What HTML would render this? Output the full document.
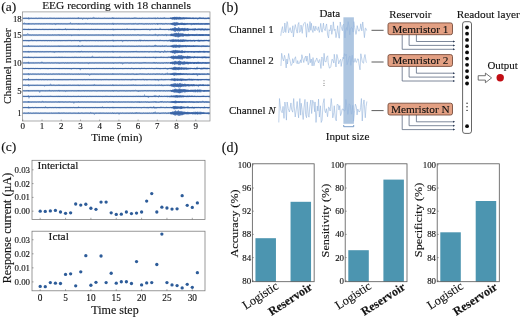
<!DOCTYPE html>
<html><head><meta charset="utf-8"><title>Figure</title>
<style>html,body{margin:0;padding:0;background:#fff;}svg{display:block;filter:blur(0.35px);}svg text{font-family:"Liberation Serif","Times New Roman",serif;}</style>
</head><body>
<svg width="520" height="318" viewBox="0 0 520 318" >
<rect width="520" height="318" fill="#fff"/>
<text x="1.20" y="11.00" font-size="13.5" text-anchor="start" fill="#111" stroke="#111" stroke-width="0.13" >(a)</text>
<text x="116.50" y="9.10" font-size="11.4" text-anchor="middle" fill="#111" stroke="#111" stroke-width="0.13" >EEG recording with 18 channels</text>
<text transform="translate(11.40,66.20) rotate(-90)" font-size="11.4" text-anchor="middle" fill="#111" stroke="#111" stroke-width="0.13" >Channel number</text>
<rect x="22.6" y="11.9" width="187.4" height="109.1" fill="#fbfcfe" stroke="none"/>
<line x1="22.6" y1="18.30" x2="210.0" y2="18.30" stroke="#a9c2e4" stroke-width="2.2" stroke-opacity="0.28"/>
<polyline points="22.90,18.09 23.30,18.35 23.70,18.38 24.10,18.36 24.50,18.31 24.90,18.21 25.30,18.17 25.70,18.21 26.10,18.26 26.50,18.07 26.90,18.43 27.30,18.38 27.70,18.38 28.10,18.13 28.50,17.47 28.90,19.54 29.30,18.45 29.70,18.20 30.10,18.20 30.50,18.27 30.90,18.62 31.30,18.34 31.70,18.12 32.10,18.26 32.50,18.46 32.90,18.01 33.30,18.56 33.70,18.26 34.10,18.35 34.50,18.47 34.90,18.14 35.30,18.14 35.70,18.27 36.10,18.20 36.50,18.09 36.90,18.25 37.30,18.76 37.70,18.58 38.10,18.49 38.50,18.15 38.90,18.23 39.30,18.23 39.70,18.09 40.10,18.04 40.50,18.08 40.90,18.19 41.30,18.01 41.70,18.24 42.10,18.44 42.50,18.30 42.90,18.56 43.30,18.09 43.70,18.55 44.10,18.39 44.50,18.32 44.90,18.40 45.30,18.47 45.70,18.09 46.10,18.46 46.50,18.52 46.90,18.28 47.30,18.39 47.70,18.22 48.10,18.32 48.50,18.52 48.90,18.41 49.30,18.20 49.70,18.14 50.10,18.39 50.50,18.05 50.90,17.90 51.30,18.03 51.70,18.35 52.10,18.19 52.50,18.38 52.90,18.49 53.30,18.43 53.70,18.18 54.10,18.34 54.50,18.25 54.90,18.02 55.30,18.41 55.70,18.69 56.10,18.34 56.50,18.41 56.90,18.22 57.30,18.46 57.70,18.27 58.10,18.07 58.50,18.48 58.90,17.89 59.30,18.89 59.70,18.46 60.10,18.28 60.50,18.31 60.90,18.19 61.30,18.27 61.70,18.29 62.10,18.36 62.50,18.57 62.90,18.34 63.30,18.45 63.70,18.17 64.10,18.54 64.50,18.45 64.90,18.24 65.30,18.42 65.70,18.24 66.10,18.07 66.50,18.50 66.90,18.29 67.30,18.37 67.70,18.22 68.10,18.16 68.50,18.22 68.90,18.36 69.30,18.31 69.70,18.39 70.10,18.53 70.50,18.16 70.90,18.15 71.30,18.31 71.70,18.30 72.10,18.15 72.50,18.26 72.90,18.24 73.30,18.27 73.70,18.30 74.10,18.44 74.50,17.91 74.90,18.05 75.30,18.57 75.70,18.32 76.10,18.31 76.50,18.37 76.90,18.41 77.30,18.25 77.70,18.20 78.10,18.52 78.50,17.29 78.90,18.72 79.30,18.41 79.70,18.11 80.10,18.55 80.50,18.19 80.90,18.40 81.30,18.14 81.70,18.29 82.10,18.42 82.50,19.52 82.90,19.47 83.30,18.31 83.70,18.14 84.10,18.38 84.50,18.37 84.90,18.28 85.30,18.66 85.70,18.27 86.10,18.21 86.50,18.35 86.90,18.33 87.30,19.14 87.70,19.51 88.10,18.15 88.50,18.30 88.90,18.22 89.30,18.41 89.70,18.44 90.10,18.42 90.50,18.20 90.90,18.09 91.30,18.30 91.70,18.44 92.10,18.40 92.50,18.16 92.90,18.17 93.30,17.20 93.70,16.98 94.10,18.01 94.50,18.10 94.90,18.00 95.30,18.25 95.70,18.30 96.10,18.27 96.50,18.23 96.90,18.01 97.30,18.54 97.70,18.52 98.10,18.26 98.50,18.00 98.90,18.29 99.30,18.33 99.70,18.44 100.10,18.38 100.50,18.30 100.90,18.70 101.30,18.20 101.70,18.58 102.10,18.13 102.50,18.46 102.90,18.31 103.30,18.43 103.70,18.24 104.10,18.04 104.50,17.93 104.90,18.26 105.30,18.33 105.70,18.29 106.10,18.23 106.50,18.39 106.90,18.45 107.30,17.98 107.70,18.29 108.10,18.06 108.50,18.63 108.90,18.42 109.30,18.35 109.70,18.17 110.10,18.26 110.50,18.37 110.90,18.22 111.30,17.97 111.70,18.32 112.10,18.39 112.50,18.08 112.90,17.14 113.30,18.97 113.70,18.20 114.10,18.09 114.50,18.20 114.90,18.05 115.30,18.36 115.70,18.42 116.10,18.32 116.50,18.23 116.90,18.07 117.30,18.09 117.70,18.57 118.10,18.17 118.50,18.09 118.90,18.37 119.30,18.24 119.70,18.17 120.10,18.58 120.50,18.33 120.90,18.62 121.30,17.92 121.70,18.38 122.10,18.36 122.50,18.30 122.90,18.40 123.30,18.38 123.70,18.30 124.10,18.12 124.50,18.18 124.90,18.26 125.30,18.18 125.70,18.27 126.10,18.42 126.50,18.19 126.90,18.49 127.30,18.48 127.70,18.28 128.10,18.33 128.50,17.97 128.90,18.48 129.30,18.00 129.70,18.26 130.10,18.57 130.50,18.48 130.90,18.70 131.30,18.32 131.70,18.37 132.10,18.03 132.50,19.00 132.90,18.27 133.30,18.37 133.70,18.28 134.10,17.45 134.50,17.72 134.90,18.23 135.30,17.59 135.70,18.13 136.10,18.29 136.50,17.98 136.90,17.89 137.30,18.51 137.70,18.34 138.10,18.20 138.50,18.59 138.90,18.38 139.30,18.02 139.70,18.98 140.10,18.51 140.50,18.46 140.90,18.36 141.30,19.03 141.70,18.01 142.10,18.08 142.50,18.07 142.90,17.83 143.30,18.34 143.70,18.27 144.10,18.21 144.50,18.05 144.90,18.58 145.30,18.43 145.70,18.53 146.10,18.53 146.50,18.39 146.90,18.20 147.30,18.11 147.70,18.53 148.10,18.24 148.50,17.99 148.90,18.25 149.30,18.28 149.70,18.17 150.10,17.80 150.50,18.32 150.90,18.05 151.30,18.22 151.70,17.97 152.10,18.79 152.50,18.30 152.90,17.93 153.30,18.10 153.70,17.90 154.10,18.43 154.50,18.13 154.90,17.83 155.30,17.64 155.70,19.17 156.10,18.68 156.50,18.48 156.90,18.45 157.30,18.12 157.70,17.52 158.10,17.72 158.50,18.57 158.90,18.46 159.30,18.61 159.70,18.23 160.10,18.78 160.50,17.71 160.90,18.34 161.30,18.77 161.70,17.92 162.10,18.89 162.50,18.17 162.90,18.25 163.30,17.65 163.70,18.82 164.10,18.32 164.50,17.37 164.90,18.34 165.30,18.71 165.70,17.99 166.10,18.06 166.50,18.40 166.90,18.89 167.30,18.40 167.70,18.67 168.10,18.99 168.50,18.36 168.90,18.50 169.30,18.39 169.70,18.08 170.10,18.60 170.50,18.08 170.90,17.92 171.30,18.49 171.70,18.87 172.10,18.72 172.50,18.55 172.90,18.46 173.30,17.85 173.70,18.19 174.10,18.02 174.50,17.69 174.90,18.35 175.30,18.20 175.70,17.97 176.10,17.78 176.50,18.47 176.90,18.78 177.30,18.15 177.70,17.60 178.10,18.31 178.50,18.37 178.90,18.51 179.30,18.08 179.70,18.23 180.10,17.99 180.50,17.65 180.90,18.49 181.30,18.45 181.70,18.58 182.10,18.19 182.50,18.20 182.90,18.35 183.30,18.01 183.70,18.38 184.10,17.74 184.50,18.36 184.90,18.35 185.30,18.16 185.70,17.98 186.10,17.53 186.50,17.76 186.90,17.81 187.30,17.31 187.70,17.96 188.10,18.74 188.50,17.83 188.90,17.63 189.30,18.46 189.70,17.87 190.10,18.62 190.50,18.22 190.90,18.07 191.30,18.57 191.70,18.62 192.10,18.01 192.50,18.20 192.90,18.31 193.30,17.75 193.70,18.98 194.10,18.59 194.50,18.64 194.90,18.39 195.30,18.50 195.70,18.20 196.10,18.50 196.50,18.10 196.90,18.23 197.30,18.52 197.70,19.54 198.10,18.12 198.50,18.80 198.90,18.16 199.30,17.87 199.70,17.31 200.10,17.26 200.50,18.07 200.90,18.37 201.30,18.31 201.70,18.41 202.10,18.66 202.50,18.08 202.90,18.13 203.30,17.95 203.70,18.15 204.10,18.38 204.50,19.17 204.90,18.48 205.30,18.03 205.70,17.85 206.10,19.22 206.50,18.82 206.90,18.18 207.30,17.83 207.70,18.03 208.10,18.55 208.50,18.86 208.90,17.11 209.30,18.96 209.70,18.59" fill="none" stroke="#3f70b4" stroke-width="0.5" stroke-opacity="0.9"/>
<polygon points="170.10,17.48 170.50,17.41 170.90,17.42 171.30,17.61 171.70,17.42 172.10,17.38 172.50,17.12 172.90,16.90 173.30,16.93 173.70,17.03 174.10,17.01 174.50,16.85 174.90,16.73 175.30,16.97 175.70,16.97 176.10,16.43 176.50,17.19 176.90,16.68 177.30,16.67 177.70,17.15 178.10,17.29 178.50,17.23 178.90,16.80 179.30,17.00 179.70,16.87 180.10,16.95 180.50,17.32 180.90,17.19 181.30,17.26 181.70,17.39 182.10,17.54 182.50,17.21 182.90,17.52 183.30,17.20 183.70,17.26 184.10,17.35 184.50,17.50 184.90,17.53 185.30,17.56 185.70,17.51 186.10,17.54 186.50,17.64 186.90,17.68 187.30,17.69 187.70,17.89 188.10,17.72 188.50,17.80 188.90,17.72 189.30,17.55 189.70,17.75 190.10,17.61 190.50,17.75 190.90,17.84 191.30,17.64 191.70,17.72 192.10,17.73 192.50,17.77 192.90,17.47 193.30,17.75 193.70,17.77 194.10,17.72 194.50,17.68 194.90,17.88 195.30,17.84 195.70,17.76 196.10,17.86 196.50,17.84 196.90,17.93 197.30,17.85 197.70,17.92 198.10,17.84 198.50,17.72 198.90,17.83 199.30,17.74 199.70,17.82 200.10,17.77 200.50,17.81 200.90,17.85 201.30,17.64 201.70,17.71 202.10,17.86 202.50,17.80 202.90,17.84 203.30,17.85 203.70,17.77 204.10,17.93 204.50,17.87 204.90,18.01 205.30,17.97 205.70,17.95 206.10,18.00 206.50,18.00 206.90,17.87 207.30,17.89 207.70,17.82 208.10,17.89 208.50,17.87 208.90,17.89 209.30,18.02 209.70,18.04 209.70,18.66 209.30,18.63 208.90,18.71 208.50,18.68 208.10,18.68 207.70,18.81 207.30,18.69 206.90,18.76 206.50,18.66 206.10,18.75 205.70,18.68 205.30,18.70 204.90,18.75 204.50,18.73 204.10,18.77 203.70,18.76 203.30,18.66 202.90,18.79 202.50,18.80 202.10,18.76 201.70,18.84 201.30,18.95 200.90,18.76 200.50,18.76 200.10,18.84 199.70,18.81 199.30,18.84 198.90,18.80 198.50,18.88 198.10,18.82 197.70,18.71 197.30,18.75 196.90,18.64 196.50,18.72 196.10,18.73 195.70,18.88 195.30,18.81 194.90,18.84 194.50,18.94 194.10,18.79 193.70,18.89 193.30,19.03 192.90,18.88 192.50,19.09 192.10,18.95 191.70,18.87 191.30,18.81 190.90,18.70 190.50,19.05 190.10,18.92 189.70,18.97 189.30,18.93 188.90,18.92 188.50,18.90 188.10,18.93 187.70,18.95 187.30,18.95 186.90,18.81 186.50,18.96 186.10,19.17 185.70,18.94 185.30,18.95 184.90,19.17 184.50,19.46 184.10,19.34 183.70,19.29 183.30,19.22 182.90,19.49 182.50,19.33 182.10,19.44 181.70,19.49 181.30,19.22 180.90,19.65 180.50,19.33 180.10,19.67 179.70,19.39 179.30,19.54 178.90,19.55 178.50,19.61 178.10,19.76 177.70,19.28 177.30,19.59 176.90,19.86 176.50,19.63 176.10,19.86 175.70,19.53 175.30,19.55 174.90,20.17 174.50,19.67 174.10,19.54 173.70,19.51 173.30,19.61 172.90,19.38 172.50,19.67 172.10,19.48 171.70,19.17 171.30,19.01 170.90,19.10 170.50,18.87 170.10,18.87" fill="#3763aa" fill-opacity="0.88"/>
<line x1="22.6" y1="18.30" x2="210.0" y2="18.30" stroke="#2f5a9c" stroke-width="0.85"/>
<line x1="22.6" y1="23.88" x2="210.0" y2="23.88" stroke="#a9c2e4" stroke-width="2.2" stroke-opacity="0.28"/>
<polyline points="22.90,23.63 23.30,23.52 23.70,24.04 24.10,22.68 24.50,22.75 24.90,23.70 25.30,23.83 25.70,23.53 26.10,24.06 26.50,23.96 26.90,23.70 27.30,23.91 27.70,24.15 28.10,24.01 28.50,23.00 28.90,24.63 29.30,23.68 29.70,23.64 30.10,23.60 30.50,24.12 30.90,23.99 31.30,23.79 31.70,24.17 32.10,23.80 32.50,23.76 32.90,24.06 33.30,23.89 33.70,23.94 34.10,24.16 34.50,24.19 34.90,23.97 35.30,23.92 35.70,23.63 36.10,23.91 36.50,23.78 36.90,23.80 37.30,23.83 37.70,24.01 38.10,23.57 38.50,23.89 38.90,24.16 39.30,23.82 39.70,23.76 40.10,24.01 40.50,24.08 40.90,23.79 41.30,23.75 41.70,24.05 42.10,23.94 42.50,23.86 42.90,24.25 43.30,23.87 43.70,23.81 44.10,23.70 44.50,23.90 44.90,23.94 45.30,23.99 45.70,23.97 46.10,23.94 46.50,23.54 46.90,23.63 47.30,23.80 47.70,23.86 48.10,23.75 48.50,23.99 48.90,23.58 49.30,23.68 49.70,23.98 50.10,23.89 50.50,23.88 50.90,24.03 51.30,24.11 51.70,23.92 52.10,24.00 52.50,24.20 52.90,24.21 53.30,23.84 53.70,24.08 54.10,23.67 54.50,23.79 54.90,23.79 55.30,24.65 55.70,25.03 56.10,23.52 56.50,24.02 56.90,23.80 57.30,23.73 57.70,23.68 58.10,23.81 58.50,23.67 58.90,23.36 59.30,24.19 59.70,23.75 60.10,23.86 60.50,23.87 60.90,24.05 61.30,23.74 61.70,23.84 62.10,23.60 62.50,24.14 62.90,23.98 63.30,23.69 63.70,24.03 64.10,23.87 64.50,23.82 64.90,24.03 65.30,24.01 65.70,23.85 66.10,24.11 66.50,23.99 66.90,24.04 67.30,24.00 67.70,24.04 68.10,23.90 68.50,23.75 68.90,23.78 69.30,23.82 69.70,24.02 70.10,22.84 70.50,22.36 70.90,23.91 71.30,23.87 71.70,24.25 72.10,23.66 72.50,24.04 72.90,23.74 73.30,23.85 73.70,23.80 74.10,23.99 74.50,23.87 74.90,23.99 75.30,23.75 75.70,23.70 76.10,23.68 76.50,23.54 76.90,24.14 77.30,23.88 77.70,24.29 78.10,23.68 78.50,23.22 78.90,24.36 79.30,23.70 79.70,24.03 80.10,23.82 80.50,23.93 80.90,24.04 81.30,23.97 81.70,23.94 82.10,23.85 82.50,23.75 82.90,23.88 83.30,24.03 83.70,23.86 84.10,23.64 84.50,23.90 84.90,24.09 85.30,23.75 85.70,22.97 86.10,22.93 86.50,23.94 86.90,23.88 87.30,23.69 87.70,23.75 88.10,23.69 88.50,23.63 88.90,23.90 89.30,23.82 89.70,24.01 90.10,23.71 90.50,23.58 90.90,23.89 91.30,24.13 91.70,24.04 92.10,24.02 92.50,23.69 92.90,23.77 93.30,24.33 93.70,23.79 94.10,23.87 94.50,23.89 94.90,23.94 95.30,24.06 95.70,24.04 96.10,23.96 96.50,24.06 96.90,23.82 97.30,23.85 97.70,23.91 98.10,23.61 98.50,24.21 98.90,23.81 99.30,23.99 99.70,23.80 100.10,23.72 100.50,23.78 100.90,23.98 101.30,23.95 101.70,23.82 102.10,23.67 102.50,23.95 102.90,23.93 103.30,23.63 103.70,23.80 104.10,23.59 104.50,23.87 104.90,24.09 105.30,23.89 105.70,23.71 106.10,23.93 106.50,24.10 106.90,23.93 107.30,23.97 107.70,23.93 108.10,23.76 108.50,23.63 108.90,23.87 109.30,23.76 109.70,24.01 110.10,24.21 110.50,23.79 110.90,23.86 111.30,24.03 111.70,24.06 112.10,24.03 112.50,23.87 112.90,22.81 113.30,24.89 113.70,23.83 114.10,23.85 114.50,23.78 114.90,23.91 115.30,24.00 115.70,23.75 116.10,23.88 116.50,23.95 116.90,24.19 117.30,23.68 117.70,23.54 118.10,23.77 118.50,23.85 118.90,24.01 119.30,24.14 119.70,23.75 120.10,23.92 120.50,23.73 120.90,23.72 121.30,23.92 121.70,23.80 122.10,23.93 122.50,23.61 122.90,23.74 123.30,23.98 123.70,23.90 124.10,24.05 124.50,24.05 124.90,23.68 125.30,24.01 125.70,24.18 126.10,23.90 126.50,24.01 126.90,23.89 127.30,24.05 127.70,24.01 128.10,24.02 128.50,23.83 128.90,23.59 129.30,24.03 129.70,23.81 130.10,23.44 130.50,23.86 130.90,23.69 131.30,23.88 131.70,24.03 132.10,23.82 132.50,24.13 132.90,23.71 133.30,24.34 133.70,23.52 134.10,23.68 134.50,23.80 134.90,24.00 135.30,23.63 135.70,23.30 136.10,23.59 136.50,23.91 136.90,24.33 137.30,24.18 137.70,23.86 138.10,24.32 138.50,23.55 138.90,23.87 139.30,23.60 139.70,23.44 140.10,23.46 140.50,23.93 140.90,23.99 141.30,23.54 141.70,23.78 142.10,23.50 142.50,24.03 142.90,24.16 143.30,24.08 143.70,24.32 144.10,24.18 144.50,24.36 144.90,24.14 145.30,23.96 145.70,23.50 146.10,24.28 146.50,23.95 146.90,23.82 147.30,23.72 147.70,23.74 148.10,24.01 148.50,24.23 148.90,24.08 149.30,23.67 149.70,23.80 150.10,24.03 150.50,24.20 150.90,24.19 151.30,23.88 151.70,23.86 152.10,24.25 152.50,24.05 152.90,24.06 153.30,23.61 153.70,24.04 154.10,23.55 154.50,23.49 154.90,23.83 155.30,24.00 155.70,24.22 156.10,23.90 156.50,23.53 156.90,23.91 157.30,23.22 157.70,24.95 158.10,23.44 158.50,24.08 158.90,23.67 159.30,23.08 159.70,23.51 160.10,23.37 160.50,23.89 160.90,24.20 161.30,23.12 161.70,23.75 162.10,23.33 162.50,24.40 162.90,23.79 163.30,23.76 163.70,23.80 164.10,24.48 164.50,23.89 164.90,24.01 165.30,23.33 165.70,23.08 166.10,23.94 166.50,23.35 166.90,24.14 167.30,24.01 167.70,24.03 168.10,23.97 168.50,23.45 168.90,23.89 169.30,23.97 169.70,23.86 170.10,24.04 170.50,23.74 170.90,23.48 171.30,23.87 171.70,23.35 172.10,23.28 172.50,23.48 172.90,23.62 173.30,24.17 173.70,24.44 174.10,24.09 174.50,24.11 174.90,23.90 175.30,23.42 175.70,23.57 176.10,23.27 176.50,23.72 176.90,24.50 177.30,24.38 177.70,24.08 178.10,23.38 178.50,23.88 178.90,24.04 179.30,23.68 179.70,24.31 180.10,23.22 180.50,24.05 180.90,24.28 181.30,24.07 181.70,24.02 182.10,23.58 182.50,23.78 182.90,23.95 183.30,23.34 183.70,24.90 184.10,23.74 184.50,24.29 184.90,25.15 185.30,24.71 185.70,23.59 186.10,23.89 186.50,23.85 186.90,24.11 187.30,23.17 187.70,23.43 188.10,24.13 188.50,23.85 188.90,24.30 189.30,23.51 189.70,23.76 190.10,24.17 190.50,23.87 190.90,24.55 191.30,25.28 191.70,24.14 192.10,24.24 192.50,24.28 192.90,24.42 193.30,23.25 193.70,24.25 194.10,23.29 194.50,24.71 194.90,23.77 195.30,23.93 195.70,23.01 196.10,23.79 196.50,24.09 196.90,23.59 197.30,24.02 197.70,23.82 198.10,23.37 198.50,23.17 198.90,24.58 199.30,23.60 199.70,24.39 200.10,23.97 200.50,24.28 200.90,23.41 201.30,23.50 201.70,24.13 202.10,24.03 202.50,24.28 202.90,24.25 203.30,23.91 203.70,23.59 204.10,23.48 204.50,24.48 204.90,24.16 205.30,24.33 205.70,23.50 206.10,23.53 206.50,23.97 206.90,24.11 207.30,24.02 207.70,23.76 208.10,23.18 208.50,23.82 208.90,23.85 209.30,24.09 209.70,23.99" fill="none" stroke="#3f70b4" stroke-width="0.5" stroke-opacity="0.9"/>
<polygon points="170.50,23.22 170.90,23.11 171.30,23.30 171.70,22.96 172.10,22.77 172.50,22.73 172.90,22.76 173.30,22.47 173.70,22.26 174.10,22.66 174.50,22.00 174.90,21.99 175.30,22.39 175.70,22.31 176.10,22.43 176.50,22.36 176.90,21.82 177.30,22.54 177.70,22.27 178.10,22.81 178.50,22.80 178.90,22.80 179.30,22.99 179.70,23.17 180.10,22.95 180.50,23.01 180.90,22.61 181.30,22.79 181.70,22.79 182.10,22.48 182.50,22.85 182.90,23.09 183.30,22.95 183.70,23.03 184.10,23.10 184.50,22.71 184.90,23.13 185.30,23.13 185.70,23.23 186.10,23.23 186.50,23.15 186.90,23.28 187.30,23.25 187.70,23.25 188.10,23.36 188.50,23.45 188.90,23.37 189.30,23.19 189.70,23.41 190.10,23.31 190.50,23.25 190.90,23.34 191.30,23.35 191.70,23.18 192.10,23.36 192.50,23.38 192.90,23.18 193.30,23.19 193.70,23.10 194.10,23.28 194.50,23.16 194.90,23.41 195.30,23.33 195.70,23.30 196.10,23.39 196.50,23.12 196.90,23.09 197.30,23.33 197.70,23.22 198.10,23.16 198.50,23.35 198.90,23.46 199.30,23.39 199.70,23.47 200.10,23.40 200.50,23.31 200.90,23.30 201.30,23.17 201.70,23.20 202.10,23.21 202.50,23.32 202.90,23.30 203.30,23.45 203.70,23.39 204.10,23.35 204.50,23.45 204.90,23.15 205.30,23.24 205.70,23.36 206.10,23.09 206.50,23.15 206.90,23.02 207.30,23.14 207.70,23.29 208.10,23.19 208.50,23.32 208.90,23.30 209.30,23.30 209.70,23.23 209.70,24.75 209.30,24.51 208.90,24.48 208.50,24.44 208.10,24.43 207.70,24.39 207.30,24.71 206.90,24.68 206.50,24.54 206.10,24.59 205.70,24.65 205.30,24.46 204.90,24.44 204.50,24.45 204.10,24.39 203.70,24.45 203.30,24.51 202.90,24.49 202.50,24.57 202.10,24.53 201.70,24.44 201.30,24.68 200.90,24.64 200.50,24.42 200.10,24.40 199.70,24.40 199.30,24.29 198.90,24.35 198.50,24.50 198.10,24.40 197.70,24.37 197.30,24.65 196.90,24.68 196.50,24.39 196.10,24.52 195.70,24.55 195.30,24.52 194.90,24.53 194.50,24.56 194.10,24.61 193.70,24.59 193.30,24.45 192.90,24.43 192.50,24.41 192.10,24.50 191.70,24.45 191.30,24.39 190.90,24.47 190.50,24.33 190.10,24.37 189.70,24.33 189.30,24.56 188.90,24.56 188.50,24.31 188.10,24.36 187.70,24.42 187.30,24.73 186.90,24.57 186.50,24.76 186.10,24.83 185.70,24.90 185.30,24.77 184.90,24.70 184.50,25.02 184.10,25.07 183.70,25.18 183.30,24.80 182.90,24.84 182.50,25.02 182.10,24.99 181.70,24.93 181.30,25.00 180.90,25.03 180.50,24.70 180.10,24.85 179.70,24.84 179.30,25.19 178.90,25.09 178.50,25.10 178.10,24.95 177.70,25.03 177.30,25.57 176.90,25.67 176.50,25.16 176.10,25.61 175.70,25.91 175.30,25.87 174.90,25.88 174.50,25.90 174.10,25.48 173.70,25.60 173.30,25.04 172.90,25.27 172.50,25.17 172.10,24.74 171.70,24.69 171.30,24.72 170.90,24.50 170.50,24.44" fill="#3763aa" fill-opacity="0.88"/>
<line x1="22.6" y1="23.88" x2="210.0" y2="23.88" stroke="#2f5a9c" stroke-width="0.85"/>
<line x1="22.6" y1="29.46" x2="210.0" y2="29.46" stroke="#a9c2e4" stroke-width="2.2" stroke-opacity="0.28"/>
<polyline points="22.90,29.53 23.30,29.42 23.70,28.98 24.10,29.36 24.50,29.17 24.90,29.34 25.30,29.24 25.70,29.50 26.10,29.57 26.50,29.51 26.90,29.43 27.30,29.75 27.70,29.46 28.10,29.39 28.50,28.76 28.90,30.15 29.30,29.52 29.70,29.62 30.10,29.34 30.50,29.43 30.90,29.43 31.30,29.59 31.70,29.68 32.10,29.43 32.50,29.49 32.90,29.19 33.30,29.16 33.70,29.74 34.10,29.43 34.50,29.29 34.90,29.40 35.30,29.34 35.70,29.25 36.10,29.39 36.50,29.33 36.90,29.38 37.30,29.46 37.70,29.50 38.10,29.60 38.50,29.53 38.90,29.63 39.30,29.17 39.70,29.29 40.10,29.34 40.50,29.60 40.90,29.32 41.30,29.72 41.70,29.48 42.10,29.30 42.50,29.34 42.90,29.19 43.30,29.55 43.70,29.35 44.10,29.69 44.50,29.62 44.90,29.32 45.30,29.56 45.70,29.32 46.10,29.33 46.50,29.43 46.90,29.69 47.30,29.73 47.70,29.44 48.10,29.30 48.50,29.76 48.90,29.41 49.30,29.51 49.70,29.23 50.10,29.30 50.50,29.68 50.90,29.15 51.30,29.44 51.70,29.40 52.10,28.92 52.50,29.69 52.90,29.37 53.30,29.55 53.70,29.74 54.10,29.55 54.50,29.26 54.90,29.64 55.30,29.68 55.70,29.65 56.10,29.37 56.50,29.52 56.90,29.27 57.30,29.47 57.70,29.35 58.10,29.25 58.50,29.73 58.90,28.81 59.30,30.07 59.70,29.44 60.10,29.39 60.50,29.42 60.90,29.55 61.30,29.55 61.70,29.65 62.10,29.63 62.50,29.68 62.90,29.52 63.30,29.41 63.70,29.58 64.10,29.44 64.50,29.53 64.90,29.35 65.30,28.46 65.70,28.33 66.10,29.90 66.50,29.89 66.90,29.57 67.30,29.40 67.70,29.24 68.10,29.43 68.50,29.29 68.90,29.48 69.30,29.29 69.70,29.55 70.10,29.29 70.50,29.34 70.90,29.13 71.30,29.70 71.70,29.11 72.10,29.14 72.50,29.21 72.90,29.58 73.30,29.26 73.70,29.32 74.10,29.52 74.50,29.29 74.90,29.39 75.30,29.49 75.70,29.53 76.10,29.52 76.50,29.51 76.90,29.46 77.30,29.84 77.70,29.12 78.10,29.64 78.50,28.80 78.90,30.01 79.30,29.95 79.70,29.72 80.10,29.38 80.50,29.49 80.90,29.35 81.30,29.46 81.70,29.37 82.10,29.47 82.50,29.29 82.90,29.33 83.30,29.44 83.70,29.41 84.10,29.61 84.50,29.30 84.90,29.50 85.30,29.31 85.70,29.45 86.10,29.33 86.50,29.42 86.90,29.88 87.30,29.25 87.70,29.56 88.10,29.34 88.50,29.48 88.90,29.33 89.30,29.54 89.70,29.67 90.10,29.56 90.50,29.47 90.90,29.67 91.30,29.36 91.70,29.25 92.10,29.38 92.50,29.43 92.90,29.44 93.30,29.34 93.70,29.54 94.10,29.32 94.50,29.86 94.90,29.53 95.30,29.21 95.70,29.43 96.10,29.08 96.50,29.59 96.90,29.29 97.30,29.19 97.70,29.42 98.10,29.20 98.50,29.52 98.90,29.36 99.30,29.61 99.70,29.55 100.10,29.32 100.50,29.53 100.90,29.57 101.30,29.71 101.70,29.23 102.10,29.68 102.50,29.65 102.90,29.49 103.30,29.91 103.70,29.45 104.10,29.45 104.50,29.26 104.90,29.54 105.30,29.60 105.70,29.39 106.10,29.24 106.50,29.77 106.90,29.35 107.30,29.72 107.70,29.52 108.10,29.56 108.50,29.47 108.90,29.15 109.30,29.44 109.70,29.56 110.10,29.57 110.50,29.35 110.90,29.81 111.30,29.52 111.70,29.44 112.10,29.30 112.50,29.18 112.90,28.73 113.30,30.34 113.70,29.43 114.10,29.53 114.50,29.73 114.90,29.60 115.30,29.23 115.70,29.72 116.10,29.65 116.50,29.42 116.90,29.37 117.30,29.21 117.70,29.43 118.10,29.49 118.50,29.36 118.90,29.44 119.30,29.42 119.70,29.45 120.10,29.38 120.50,29.45 120.90,29.76 121.30,29.68 121.70,29.47 122.10,29.27 122.50,29.26 122.90,29.35 123.30,29.53 123.70,29.42 124.10,29.31 124.50,29.19 124.90,29.32 125.30,29.55 125.70,29.40 126.10,29.17 126.50,29.33 126.90,28.57 127.30,28.56 127.70,29.44 128.10,29.28 128.50,29.57 128.90,29.33 129.30,29.38 129.70,29.24 130.10,29.60 130.50,29.69 130.90,29.48 131.30,29.61 131.70,28.99 132.10,29.61 132.50,28.95 132.90,29.35 133.30,29.33 133.70,29.25 134.10,29.79 134.50,30.26 134.90,28.82 135.30,29.56 135.70,29.77 136.10,29.41 136.50,29.66 136.90,29.07 137.30,29.24 137.70,29.80 138.10,29.81 138.50,29.44 138.90,29.77 139.30,29.74 139.70,29.66 140.10,29.99 140.50,29.65 140.90,29.06 141.30,29.88 141.70,29.08 142.10,29.59 142.50,29.17 142.90,29.28 143.30,29.77 143.70,29.14 144.10,29.38 144.50,29.33 144.90,29.07 145.30,29.47 145.70,28.90 146.10,29.33 146.50,28.97 146.90,29.46 147.30,29.31 147.70,29.72 148.10,29.53 148.50,29.33 148.90,29.52 149.30,29.85 149.70,30.37 150.10,30.53 150.50,29.48 150.90,29.46 151.30,29.32 151.70,29.13 152.10,29.41 152.50,29.21 152.90,29.07 153.30,29.25 153.70,29.81 154.10,29.65 154.50,29.63 154.90,29.72 155.30,28.62 155.70,30.05 156.10,29.16 156.50,29.34 156.90,29.18 157.30,29.86 157.70,29.13 158.10,29.26 158.50,29.87 158.90,29.56 159.30,29.42 159.70,29.42 160.10,27.83 160.50,29.08 160.90,29.88 161.30,29.27 161.70,29.09 162.10,29.64 162.50,29.21 162.90,29.79 163.30,29.70 163.70,29.32 164.10,29.44 164.50,30.13 164.90,29.10 165.30,29.50 165.70,29.78 166.10,29.44 166.50,29.43 166.90,29.61 167.30,29.35 167.70,29.94 168.10,29.34 168.50,29.02 168.90,30.60 169.30,29.19 169.70,29.73 170.10,29.64 170.50,29.36 170.90,28.78 171.30,30.05 171.70,30.03 172.10,29.75 172.50,29.48 172.90,30.24 173.30,28.90 173.70,29.72 174.10,29.89 174.50,29.44 174.90,27.75 175.30,27.74 175.70,28.95 176.10,29.01 176.50,29.37 176.90,28.71 177.30,29.80 177.70,29.08 178.10,29.77 178.50,29.60 178.90,28.68 179.30,30.37 179.70,30.14 180.10,29.65 180.50,29.97 180.90,28.49 181.30,29.56 181.70,29.34 182.10,30.23 182.50,28.46 182.90,29.74 183.30,29.59 183.70,29.34 184.10,29.32 184.50,30.17 184.90,29.24 185.30,29.62 185.70,29.13 186.10,30.12 186.50,28.89 186.90,28.92 187.30,29.64 187.70,29.44 188.10,29.46 188.50,29.36 188.90,30.08 189.30,29.16 189.70,28.82 190.10,28.98 190.50,29.33 190.90,30.06 191.30,29.00 191.70,29.54 192.10,29.47 192.50,29.75 192.90,29.68 193.30,29.49 193.70,28.97 194.10,29.12 194.50,29.13 194.90,29.78 195.30,28.68 195.70,28.72 196.10,28.84 196.50,29.79 196.90,29.40 197.30,29.71 197.70,29.82 198.10,29.20 198.50,29.23 198.90,28.38 199.30,29.94 199.70,29.12 200.10,29.90 200.50,28.83 200.90,30.01 201.30,29.75 201.70,29.17 202.10,29.53 202.50,28.68 202.90,29.78 203.30,28.93 203.70,29.42 204.10,30.44 204.50,29.20 204.90,29.55 205.30,29.20 205.70,29.88 206.10,29.85 206.50,29.99 206.90,29.21 207.30,30.39 207.70,28.88 208.10,29.44 208.50,29.74 208.90,29.32 209.30,29.58 209.70,29.43" fill="none" stroke="#3f70b4" stroke-width="0.5" stroke-opacity="0.9"/>
<polygon points="170.10,28.73 170.50,28.56 170.90,28.40 171.30,28.63 171.70,28.50 172.10,28.53 172.50,28.10 172.90,27.93 173.30,28.25 173.70,28.00 174.10,27.33 174.50,27.37 174.90,27.87 175.30,27.37 175.70,27.55 176.10,28.01 176.50,28.07 176.90,28.00 177.30,28.36 177.70,27.91 178.10,27.56 178.50,26.99 178.90,27.52 179.30,27.67 179.70,27.84 180.10,28.16 180.50,28.26 180.90,28.13 181.30,28.08 181.70,28.21 182.10,27.85 182.50,27.90 182.90,28.16 183.30,28.25 183.70,28.09 184.10,27.94 184.50,27.81 184.90,28.10 185.30,27.85 185.70,28.40 186.10,28.50 186.50,28.39 186.90,28.21 187.30,27.90 187.70,28.07 188.10,28.24 188.50,28.54 188.90,28.43 189.30,28.90 189.70,28.72 190.10,28.77 190.50,28.83 190.90,28.80 191.30,28.77 191.70,28.68 192.10,28.60 192.50,28.66 192.90,28.48 193.30,28.59 193.70,28.65 194.10,28.67 194.50,28.48 194.90,28.30 195.30,28.48 195.70,28.49 196.10,28.93 196.50,28.94 196.90,28.71 197.30,28.67 197.70,28.61 198.10,28.64 198.50,28.87 198.90,28.86 199.30,28.59 199.70,28.74 200.10,28.71 200.50,28.56 200.90,28.76 201.30,28.51 201.70,28.45 202.10,28.59 202.50,28.60 202.90,28.83 203.30,28.67 203.70,28.67 204.10,28.53 204.50,28.79 204.90,28.67 205.30,28.45 205.70,28.62 206.10,28.78 206.50,28.64 206.90,28.86 207.30,28.69 207.70,28.85 208.10,28.74 208.50,28.70 208.90,28.87 209.30,28.60 209.70,28.84 209.70,30.06 209.30,30.36 208.90,30.14 208.50,30.30 208.10,30.08 207.70,30.15 207.30,30.06 206.90,30.15 206.50,30.14 206.10,30.19 205.70,30.15 205.30,30.32 204.90,30.35 204.50,30.49 204.10,30.34 203.70,30.18 203.30,30.43 202.90,30.31 202.50,30.36 202.10,30.29 201.70,30.24 201.30,30.53 200.90,30.41 200.50,30.41 200.10,30.23 199.70,30.18 199.30,30.12 198.90,30.19 198.50,30.11 198.10,30.35 197.70,30.31 197.30,30.00 196.90,30.18 196.50,30.13 196.10,30.01 195.70,30.08 195.30,30.54 194.90,30.47 194.50,30.66 194.10,30.40 193.70,30.43 193.30,30.36 192.90,30.36 192.50,30.14 192.10,30.30 191.70,30.06 191.30,30.17 190.90,30.28 190.50,30.29 190.10,30.13 189.70,30.23 189.30,29.98 188.90,30.55 188.50,30.64 188.10,30.88 187.70,30.95 187.30,30.70 186.90,30.79 186.50,30.45 186.10,30.78 185.70,31.02 185.30,30.61 184.90,30.63 184.50,30.93 184.10,31.48 183.70,31.18 183.30,31.00 182.90,30.82 182.50,30.98 182.10,30.50 181.70,31.07 181.30,30.63 180.90,30.98 180.50,31.26 180.10,31.02 179.70,31.23 179.30,31.65 178.90,30.89 178.50,31.28 178.10,31.52 177.70,31.49 177.30,31.23 176.90,31.21 176.50,31.09 176.10,31.04 175.70,31.63 175.30,31.91 174.90,31.53 174.50,31.68 174.10,31.40 173.70,31.30 173.30,30.75 172.90,30.80 172.50,30.61 172.10,30.49 171.70,30.69 171.30,30.18 170.90,30.39 170.50,30.14 170.10,30.30" fill="#3763aa" fill-opacity="0.88"/>
<line x1="22.6" y1="29.46" x2="210.0" y2="29.46" stroke="#2f5a9c" stroke-width="0.85"/>
<line x1="22.6" y1="35.04" x2="210.0" y2="35.04" stroke="#a9c2e4" stroke-width="2.2" stroke-opacity="0.28"/>
<polyline points="22.90,34.88 23.30,35.27 23.70,35.08 24.10,35.16 24.50,35.09 24.90,35.00 25.30,35.43 25.70,34.73 26.10,34.91 26.50,35.06 26.90,35.02 27.30,34.21 27.70,33.30 28.10,34.10 28.50,34.25 28.90,35.25 29.30,35.04 29.70,34.83 30.10,34.85 30.50,35.02 30.90,34.82 31.30,35.24 31.70,35.07 32.10,35.23 32.50,34.72 32.90,34.91 33.30,35.17 33.70,35.08 34.10,34.99 34.50,35.11 34.90,34.80 35.30,35.12 35.70,35.09 36.10,35.01 36.50,35.05 36.90,34.90 37.30,35.21 37.70,35.23 38.10,34.98 38.50,34.98 38.90,35.28 39.30,35.03 39.70,34.81 40.10,34.88 40.50,34.95 40.90,35.30 41.30,35.15 41.70,34.90 42.10,35.20 42.50,34.85 42.90,35.26 43.30,35.15 43.70,34.93 44.10,35.01 44.50,35.09 44.90,34.89 45.30,35.21 45.70,34.90 46.10,35.04 46.50,35.29 46.90,35.08 47.30,34.92 47.70,34.88 48.10,34.97 48.50,34.99 48.90,34.94 49.30,34.96 49.70,35.28 50.10,35.49 50.50,34.91 50.90,34.83 51.30,34.95 51.70,35.33 52.10,34.75 52.50,34.84 52.90,34.97 53.30,35.01 53.70,35.27 54.10,35.12 54.50,34.84 54.90,35.01 55.30,34.98 55.70,34.97 56.10,34.88 56.50,35.13 56.90,34.99 57.30,34.85 57.70,34.98 58.10,34.99 58.50,34.96 58.90,34.41 59.30,35.44 59.70,35.07 60.10,34.84 60.50,35.34 60.90,35.10 61.30,34.59 61.70,35.23 62.10,35.16 62.50,35.14 62.90,35.01 63.30,35.01 63.70,34.94 64.10,35.02 64.50,34.88 64.90,34.65 65.30,35.16 65.70,34.99 66.10,34.89 66.50,35.19 66.90,34.89 67.30,34.70 67.70,34.95 68.10,35.11 68.50,34.92 68.90,35.12 69.30,35.21 69.70,34.96 70.10,35.28 70.50,34.71 70.90,35.23 71.30,34.87 71.70,35.96 72.10,35.66 72.50,35.04 72.90,35.11 73.30,35.09 73.70,35.07 74.10,35.07 74.50,35.01 74.90,35.03 75.30,34.96 75.70,34.89 76.10,35.29 76.50,34.83 76.90,34.98 77.30,34.97 77.70,35.09 78.10,34.96 78.50,34.64 78.90,35.75 79.30,35.10 79.70,34.98 80.10,34.91 80.50,35.04 80.90,34.96 81.30,35.10 81.70,34.87 82.10,35.00 82.50,35.06 82.90,35.18 83.30,35.08 83.70,34.97 84.10,34.91 84.50,35.08 84.90,35.47 85.30,35.12 85.70,35.01 86.10,34.98 86.50,34.77 86.90,34.97 87.30,35.20 87.70,34.91 88.10,35.33 88.50,35.10 88.90,35.26 89.30,35.24 89.70,34.96 90.10,34.87 90.50,35.06 90.90,35.16 91.30,35.24 91.70,35.05 92.10,35.34 92.50,35.03 92.90,34.92 93.30,34.92 93.70,35.28 94.10,34.86 94.50,35.18 94.90,35.23 95.30,34.87 95.70,35.21 96.10,34.90 96.50,35.02 96.90,35.19 97.30,34.84 97.70,35.24 98.10,34.65 98.50,35.00 98.90,35.10 99.30,35.04 99.70,35.03 100.10,35.10 100.50,35.20 100.90,35.13 101.30,35.18 101.70,35.03 102.10,34.84 102.50,34.90 102.90,35.33 103.30,34.97 103.70,35.03 104.10,35.19 104.50,34.71 104.90,35.23 105.30,34.94 105.70,35.11 106.10,35.35 106.50,35.37 106.90,35.23 107.30,35.26 107.70,35.18 108.10,35.02 108.50,35.21 108.90,34.95 109.30,35.34 109.70,35.23 110.10,35.25 110.50,35.29 110.90,35.12 111.30,34.88 111.70,35.32 112.10,35.09 112.50,35.06 112.90,34.18 113.30,36.10 113.70,35.17 114.10,35.23 114.50,35.13 114.90,34.70 115.30,35.12 115.70,34.92 116.10,34.96 116.50,35.04 116.90,35.16 117.30,34.83 117.70,34.92 118.10,35.26 118.50,35.12 118.90,35.04 119.30,34.70 119.70,35.28 120.10,35.51 120.50,34.97 120.90,35.16 121.30,34.71 121.70,34.77 122.10,35.11 122.50,35.18 122.90,34.77 123.30,34.68 123.70,35.04 124.10,35.08 124.50,34.87 124.90,35.05 125.30,35.15 125.70,35.50 126.10,35.00 126.50,35.07 126.90,34.89 127.30,34.87 127.70,35.18 128.10,35.19 128.50,34.96 128.90,35.27 129.30,35.21 129.70,35.02 130.10,34.67 130.50,34.80 130.90,34.80 131.30,35.38 131.70,35.04 132.10,34.76 132.50,34.78 132.90,34.86 133.30,35.02 133.70,34.70 134.10,35.25 134.50,34.81 134.90,34.89 135.30,34.90 135.70,35.03 136.10,35.04 136.50,35.22 136.90,35.12 137.30,34.56 137.70,34.86 138.10,34.45 138.50,35.01 138.90,34.65 139.30,35.40 139.70,35.12 140.10,35.22 140.50,34.95 140.90,35.61 141.30,35.24 141.70,34.91 142.10,35.02 142.50,34.78 142.90,34.86 143.30,34.69 143.70,34.81 144.10,35.17 144.50,34.90 144.90,34.72 145.30,34.98 145.70,34.99 146.10,34.95 146.50,35.23 146.90,35.31 147.30,35.21 147.70,35.25 148.10,35.44 148.50,35.12 148.90,35.53 149.30,34.75 149.70,34.78 150.10,34.92 150.50,35.13 150.90,34.97 151.30,35.31 151.70,35.11 152.10,35.16 152.50,35.25 152.90,35.72 153.30,35.06 153.70,34.80 154.10,34.85 154.50,35.15 154.90,34.99 155.30,33.80 155.70,35.47 156.10,34.96 156.50,34.93 156.90,34.64 157.30,35.14 157.70,36.19 158.10,36.02 158.50,34.63 158.90,35.18 159.30,34.52 159.70,35.13 160.10,35.12 160.50,35.08 160.90,35.28 161.30,35.27 161.70,34.98 162.10,34.30 162.50,35.06 162.90,35.17 163.30,34.87 163.70,35.62 164.10,34.75 164.50,35.15 164.90,35.47 165.30,34.39 165.70,34.24 166.10,34.04 166.50,36.15 166.90,34.73 167.30,34.88 167.70,34.81 168.10,35.16 168.50,35.10 168.90,34.95 169.30,34.92 169.70,34.94 170.10,35.42 170.50,34.15 170.90,35.27 171.30,35.85 171.70,34.12 172.10,35.76 172.50,34.89 172.90,35.52 173.30,35.04 173.70,34.73 174.10,34.86 174.50,34.68 174.90,35.07 175.30,35.31 175.70,35.21 176.10,35.22 176.50,34.77 176.90,34.02 177.30,34.75 177.70,35.20 178.10,35.62 178.50,34.22 178.90,34.73 179.30,34.81 179.70,34.88 180.10,35.58 180.50,34.74 180.90,34.92 181.30,35.02 181.70,34.34 182.10,35.41 182.50,34.49 182.90,34.82 183.30,35.65 183.70,34.20 184.10,34.94 184.50,34.95 184.90,35.95 185.30,35.18 185.70,34.51 186.10,35.11 186.50,35.64 186.90,35.16 187.30,35.59 187.70,34.91 188.10,34.78 188.50,35.06 188.90,35.65 189.30,34.36 189.70,35.38 190.10,34.98 190.50,35.06 190.90,34.85 191.30,34.72 191.70,34.33 192.10,34.96 192.50,35.51 192.90,35.21 193.30,34.93 193.70,34.81 194.10,35.52 194.50,35.71 194.90,35.25 195.30,35.44 195.70,34.58 196.10,35.19 196.50,34.81 196.90,33.82 197.30,35.58 197.70,35.58 198.10,35.38 198.50,35.06 198.90,35.39 199.30,35.29 199.70,34.99 200.10,34.97 200.50,35.24 200.90,34.47 201.30,34.67 201.70,34.78 202.10,35.03 202.50,35.33 202.90,34.18 203.30,36.00 203.70,34.35 204.10,34.94 204.50,35.38 204.90,34.87 205.30,34.99 205.70,35.13 206.10,34.49 206.50,34.97 206.90,35.30 207.30,35.51 207.70,35.29 208.10,35.34 208.50,35.06 208.90,35.38 209.30,35.45 209.70,35.09" fill="none" stroke="#3f70b4" stroke-width="0.5" stroke-opacity="0.9"/>
<polygon points="170.50,34.11 170.90,33.72 171.30,33.84 171.70,33.44 172.10,33.44 172.50,33.65 172.90,33.85 173.30,33.55 173.70,33.47 174.10,33.31 174.50,33.26 174.90,32.65 175.30,33.30 175.70,32.67 176.10,32.73 176.50,33.08 176.90,32.80 177.30,33.34 177.70,33.35 178.10,32.46 178.50,32.32 178.90,32.92 179.30,33.15 179.70,33.44 180.10,32.83 180.50,33.45 180.90,33.16 181.30,33.19 181.70,33.60 182.10,33.11 182.50,33.45 182.90,33.36 183.30,33.73 183.70,33.57 184.10,33.64 184.50,34.17 184.90,33.76 185.30,33.66 185.70,33.93 186.10,33.90 186.50,34.07 186.90,33.98 187.30,33.96 187.70,34.14 188.10,33.50 188.50,34.04 188.90,33.76 189.30,34.14 189.70,34.16 190.10,34.05 190.50,34.37 190.90,34.30 191.30,34.18 191.70,34.27 192.10,34.37 192.50,34.03 192.90,33.88 193.30,34.27 193.70,34.35 194.10,34.00 194.50,34.16 194.90,34.33 195.30,34.37 195.70,34.31 196.10,34.29 196.50,34.43 196.90,34.28 197.30,34.51 197.70,34.32 198.10,34.26 198.50,34.24 198.90,34.37 199.30,33.99 199.70,33.94 200.10,34.22 200.50,34.22 200.90,34.08 201.30,34.34 201.70,34.34 202.10,34.03 202.50,34.21 202.90,34.20 203.30,34.46 203.70,34.19 204.10,34.24 204.50,34.47 204.90,34.28 205.30,34.12 205.70,34.40 206.10,34.30 206.50,34.24 206.90,34.16 207.30,34.32 207.70,34.29 208.10,34.22 208.50,33.98 208.90,34.29 209.30,34.08 209.70,34.15 209.70,36.09 209.30,36.17 208.90,35.94 208.50,36.01 208.10,36.01 207.70,35.83 207.30,35.69 206.90,35.66 206.50,35.71 206.10,35.63 205.70,35.68 205.30,35.72 204.90,35.58 204.50,35.77 204.10,35.62 203.70,35.62 203.30,35.91 202.90,35.67 202.50,35.93 202.10,35.95 201.70,35.82 201.30,35.91 200.90,35.89 200.50,36.08 200.10,36.05 199.70,35.91 199.30,35.87 198.90,35.90 198.50,35.66 198.10,35.85 197.70,35.59 197.30,35.58 196.90,35.81 196.50,35.88 196.10,35.65 195.70,35.94 195.30,35.70 194.90,35.77 194.50,35.92 194.10,35.91 193.70,35.97 193.30,35.75 192.90,36.10 192.50,35.77 192.10,35.76 191.70,35.71 191.30,35.86 190.90,35.52 190.50,35.91 190.10,35.85 189.70,35.89 189.30,36.13 188.90,36.31 188.50,36.07 188.10,36.45 187.70,36.26 187.30,36.14 186.90,36.37 186.50,36.46 186.10,35.99 185.70,36.13 185.30,36.16 184.90,36.03 184.50,35.98 184.10,36.30 183.70,36.74 183.30,36.60 182.90,36.77 182.50,36.84 182.10,36.22 181.70,36.87 181.30,36.35 180.90,36.70 180.50,36.41 180.10,36.87 179.70,37.06 179.30,36.83 178.90,37.70 178.50,36.85 178.10,37.70 177.70,37.59 177.30,36.79 176.90,36.63 176.50,36.67 176.10,37.17 175.70,36.82 175.30,37.34 174.90,36.62 174.50,36.87 174.10,36.49 173.70,36.02 173.30,36.68 172.90,36.30 172.50,36.12 172.10,36.25 171.70,36.12 171.30,35.98 170.90,36.24 170.50,36.05" fill="#3763aa" fill-opacity="0.88"/>
<line x1="22.6" y1="35.04" x2="210.0" y2="35.04" stroke="#2f5a9c" stroke-width="0.85"/>
<line x1="22.6" y1="40.62" x2="210.0" y2="40.62" stroke="#a9c2e4" stroke-width="2.2" stroke-opacity="0.28"/>
<polyline points="22.90,40.59 23.30,40.56 23.70,40.72 24.10,40.60 24.50,40.56 24.90,40.35 25.30,40.26 25.70,40.58 26.10,40.56 26.50,40.72 26.90,40.82 27.30,40.67 27.70,40.69 28.10,40.68 28.50,40.24 28.90,41.42 29.30,40.67 29.70,40.62 30.10,40.75 30.50,40.43 30.90,40.53 31.30,40.44 31.70,39.59 32.10,40.02 32.50,40.82 32.90,40.85 33.30,40.68 33.70,40.50 34.10,40.52 34.50,40.34 34.90,40.22 35.30,40.66 35.70,40.50 36.10,40.53 36.50,40.85 36.90,40.73 37.30,40.69 37.70,40.41 38.10,40.68 38.50,40.47 38.90,40.46 39.30,40.39 39.70,40.55 40.10,40.96 40.50,40.31 40.90,40.54 41.30,40.52 41.70,40.78 42.10,40.53 42.50,40.65 42.90,40.58 43.30,40.40 43.70,40.59 44.10,40.46 44.50,40.66 44.90,40.79 45.30,40.49 45.70,40.64 46.10,40.45 46.50,40.56 46.90,40.58 47.30,40.78 47.70,40.83 48.10,40.62 48.50,40.52 48.90,40.64 49.30,40.80 49.70,40.88 50.10,40.38 50.50,40.44 50.90,40.82 51.30,40.71 51.70,40.96 52.10,40.62 52.50,40.51 52.90,40.61 53.30,40.81 53.70,40.47 54.10,40.76 54.50,40.83 54.90,40.73 55.30,40.48 55.70,40.83 56.10,40.57 56.50,40.66 56.90,40.64 57.30,40.90 57.70,40.52 58.10,40.70 58.50,40.69 58.90,40.10 59.30,41.05 59.70,40.41 60.10,40.65 60.50,40.88 60.90,40.60 61.30,40.83 61.70,40.52 62.10,40.70 62.50,40.68 62.90,40.53 63.30,40.52 63.70,40.52 64.10,40.52 64.50,40.42 64.90,40.84 65.30,40.63 65.70,40.71 66.10,40.39 66.50,40.66 66.90,40.49 67.30,40.38 67.70,40.74 68.10,40.65 68.50,40.32 68.90,40.51 69.30,40.46 69.70,40.39 70.10,40.31 70.50,40.38 70.90,40.55 71.30,40.78 71.70,40.97 72.10,40.77 72.50,40.55 72.90,40.47 73.30,40.48 73.70,40.62 74.10,40.36 74.50,40.16 74.90,40.80 75.30,40.67 75.70,40.49 76.10,40.93 76.50,40.54 76.90,40.54 77.30,40.83 77.70,40.30 78.10,40.88 78.50,40.30 78.90,40.52 79.30,40.56 79.70,41.75 80.10,42.12 80.50,40.61 80.90,40.75 81.30,40.76 81.70,40.72 82.10,40.42 82.50,40.55 82.90,40.62 83.30,40.66 83.70,40.62 84.10,40.69 84.50,40.33 84.90,40.56 85.30,40.28 85.70,40.83 86.10,40.53 86.50,40.91 86.90,40.67 87.30,40.61 87.70,40.80 88.10,40.87 88.50,40.63 88.90,40.26 89.30,40.58 89.70,40.78 90.10,40.58 90.50,40.51 90.90,40.35 91.30,40.61 91.70,40.54 92.10,40.52 92.50,40.58 92.90,40.42 93.30,40.54 93.70,40.74 94.10,40.31 94.50,40.65 94.90,40.62 95.30,40.75 95.70,40.81 96.10,40.47 96.50,40.49 96.90,40.48 97.30,40.59 97.70,40.79 98.10,40.51 98.50,40.83 98.90,40.90 99.30,40.58 99.70,40.58 100.10,40.72 100.50,40.90 100.90,40.52 101.30,40.79 101.70,40.74 102.10,40.65 102.50,40.90 102.90,40.56 103.30,40.89 103.70,40.58 104.10,40.87 104.50,40.64 104.90,40.60 105.30,40.65 105.70,40.41 106.10,40.75 106.50,40.86 106.90,40.69 107.30,40.63 107.70,40.62 108.10,40.33 108.50,40.71 108.90,40.81 109.30,40.76 109.70,40.60 110.10,40.61 110.50,40.65 110.90,40.89 111.30,40.28 111.70,40.44 112.10,40.26 112.50,40.73 112.90,39.68 113.30,41.61 113.70,40.60 114.10,40.62 114.50,40.85 114.90,40.76 115.30,40.52 115.70,40.88 116.10,40.67 116.50,40.66 116.90,40.55 117.30,40.36 117.70,40.45 118.10,40.47 118.50,40.65 118.90,40.83 119.30,40.62 119.70,40.65 120.10,40.27 120.50,40.53 120.90,40.66 121.30,40.47 121.70,40.38 122.10,40.66 122.50,42.01 122.90,41.69 123.30,40.73 123.70,40.55 124.10,40.71 124.50,40.49 124.90,40.77 125.30,40.67 125.70,40.42 126.10,40.79 126.50,40.30 126.90,40.53 127.30,41.02 127.70,40.91 128.10,40.62 128.50,40.72 128.90,40.47 129.30,40.91 129.70,40.47 130.10,40.72 130.50,40.84 130.90,40.61 131.30,40.50 131.70,40.60 132.10,40.72 132.50,40.78 132.90,40.21 133.30,40.69 133.70,40.54 134.10,40.69 134.50,40.88 134.90,40.56 135.30,40.70 135.70,40.51 136.10,40.85 136.50,40.87 136.90,40.63 137.30,41.05 137.70,40.63 138.10,40.61 138.50,41.07 138.90,40.84 139.30,40.25 139.70,39.62 140.10,41.27 140.50,41.23 140.90,39.75 141.30,40.46 141.70,40.19 142.10,40.68 142.50,40.61 142.90,40.68 143.30,40.76 143.70,40.91 144.10,40.02 144.50,39.94 144.90,40.51 145.30,40.74 145.70,40.78 146.10,40.36 146.50,41.05 146.90,40.11 147.30,40.27 147.70,40.95 148.10,40.89 148.50,40.71 148.90,41.02 149.30,40.90 149.70,40.43 150.10,40.74 150.50,40.65 150.90,40.30 151.30,40.50 151.70,40.73 152.10,40.29 152.50,40.29 152.90,40.87 153.30,40.64 153.70,40.41 154.10,40.15 154.50,40.16 154.90,41.02 155.30,40.34 155.70,40.74 156.10,40.48 156.50,40.27 156.90,40.27 157.30,40.03 157.70,40.65 158.10,40.53 158.50,40.64 158.90,40.26 159.30,40.86 159.70,41.05 160.10,39.70 160.50,40.37 160.90,40.18 161.30,40.46 161.70,40.03 162.10,40.88 162.50,40.58 162.90,40.58 163.30,40.88 163.70,40.98 164.10,40.49 164.50,40.89 164.90,40.76 165.30,40.47 165.70,40.60 166.10,40.22 166.50,40.35 166.90,41.17 167.30,41.36 167.70,40.68 168.10,40.54 168.50,40.28 168.90,41.35 169.30,40.07 169.70,39.58 170.10,40.56 170.50,41.46 170.90,40.73 171.30,40.95 171.70,41.14 172.10,40.36 172.50,40.08 172.90,40.76 173.30,40.92 173.70,40.75 174.10,41.61 174.50,40.13 174.90,40.49 175.30,40.33 175.70,40.94 176.10,40.75 176.50,40.67 176.90,40.78 177.30,40.59 177.70,40.38 178.10,40.49 178.50,40.88 178.90,40.75 179.30,40.85 179.70,40.84 180.10,40.28 180.50,40.47 180.90,40.40 181.30,40.75 181.70,40.83 182.10,41.02 182.50,41.31 182.90,40.88 183.30,40.44 183.70,40.29 184.10,40.63 184.50,40.45 184.90,39.88 185.30,41.07 185.70,40.61 186.10,40.47 186.50,39.99 186.90,40.75 187.30,41.20 187.70,41.21 188.10,40.98 188.50,40.27 188.90,40.68 189.30,40.68 189.70,40.57 190.10,40.97 190.50,40.30 190.90,41.66 191.30,41.32 191.70,40.08 192.10,41.08 192.50,40.61 192.90,41.24 193.30,40.16 193.70,40.25 194.10,40.91 194.50,41.82 194.90,40.49 195.30,40.65 195.70,40.72 196.10,40.34 196.50,40.93 196.90,40.76 197.30,41.22 197.70,40.91 198.10,39.78 198.50,41.18 198.90,40.87 199.30,41.58 199.70,41.01 200.10,40.77 200.50,40.50 200.90,40.30 201.30,40.40 201.70,40.86 202.10,40.35 202.50,40.92 202.90,40.91 203.30,41.02 203.70,40.22 204.10,40.09 204.50,41.06 204.90,39.83 205.30,40.66 205.70,40.99 206.10,39.86 206.50,40.04 206.90,40.84 207.30,40.21 207.70,41.03 208.10,40.62 208.50,40.87 208.90,40.63 209.30,40.93 209.70,39.44" fill="none" stroke="#3f70b4" stroke-width="0.5" stroke-opacity="0.9"/>
<polygon points="170.10,39.77 170.50,39.65 170.90,39.69 171.30,39.48 171.70,39.47 172.10,39.52 172.50,39.38 172.90,38.94 173.30,38.85 173.70,39.39 174.10,39.59 174.50,39.31 174.90,39.63 175.30,39.31 175.70,39.24 176.10,39.46 176.50,39.45 176.90,39.37 177.30,39.45 177.70,39.47 178.10,39.26 178.50,38.98 178.90,39.67 179.30,39.63 179.70,39.65 180.10,39.11 180.50,39.68 180.90,39.37 181.30,39.58 181.70,39.39 182.10,39.38 182.50,39.38 182.90,39.31 183.30,39.60 183.70,39.29 184.10,39.29 184.50,39.68 184.90,39.66 185.30,39.87 185.70,39.45 186.10,39.58 186.50,39.85 186.90,39.88 187.30,39.75 187.70,39.88 188.10,39.99 188.50,39.75 188.90,39.91 189.30,39.86 189.70,40.02 190.10,40.11 190.50,39.84 190.90,39.79 191.30,40.04 191.70,39.98 192.10,39.96 192.50,39.91 192.90,39.94 193.30,39.92 193.70,39.87 194.10,39.88 194.50,40.13 194.90,39.86 195.30,40.00 195.70,40.08 196.10,40.11 196.50,40.10 196.90,40.20 197.30,39.96 197.70,40.12 198.10,39.98 198.50,39.68 198.90,39.82 199.30,39.95 199.70,39.95 200.10,39.85 200.50,40.03 200.90,39.96 201.30,39.80 201.70,40.04 202.10,40.03 202.50,39.92 202.90,40.09 203.30,40.06 203.70,40.02 204.10,40.07 204.50,39.96 204.90,40.20 205.30,40.24 205.70,40.08 206.10,40.26 206.50,40.17 206.90,40.07 207.30,40.20 207.70,40.06 208.10,40.04 208.50,39.85 208.90,39.91 209.30,39.86 209.70,40.15 209.70,41.13 209.30,41.38 208.90,41.41 208.50,41.32 208.10,41.13 207.70,41.12 207.30,41.24 206.90,41.03 206.50,41.01 206.10,41.02 205.70,41.07 205.30,41.12 204.90,41.08 204.50,41.15 204.10,41.32 203.70,41.25 203.30,41.25 202.90,41.25 202.50,41.21 202.10,41.19 201.70,41.35 201.30,41.19 200.90,41.22 200.50,41.54 200.10,41.31 199.70,41.25 199.30,41.24 198.90,41.58 198.50,41.30 198.10,41.36 197.70,41.30 197.30,41.09 196.90,41.10 196.50,41.12 196.10,41.01 195.70,41.08 195.30,41.17 194.90,41.33 194.50,41.20 194.10,41.17 193.70,41.11 193.30,41.21 192.90,41.29 192.50,41.39 192.10,41.29 191.70,41.20 191.30,41.37 190.90,41.16 190.50,41.18 190.10,41.14 189.70,41.34 189.30,41.26 188.90,41.18 188.50,41.59 188.10,41.39 187.70,41.28 187.30,41.44 186.90,41.42 186.50,41.43 186.10,41.47 185.70,41.48 185.30,41.36 184.90,41.69 184.50,41.72 184.10,41.75 183.70,41.79 183.30,41.80 182.90,42.08 182.50,41.99 182.10,42.04 181.70,41.69 181.30,42.04 180.90,42.22 180.50,41.94 180.10,41.77 179.70,42.06 179.30,41.84 178.90,41.69 178.50,42.23 178.10,41.67 177.70,41.69 177.30,41.84 176.90,41.72 176.50,41.99 176.10,41.72 175.70,42.21 175.30,41.51 174.90,41.51 174.50,41.70 174.10,41.95 173.70,42.03 173.30,41.81 172.90,42.16 172.50,41.91 172.10,41.77 171.70,41.68 171.30,41.59 170.90,41.77 170.50,41.54 170.10,41.27" fill="#3763aa" fill-opacity="0.88"/>
<line x1="22.6" y1="40.62" x2="210.0" y2="40.62" stroke="#2f5a9c" stroke-width="0.85"/>
<line x1="22.6" y1="46.20" x2="210.0" y2="46.20" stroke="#a9c2e4" stroke-width="2.2" stroke-opacity="0.28"/>
<polyline points="22.90,46.18 23.30,46.33 23.70,46.08 24.10,46.14 24.50,46.40 24.90,45.97 25.30,46.16 25.70,46.24 26.10,45.99 26.50,46.21 26.90,46.16 27.30,46.41 27.70,45.94 28.10,46.03 28.50,45.05 28.90,46.90 29.30,46.18 29.70,46.33 30.10,46.44 30.50,46.13 30.90,46.13 31.30,46.07 31.70,46.13 32.10,46.06 32.50,46.21 32.90,46.21 33.30,46.11 33.70,46.12 34.10,46.54 34.50,46.29 34.90,46.24 35.30,46.46 35.70,46.01 36.10,46.18 36.50,46.40 36.90,46.28 37.30,46.29 37.70,46.21 38.10,46.22 38.50,46.46 38.90,46.52 39.30,46.15 39.70,46.16 40.10,46.01 40.50,46.17 40.90,46.07 41.30,46.20 41.70,46.35 42.10,46.13 42.50,46.24 42.90,46.10 43.30,46.31 43.70,46.28 44.10,46.09 44.50,46.00 44.90,46.24 45.30,45.93 45.70,46.21 46.10,46.28 46.50,45.80 46.90,46.19 47.30,46.25 47.70,46.27 48.10,46.05 48.50,46.25 48.90,46.26 49.30,46.27 49.70,46.15 50.10,46.34 50.50,46.36 50.90,46.52 51.30,46.23 51.70,46.24 52.10,46.18 52.50,46.44 52.90,46.11 53.30,46.20 53.70,46.37 54.10,46.27 54.50,46.24 54.90,46.22 55.30,46.24 55.70,46.25 56.10,46.39 56.50,46.31 56.90,46.00 57.30,46.04 57.70,46.36 58.10,46.43 58.50,46.22 58.90,45.60 59.30,46.88 59.70,46.32 60.10,46.26 60.50,46.01 60.90,46.05 61.30,45.97 61.70,46.17 62.10,46.29 62.50,46.09 62.90,45.93 63.30,46.13 63.70,46.13 64.10,46.04 64.50,46.28 64.90,46.41 65.30,46.29 65.70,46.29 66.10,46.04 66.50,46.31 66.90,46.18 67.30,46.19 67.70,45.98 68.10,46.25 68.50,46.07 68.90,46.39 69.30,46.12 69.70,45.95 70.10,46.11 70.50,46.11 70.90,46.10 71.30,46.19 71.70,46.20 72.10,46.18 72.50,46.28 72.90,46.18 73.30,45.95 73.70,46.31 74.10,46.23 74.50,46.15 74.90,45.94 75.30,46.09 75.70,45.99 76.10,46.18 76.50,45.98 76.90,46.41 77.30,46.22 77.70,46.29 78.10,46.11 78.50,45.23 78.90,47.06 79.30,46.41 79.70,46.14 80.10,46.27 80.50,46.46 80.90,46.34 81.30,46.05 81.70,46.14 82.10,45.12 82.50,45.20 82.90,46.30 83.30,46.23 83.70,46.36 84.10,46.31 84.50,46.53 84.90,46.20 85.30,46.19 85.70,46.13 86.10,46.45 86.50,46.12 86.90,46.27 87.30,46.16 87.70,46.38 88.10,46.35 88.50,46.20 88.90,46.33 89.30,46.15 89.70,46.20 90.10,46.45 90.50,46.31 90.90,46.00 91.30,46.16 91.70,46.09 92.10,46.27 92.50,46.06 92.90,46.11 93.30,46.37 93.70,45.94 94.10,46.40 94.50,46.15 94.90,46.29 95.30,46.28 95.70,46.00 96.10,46.32 96.50,46.07 96.90,46.23 97.30,45.74 97.70,46.39 98.10,46.22 98.50,46.17 98.90,46.33 99.30,46.29 99.70,46.43 100.10,46.21 100.50,46.21 100.90,46.32 101.30,46.32 101.70,46.23 102.10,46.37 102.50,46.04 102.90,46.37 103.30,46.41 103.70,46.00 104.10,46.33 104.50,46.24 104.90,46.34 105.30,46.02 105.70,46.10 106.10,45.96 106.50,46.23 106.90,46.24 107.30,46.28 107.70,46.56 108.10,46.03 108.50,46.07 108.90,46.20 109.30,46.52 109.70,45.99 110.10,46.31 110.50,46.20 110.90,46.30 111.30,45.82 111.70,46.35 112.10,46.15 112.50,46.19 112.90,45.59 113.30,47.04 113.70,45.97 114.10,46.11 114.50,46.40 114.90,46.22 115.30,46.01 115.70,46.76 116.10,45.95 116.50,46.27 116.90,46.16 117.30,46.32 117.70,46.03 118.10,46.22 118.50,46.11 118.90,46.18 119.30,46.39 119.70,46.31 120.10,46.17 120.50,45.96 120.90,46.15 121.30,46.12 121.70,45.73 122.10,46.27 122.50,46.27 122.90,46.15 123.30,45.97 123.70,46.14 124.10,45.98 124.50,46.16 124.90,46.29 125.30,45.95 125.70,46.24 126.10,46.13 126.50,46.05 126.90,46.48 127.30,46.15 127.70,46.43 128.10,46.14 128.50,46.02 128.90,46.35 129.30,46.07 129.70,46.16 130.10,46.38 130.50,46.29 130.90,46.56 131.30,45.89 131.70,46.11 132.10,46.59 132.50,45.99 132.90,46.08 133.30,46.14 133.70,46.35 134.10,46.14 134.50,46.82 134.90,46.06 135.30,46.47 135.70,46.06 136.10,46.48 136.50,46.01 136.90,45.68 137.30,46.39 137.70,46.55 138.10,46.13 138.50,45.70 138.90,46.41 139.30,46.02 139.70,46.09 140.10,46.46 140.50,46.20 140.90,46.39 141.30,46.07 141.70,46.17 142.10,46.47 142.50,46.07 142.90,46.30 143.30,46.25 143.70,46.40 144.10,46.22 144.50,46.23 144.90,46.69 145.30,46.29 145.70,46.23 146.10,45.69 146.50,45.98 146.90,46.83 147.30,46.56 147.70,46.12 148.10,46.29 148.50,45.98 148.90,45.93 149.30,45.88 149.70,45.99 150.10,45.92 150.50,46.36 150.90,46.24 151.30,46.52 151.70,46.26 152.10,46.24 152.50,46.26 152.90,46.43 153.30,45.89 153.70,46.56 154.10,46.19 154.50,45.31 154.90,46.11 155.30,44.79 155.70,46.11 156.10,45.10 156.50,45.65 156.90,46.02 157.30,45.79 157.70,46.51 158.10,45.98 158.50,45.94 158.90,46.00 159.30,46.22 159.70,45.66 160.10,46.64 160.50,46.62 160.90,45.67 161.30,46.01 161.70,46.35 162.10,45.62 162.50,45.32 162.90,46.55 163.30,46.00 163.70,46.07 164.10,46.01 164.50,46.65 164.90,45.40 165.30,45.95 165.70,45.85 166.10,45.53 166.50,45.34 166.90,45.75 167.30,46.27 167.70,46.98 168.10,46.40 168.50,46.20 168.90,46.22 169.30,46.17 169.70,46.44 170.10,46.33 170.50,46.43 170.90,45.98 171.30,46.13 171.70,45.97 172.10,46.08 172.50,46.79 172.90,45.94 173.30,47.07 173.70,47.03 174.10,46.44 174.50,46.42 174.90,46.53 175.30,46.56 175.70,45.57 176.10,45.83 176.50,45.63 176.90,46.23 177.30,46.43 177.70,46.30 178.10,46.73 178.50,46.58 178.90,46.11 179.30,45.94 179.70,46.06 180.10,47.16 180.50,46.38 180.90,46.12 181.30,46.52 181.70,45.73 182.10,46.41 182.50,46.19 182.90,46.38 183.30,46.43 183.70,45.10 184.10,45.98 184.50,46.43 184.90,46.24 185.30,45.43 185.70,46.26 186.10,46.43 186.50,46.57 186.90,46.35 187.30,45.40 187.70,45.66 188.10,45.61 188.50,46.77 188.90,46.28 189.30,45.89 189.70,46.05 190.10,46.07 190.50,46.46 190.90,46.42 191.30,46.02 191.70,46.72 192.10,46.14 192.50,45.88 192.90,46.83 193.30,45.50 193.70,45.67 194.10,46.92 194.50,46.24 194.90,46.07 195.30,45.73 195.70,46.02 196.10,46.05 196.50,46.14 196.90,45.27 197.30,46.13 197.70,45.59 198.10,46.21 198.50,46.15 198.90,45.94 199.30,45.54 199.70,46.35 200.10,45.94 200.50,46.35 200.90,46.56 201.30,46.94 201.70,45.87 202.10,45.39 202.50,46.18 202.90,46.09 203.30,45.78 203.70,46.04 204.10,46.31 204.50,45.75 204.90,46.35 205.30,46.50 205.70,46.03 206.10,46.64 206.50,46.01 206.90,45.78 207.30,46.30 207.70,45.93 208.10,45.57 208.50,46.37 208.90,46.40 209.30,46.13 209.70,46.43" fill="none" stroke="#3f70b4" stroke-width="0.5" stroke-opacity="0.9"/>
<polygon points="170.50,45.45 170.90,45.54 171.30,45.46 171.70,45.49 172.10,45.25 172.50,45.09 172.90,44.87 173.30,45.15 173.70,44.51 174.10,44.44 174.50,44.85 174.90,44.75 175.30,44.78 175.70,44.81 176.10,44.46 176.50,44.46 176.90,44.88 177.30,45.03 177.70,45.07 178.10,45.18 178.50,44.68 178.90,44.72 179.30,44.74 179.70,44.78 180.10,44.82 180.50,44.77 180.90,45.22 181.30,45.19 181.70,45.18 182.10,45.29 182.50,45.06 182.90,45.31 183.30,45.24 183.70,45.41 184.10,45.51 184.50,45.37 184.90,45.18 185.30,45.21 185.70,45.07 186.10,45.24 186.50,45.42 186.90,45.18 187.30,45.60 187.70,45.44 188.10,45.57 188.50,45.61 188.90,45.29 189.30,45.25 189.70,45.60 190.10,45.47 190.50,45.40 190.90,45.44 191.30,45.40 191.70,45.48 192.10,45.53 192.50,45.44 192.90,45.69 193.30,45.56 193.70,45.33 194.10,45.61 194.50,45.58 194.90,45.59 195.30,45.46 195.70,45.74 196.10,45.68 196.50,45.78 196.90,45.86 197.30,45.88 197.70,45.74 198.10,45.67 198.50,45.80 198.90,45.83 199.30,45.66 199.70,45.89 200.10,45.87 200.50,45.76 200.90,45.90 201.30,45.83 201.70,45.82 202.10,45.74 202.50,45.83 202.90,45.72 203.30,45.61 203.70,45.79 204.10,45.72 204.50,45.75 204.90,45.64 205.30,45.78 205.70,45.60 206.10,45.65 206.50,45.80 206.90,45.74 207.30,45.76 207.70,45.80 208.10,45.92 208.50,45.93 208.90,45.92 209.30,45.86 209.70,45.81 209.70,46.66 209.30,46.52 208.90,46.52 208.50,46.47 208.10,46.56 207.70,46.60 207.30,46.59 206.90,46.76 206.50,46.77 206.10,46.59 205.70,46.65 205.30,46.73 204.90,46.67 204.50,46.77 204.10,46.80 203.70,46.74 203.30,46.60 202.90,46.53 202.50,46.73 202.10,46.52 201.70,46.55 201.30,46.62 200.90,46.67 200.50,46.52 200.10,46.55 199.70,46.58 199.30,46.79 198.90,46.72 198.50,46.71 198.10,46.71 197.70,46.73 197.30,46.54 196.90,46.55 196.50,46.59 196.10,46.64 195.70,46.66 195.30,46.70 194.90,47.01 194.50,46.79 194.10,47.04 193.70,47.09 193.30,46.85 192.90,46.80 192.50,46.78 192.10,46.93 191.70,46.92 191.30,47.05 190.90,46.96 190.50,46.83 190.10,47.03 189.70,46.93 189.30,46.93 188.90,47.05 188.50,47.05 188.10,46.91 187.70,46.76 187.30,46.83 186.90,47.22 186.50,46.98 186.10,47.17 185.70,47.00 185.30,47.35 184.90,47.03 184.50,46.79 184.10,47.14 183.70,47.01 183.30,47.13 182.90,47.22 182.50,47.00 182.10,47.42 181.70,47.16 181.30,47.26 180.90,47.21 180.50,47.30 180.10,47.14 179.70,47.91 179.30,47.55 178.90,47.59 178.50,47.44 178.10,47.65 177.70,47.40 177.30,47.35 176.90,47.52 176.50,47.61 176.10,47.93 175.70,47.62 175.30,47.90 174.90,47.56 174.50,47.53 174.10,47.85 173.70,47.73 173.30,47.68 172.90,47.43 172.50,47.56 172.10,47.28 171.70,47.25 171.30,47.07 170.90,47.10 170.50,46.79" fill="#3763aa" fill-opacity="0.88"/>
<line x1="22.6" y1="46.20" x2="210.0" y2="46.20" stroke="#2f5a9c" stroke-width="0.85"/>
<line x1="22.6" y1="51.78" x2="210.0" y2="51.78" stroke="#a9c2e4" stroke-width="2.2" stroke-opacity="0.28"/>
<polyline points="22.90,51.67 23.30,51.91 23.70,51.65 24.10,51.96 24.50,52.00 24.90,51.62 25.30,51.79 25.70,51.78 26.10,51.78 26.50,52.14 26.90,51.68 27.30,51.93 27.70,51.88 28.10,51.53 28.50,50.95 28.90,52.67 29.30,51.81 29.70,52.20 30.10,51.60 30.50,51.64 30.90,51.45 31.30,51.70 31.70,52.04 32.10,51.82 32.50,51.93 32.90,51.49 33.30,51.93 33.70,51.68 34.10,51.74 34.50,51.82 34.90,51.83 35.30,52.13 35.70,51.52 36.10,51.71 36.50,51.94 36.90,52.19 37.30,51.93 37.70,51.74 38.10,52.00 38.50,51.55 38.90,51.79 39.30,51.75 39.70,52.08 40.10,51.96 40.50,51.87 40.90,51.58 41.30,51.98 41.70,51.74 42.10,51.80 42.50,51.70 42.90,51.44 43.30,51.73 43.70,52.12 44.10,51.93 44.50,51.85 44.90,51.93 45.30,51.79 45.70,51.74 46.10,51.46 46.50,51.81 46.90,51.85 47.30,51.84 47.70,51.50 48.10,51.64 48.50,51.89 48.90,51.59 49.30,51.57 49.70,51.62 50.10,51.64 50.50,51.45 50.90,51.67 51.30,51.62 51.70,52.02 52.10,51.68 52.50,52.01 52.90,51.71 53.30,51.77 53.70,51.75 54.10,52.92 54.50,52.66 54.90,51.53 55.30,51.65 55.70,52.02 56.10,52.06 56.50,51.70 56.90,51.81 57.30,51.87 57.70,51.66 58.10,51.51 58.50,51.87 58.90,51.09 59.30,52.04 59.70,51.88 60.10,51.71 60.50,51.88 60.90,51.88 61.30,51.72 61.70,51.84 62.10,51.73 62.50,51.95 62.90,51.65 63.30,51.68 63.70,51.83 64.10,51.48 64.50,52.01 64.90,51.59 65.30,51.78 65.70,51.75 66.10,51.57 66.50,51.72 66.90,51.70 67.30,51.90 67.70,51.79 68.10,51.39 68.50,51.87 68.90,51.57 69.30,51.72 69.70,51.69 70.10,51.65 70.50,51.77 70.90,51.97 71.30,52.07 71.70,51.78 72.10,51.59 72.50,51.88 72.90,51.55 73.30,51.76 73.70,51.97 74.10,51.76 74.50,51.69 74.90,52.02 75.30,51.54 75.70,51.56 76.10,51.75 76.50,51.90 76.90,51.84 77.30,51.97 77.70,51.60 78.10,52.00 78.50,51.22 78.90,52.31 79.30,51.94 79.70,51.51 80.10,52.27 80.50,51.45 80.90,51.89 81.30,51.17 81.70,50.81 82.10,51.85 82.50,51.92 82.90,51.96 83.30,51.98 83.70,51.61 84.10,51.80 84.50,51.55 84.90,51.35 85.30,51.92 85.70,51.82 86.10,51.65 86.50,51.72 86.90,52.10 87.30,51.85 87.70,51.57 88.10,51.83 88.50,51.92 88.90,51.78 89.30,51.51 89.70,51.75 90.10,51.60 90.50,51.71 90.90,51.94 91.30,51.65 91.70,51.57 92.10,51.79 92.50,51.89 92.90,51.92 93.30,51.66 93.70,51.71 94.10,51.79 94.50,51.54 94.90,51.64 95.30,51.77 95.70,51.81 96.10,51.78 96.50,51.73 96.90,51.46 97.30,51.58 97.70,51.86 98.10,52.02 98.50,51.99 98.90,51.63 99.30,51.78 99.70,51.85 100.10,51.73 100.50,51.83 100.90,51.52 101.30,51.91 101.70,51.80 102.10,51.73 102.50,51.85 102.90,51.43 103.30,51.79 103.70,51.68 104.10,51.49 104.50,51.86 104.90,51.62 105.30,51.95 105.70,51.56 106.10,51.72 106.50,51.84 106.90,51.78 107.30,51.85 107.70,51.92 108.10,51.80 108.50,51.77 108.90,51.68 109.30,51.76 109.70,51.75 110.10,52.01 110.50,51.79 110.90,51.81 111.30,51.56 111.70,51.73 112.10,52.17 112.50,52.03 112.90,50.88 113.30,52.54 113.70,52.06 114.10,51.92 114.50,51.62 114.90,51.95 115.30,51.73 115.70,51.58 116.10,51.79 116.50,51.72 116.90,52.12 117.30,51.73 117.70,51.72 118.10,51.57 118.50,51.99 118.90,51.92 119.30,51.80 119.70,51.79 120.10,51.85 120.50,52.15 120.90,51.66 121.30,51.85 121.70,52.08 122.10,51.63 122.50,51.79 122.90,51.61 123.30,51.76 123.70,51.72 124.10,51.97 124.50,51.86 124.90,51.69 125.30,51.83 125.70,51.66 126.10,51.85 126.50,51.98 126.90,51.83 127.30,51.86 127.70,51.94 128.10,51.83 128.50,51.87 128.90,51.63 129.30,51.50 129.70,51.88 130.10,51.88 130.50,52.13 130.90,51.48 131.30,52.09 131.70,51.37 132.10,51.85 132.50,51.58 132.90,52.21 133.30,51.32 133.70,52.06 134.10,51.08 134.50,51.69 134.90,51.63 135.30,51.13 135.70,51.88 136.10,50.83 136.50,51.19 136.90,52.11 137.30,52.14 137.70,51.49 138.10,51.56 138.50,51.87 138.90,51.80 139.30,51.93 139.70,51.89 140.10,51.50 140.50,51.80 140.90,51.78 141.30,51.36 141.70,51.95 142.10,52.32 142.50,51.40 142.90,51.78 143.30,51.60 143.70,52.23 144.10,51.75 144.50,51.39 144.90,52.19 145.30,51.63 145.70,51.56 146.10,51.99 146.50,51.79 146.90,51.87 147.30,51.29 147.70,51.71 148.10,51.55 148.50,51.83 148.90,52.40 149.30,51.69 149.70,51.87 150.10,51.50 150.50,51.97 150.90,51.49 151.30,51.74 151.70,51.77 152.10,51.71 152.50,51.86 152.90,51.95 153.30,51.80 153.70,51.82 154.10,51.84 154.50,51.98 154.90,51.95 155.30,50.77 155.70,52.07 156.10,51.77 156.50,51.31 156.90,52.21 157.30,51.43 157.70,51.64 158.10,52.22 158.50,51.23 158.90,51.25 159.30,51.67 159.70,52.76 160.10,52.29 160.50,52.89 160.90,51.51 161.30,51.36 161.70,51.70 162.10,51.04 162.50,51.67 162.90,51.91 163.30,52.08 163.70,52.88 164.10,52.10 164.50,50.54 164.90,50.26 165.30,51.46 165.70,52.24 166.10,51.48 166.50,52.21 166.90,52.06 167.30,51.86 167.70,50.91 168.10,51.14 168.50,51.68 168.90,51.85 169.30,51.25 169.70,51.54 170.10,51.85 170.50,51.39 170.90,51.79 171.30,51.73 171.70,51.33 172.10,52.07 172.50,52.38 172.90,52.45 173.30,51.29 173.70,51.93 174.10,51.52 174.50,51.60 174.90,51.37 175.30,52.24 175.70,51.19 176.10,52.20 176.50,52.49 176.90,51.67 177.30,51.24 177.70,52.48 178.10,51.89 178.50,51.15 178.90,51.44 179.30,52.17 179.70,51.42 180.10,52.09 180.50,51.49 180.90,51.75 181.30,51.65 181.70,52.20 182.10,51.51 182.50,51.03 182.90,52.44 183.30,52.16 183.70,51.76 184.10,51.10 184.50,52.62 184.90,52.02 185.30,51.83 185.70,51.07 186.10,51.73 186.50,51.74 186.90,51.87 187.30,52.15 187.70,51.25 188.10,51.27 188.50,52.02 188.90,51.95 189.30,52.07 189.70,51.27 190.10,51.94 190.50,51.74 190.90,51.93 191.30,51.24 191.70,52.15 192.10,51.89 192.50,51.85 192.90,51.95 193.30,52.01 193.70,51.75 194.10,52.91 194.50,52.30 194.90,52.15 195.30,51.15 195.70,51.55 196.10,51.73 196.50,51.73 196.90,51.87 197.30,51.85 197.70,51.45 198.10,52.43 198.50,51.61 198.90,51.76 199.30,51.03 199.70,51.67 200.10,51.99 200.50,51.41 200.90,51.41 201.30,52.16 201.70,51.70 202.10,51.11 202.50,51.69 202.90,52.12 203.30,51.47 203.70,51.91 204.10,51.87 204.50,51.83 204.90,51.47 205.30,51.81 205.70,52.09 206.10,51.94 206.50,51.76 206.90,52.00 207.30,52.00 207.70,52.24 208.10,52.53 208.50,52.34 208.90,51.97 209.30,51.98 209.70,52.23" fill="none" stroke="#3f70b4" stroke-width="0.5" stroke-opacity="0.9"/>
<polygon points="170.10,51.15 170.50,51.14 170.90,50.83 171.30,51.07 171.70,50.47 172.10,50.42 172.50,50.38 172.90,50.18 173.30,50.15 173.70,50.12 174.10,50.36 174.50,50.25 174.90,49.98 175.30,49.87 175.70,50.07 176.10,50.12 176.50,50.03 176.90,50.39 177.30,50.02 177.70,50.34 178.10,50.46 178.50,50.22 178.90,50.62 179.30,50.28 179.70,50.61 180.10,50.76 180.50,50.67 180.90,50.39 181.30,50.30 181.70,50.54 182.10,50.35 182.50,50.35 182.90,50.53 183.30,50.96 183.70,50.99 184.10,50.97 184.50,50.69 184.90,50.75 185.30,51.06 185.70,50.87 186.10,51.06 186.50,51.30 186.90,51.26 187.30,51.30 187.70,51.28 188.10,51.07 188.50,51.14 188.90,51.22 189.30,51.34 189.70,51.21 190.10,51.30 190.50,51.19 190.90,51.26 191.30,51.10 191.70,51.08 192.10,50.91 192.50,51.13 192.90,51.22 193.30,51.22 193.70,51.23 194.10,51.20 194.50,51.08 194.90,51.19 195.30,51.28 195.70,51.25 196.10,51.02 196.50,50.98 196.90,51.29 197.30,51.12 197.70,51.12 198.10,50.96 198.50,51.04 198.90,51.21 199.30,51.02 199.70,50.81 200.10,50.91 200.50,51.07 200.90,51.12 201.30,51.27 201.70,51.18 202.10,51.30 202.50,51.14 202.90,51.13 203.30,51.06 203.70,50.86 204.10,50.84 204.50,51.07 204.90,51.19 205.30,51.11 205.70,51.17 206.10,51.29 206.50,51.32 206.90,51.28 207.30,51.23 207.70,51.06 208.10,51.22 208.50,51.29 208.90,51.02 209.30,51.27 209.70,51.10 209.70,52.29 209.30,52.40 208.90,52.62 208.50,52.29 208.10,52.32 207.70,52.27 207.30,52.52 206.90,52.22 206.50,52.31 206.10,52.25 205.70,52.31 205.30,52.24 204.90,52.48 204.50,52.72 204.10,52.61 203.70,52.49 203.30,52.52 202.90,52.44 202.50,52.28 202.10,52.37 201.70,52.25 201.30,52.35 200.90,52.34 200.50,52.60 200.10,52.40 199.70,52.47 199.30,52.51 198.90,52.47 198.50,52.43 198.10,52.39 197.70,52.32 197.30,52.46 196.90,52.30 196.50,52.46 196.10,52.37 195.70,52.41 195.30,52.24 194.90,52.46 194.50,52.26 194.10,52.47 193.70,52.50 193.30,52.50 192.90,52.36 192.50,52.36 192.10,52.31 191.70,52.51 191.30,52.42 190.90,52.25 190.50,52.45 190.10,52.26 189.70,52.32 189.30,52.31 188.90,52.48 188.50,52.46 188.10,52.52 187.70,52.57 187.30,52.47 186.90,52.36 186.50,52.25 186.10,52.39 185.70,52.55 185.30,52.38 184.90,52.48 184.50,52.89 184.10,52.84 183.70,52.45 183.30,52.87 182.90,53.00 182.50,53.01 182.10,53.35 181.70,53.22 181.30,52.93 180.90,52.98 180.50,52.65 180.10,53.19 179.70,53.03 179.30,52.82 178.90,53.07 178.50,53.03 178.10,53.05 177.70,52.97 177.30,53.60 176.90,52.84 176.50,52.89 176.10,53.43 175.70,53.63 175.30,53.30 174.90,53.41 174.50,53.88 174.10,53.66 173.70,53.26 173.30,52.96 172.90,53.45 172.50,53.10 172.10,53.00 171.70,52.68 171.30,52.50 170.90,52.60 170.50,52.45 170.10,52.32" fill="#3763aa" fill-opacity="0.88"/>
<line x1="22.6" y1="51.78" x2="210.0" y2="51.78" stroke="#2f5a9c" stroke-width="0.85"/>
<line x1="22.6" y1="57.36" x2="210.0" y2="57.36" stroke="#a9c2e4" stroke-width="2.2" stroke-opacity="0.28"/>
<polyline points="22.90,57.22 23.30,57.41 23.70,57.27 24.10,57.31 24.50,57.13 24.90,57.35 25.30,57.26 25.70,56.96 26.10,57.11 26.50,57.29 26.90,57.53 27.30,57.21 27.70,57.49 28.10,57.03 28.50,56.55 28.90,58.06 29.30,57.15 29.70,57.44 30.10,57.41 30.50,57.20 30.90,57.83 31.30,57.65 31.70,57.18 32.10,57.38 32.50,57.55 32.90,57.48 33.30,57.70 33.70,57.82 34.10,57.52 34.50,57.26 34.90,57.36 35.30,57.31 35.70,57.51 36.10,57.66 36.50,57.31 36.90,57.09 37.30,57.55 37.70,57.33 38.10,57.19 38.50,57.44 38.90,57.56 39.30,57.42 39.70,57.28 40.10,57.87 40.50,57.33 40.90,57.27 41.30,57.34 41.70,57.31 42.10,57.25 42.50,57.42 42.90,57.32 43.30,57.44 43.70,57.32 44.10,57.53 44.50,57.13 44.90,57.38 45.30,57.36 45.70,57.39 46.10,57.36 46.50,57.35 46.90,57.38 47.30,57.33 47.70,57.21 48.10,57.17 48.50,57.46 48.90,57.22 49.30,57.16 49.70,57.39 50.10,57.23 50.50,57.45 50.90,57.40 51.30,57.12 51.70,57.78 52.10,57.36 52.50,57.43 52.90,57.37 53.30,57.25 53.70,57.92 54.10,57.41 54.50,57.08 54.90,57.55 55.30,57.44 55.70,57.19 56.10,57.38 56.50,57.13 56.90,57.51 57.30,57.37 57.70,57.54 58.10,57.47 58.50,57.16 58.90,56.72 59.30,57.85 59.70,57.35 60.10,57.50 60.50,57.20 60.90,57.44 61.30,57.20 61.70,57.33 62.10,57.63 62.50,56.87 62.90,57.24 63.30,57.67 63.70,57.19 64.10,57.60 64.50,57.27 64.90,57.15 65.30,57.31 65.70,57.26 66.10,57.30 66.50,57.53 66.90,57.39 67.30,57.51 67.70,57.51 68.10,57.77 68.50,57.27 68.90,57.53 69.30,57.44 69.70,57.53 70.10,57.11 70.50,57.58 70.90,57.50 71.30,57.49 71.70,57.31 72.10,57.19 72.50,57.36 72.90,57.16 73.30,57.54 73.70,57.54 74.10,57.30 74.50,56.91 74.90,57.36 75.30,56.84 75.70,57.23 76.10,57.29 76.50,57.30 76.90,57.26 77.30,57.59 77.70,57.41 78.10,57.23 78.50,57.05 78.90,57.50 79.30,57.41 79.70,57.45 80.10,57.23 80.50,57.04 80.90,57.20 81.30,57.11 81.70,57.53 82.10,57.45 82.50,57.44 82.90,57.66 83.30,57.17 83.70,57.44 84.10,57.38 84.50,57.26 84.90,57.41 85.30,57.69 85.70,57.10 86.10,57.50 86.50,57.48 86.90,57.06 87.30,57.42 87.70,57.21 88.10,57.56 88.50,57.13 88.90,57.29 89.30,57.51 89.70,57.18 90.10,57.06 90.50,57.60 90.90,57.62 91.30,57.47 91.70,57.35 92.10,56.02 92.50,55.86 92.90,57.36 93.30,57.46 93.70,57.15 94.10,57.45 94.50,57.08 94.90,57.59 95.30,57.40 95.70,57.54 96.10,57.32 96.50,57.50 96.90,56.98 97.30,57.63 97.70,56.95 98.10,57.43 98.50,57.27 98.90,57.33 99.30,57.17 99.70,57.15 100.10,57.46 100.50,57.52 100.90,57.29 101.30,57.53 101.70,57.07 102.10,57.25 102.50,57.62 102.90,57.49 103.30,57.17 103.70,57.52 104.10,57.33 104.50,57.44 104.90,57.25 105.30,57.40 105.70,56.95 106.10,57.19 106.50,57.47 106.90,57.31 107.30,57.28 107.70,57.08 108.10,57.23 108.50,57.48 108.90,57.20 109.30,57.42 109.70,57.40 110.10,57.54 110.50,57.20 110.90,57.29 111.30,57.27 111.70,57.21 112.10,57.45 112.50,57.34 112.90,56.73 113.30,58.10 113.70,57.66 114.10,57.45 114.50,57.34 114.90,57.49 115.30,57.46 115.70,57.25 116.10,57.36 116.50,57.66 116.90,57.69 117.30,57.42 117.70,57.50 118.10,57.37 118.50,57.64 118.90,57.42 119.30,57.67 119.70,56.65 120.10,56.42 120.50,57.10 120.90,57.76 121.30,57.52 121.70,57.46 122.10,57.48 122.50,57.61 122.90,57.28 123.30,57.53 123.70,57.43 124.10,57.28 124.50,57.08 124.90,57.44 125.30,57.32 125.70,57.48 126.10,57.40 126.50,57.34 126.90,57.29 127.30,57.46 127.70,57.53 128.10,57.50 128.50,57.15 128.90,57.27 129.30,57.20 129.70,57.32 130.10,57.47 130.50,57.37 130.90,57.43 131.30,57.64 131.70,57.68 132.10,57.90 132.50,57.08 132.90,57.57 133.30,57.17 133.70,57.25 134.10,57.01 134.50,57.33 134.90,57.93 135.30,57.13 135.70,57.65 136.10,57.33 136.50,57.28 136.90,57.05 137.30,57.83 137.70,58.02 138.10,57.47 138.50,57.15 138.90,57.19 139.30,57.83 139.70,57.64 140.10,57.19 140.50,57.40 140.90,57.79 141.30,57.63 141.70,57.28 142.10,57.42 142.50,57.55 142.90,57.33 143.30,57.59 143.70,56.93 144.10,57.77 144.50,57.57 144.90,57.45 145.30,56.67 145.70,57.87 146.10,57.07 146.50,57.65 146.90,57.85 147.30,57.92 147.70,57.26 148.10,57.30 148.50,57.44 148.90,57.06 149.30,56.99 149.70,58.07 150.10,57.48 150.50,57.43 150.90,57.08 151.30,57.63 151.70,57.39 152.10,57.29 152.50,57.38 152.90,57.13 153.30,57.76 153.70,56.75 154.10,57.41 154.50,57.91 154.90,57.91 155.30,57.09 155.70,58.48 156.10,56.75 156.50,57.27 156.90,57.16 157.30,57.60 157.70,57.35 158.10,57.58 158.50,57.07 158.90,57.30 159.30,58.01 159.70,57.22 160.10,57.20 160.50,57.74 160.90,56.73 161.30,57.65 161.70,56.83 162.10,57.11 162.50,57.56 162.90,57.42 163.30,57.81 163.70,56.83 164.10,57.62 164.50,57.38 164.90,57.43 165.30,57.65 165.70,57.37 166.10,57.00 166.50,57.65 166.90,57.86 167.30,58.11 167.70,57.20 168.10,57.51 168.50,56.63 168.90,56.99 169.30,56.67 169.70,57.46 170.10,57.35 170.50,57.88 170.90,57.12 171.30,57.41 171.70,57.28 172.10,57.70 172.50,56.97 172.90,57.65 173.30,57.96 173.70,57.37 174.10,56.85 174.50,56.88 174.90,56.90 175.30,57.59 175.70,57.91 176.10,58.22 176.50,57.22 176.90,57.63 177.30,57.26 177.70,56.83 178.10,56.92 178.50,57.44 178.90,56.70 179.30,57.03 179.70,56.79 180.10,56.75 180.50,57.02 180.90,56.81 181.30,57.58 181.70,57.77 182.10,58.10 182.50,58.18 182.90,58.29 183.30,57.68 183.70,56.65 184.10,57.17 184.50,57.70 184.90,57.28 185.30,57.01 185.70,57.24 186.10,57.55 186.50,57.46 186.90,57.46 187.30,56.94 187.70,56.47 188.10,57.30 188.50,56.89 188.90,56.84 189.30,57.13 189.70,57.08 190.10,57.17 190.50,56.95 190.90,57.49 191.30,57.57 191.70,57.91 192.10,57.59 192.50,56.96 192.90,57.12 193.30,57.29 193.70,58.27 194.10,58.13 194.50,56.01 194.90,57.36 195.30,57.10 195.70,57.26 196.10,57.32 196.50,57.21 196.90,57.22 197.30,57.74 197.70,57.59 198.10,57.23 198.50,57.51 198.90,57.18 199.30,57.63 199.70,56.82 200.10,57.84 200.50,57.59 200.90,57.58 201.30,57.52 201.70,57.64 202.10,58.08 202.50,57.34 202.90,58.29 203.30,56.91 203.70,57.70 204.10,56.32 204.50,57.77 204.90,57.69 205.30,57.83 205.70,57.74 206.10,57.19 206.50,57.74 206.90,57.65 207.30,57.97 207.70,57.31 208.10,57.96 208.50,57.84 208.90,57.05 209.30,57.02 209.70,57.72" fill="none" stroke="#3f70b4" stroke-width="0.5" stroke-opacity="0.9"/>
<polygon points="170.10,56.71 170.50,56.50 170.90,56.48 171.30,56.11 171.70,55.75 172.10,56.22 172.50,56.02 172.90,55.52 173.30,55.44 173.70,55.50 174.10,55.87 174.50,55.93 174.90,55.97 175.30,55.21 175.70,56.04 176.10,55.65 176.50,56.16 176.90,55.78 177.30,55.95 177.70,55.63 178.10,55.28 178.50,55.29 178.90,55.30 179.30,55.18 179.70,55.37 180.10,55.60 180.50,55.26 180.90,55.15 181.30,54.92 181.70,55.34 182.10,55.42 182.50,55.69 182.90,55.65 183.30,55.80 183.70,55.90 184.10,56.24 184.50,55.96 184.90,56.21 185.30,56.06 185.70,56.20 186.10,56.18 186.50,56.41 186.90,55.94 187.30,55.74 187.70,55.79 188.10,55.98 188.50,56.33 188.90,56.09 189.30,56.09 189.70,56.35 190.10,56.29 190.50,56.45 190.90,56.62 191.30,56.62 191.70,56.70 192.10,56.57 192.50,56.81 192.90,56.68 193.30,56.60 193.70,56.71 194.10,56.85 194.50,56.82 194.90,56.78 195.30,56.76 195.70,56.80 196.10,56.66 196.50,56.79 196.90,56.72 197.30,56.60 197.70,56.52 198.10,56.65 198.50,56.54 198.90,56.71 199.30,56.74 199.70,56.78 200.10,56.73 200.50,56.75 200.90,56.79 201.30,56.68 201.70,56.48 202.10,56.61 202.50,56.54 202.90,56.74 203.30,56.63 203.70,56.83 204.10,56.72 204.50,56.77 204.90,56.40 205.30,56.54 205.70,56.49 206.10,56.46 206.50,56.75 206.90,56.77 207.30,56.75 207.70,56.77 208.10,56.63 208.50,56.79 208.90,56.83 209.30,56.71 209.70,56.63 209.70,58.02 209.30,58.01 208.90,58.13 208.50,57.85 208.10,58.17 207.70,58.03 207.30,57.79 206.90,57.97 206.50,58.16 206.10,58.16 205.70,58.03 205.30,58.25 204.90,58.10 204.50,58.03 204.10,57.98 203.70,58.02 203.30,57.97 202.90,57.98 202.50,58.21 202.10,57.95 201.70,57.95 201.30,58.29 200.90,58.06 200.50,57.95 200.10,57.83 199.70,57.90 199.30,58.00 198.90,57.96 198.50,58.08 198.10,58.07 197.70,58.30 197.30,57.98 196.90,58.04 196.50,58.01 196.10,57.93 195.70,58.05 195.30,57.91 194.90,57.98 194.50,57.82 194.10,58.06 193.70,58.00 193.30,58.13 192.90,57.82 192.50,57.92 192.10,58.00 191.70,57.92 191.30,58.06 190.90,58.23 190.50,58.46 190.10,58.33 189.70,58.50 189.30,58.57 188.90,58.59 188.50,58.68 188.10,58.45 187.70,58.59 187.30,58.95 186.90,58.88 186.50,58.52 186.10,58.46 185.70,58.36 185.30,58.21 184.90,58.41 184.50,58.62 184.10,58.62 183.70,58.47 183.30,58.50 182.90,59.25 182.50,59.40 182.10,59.42 181.70,59.09 181.30,59.74 180.90,59.31 180.50,59.25 180.10,59.56 179.70,59.23 179.30,59.10 178.90,59.24 178.50,59.13 178.10,58.79 177.70,59.19 177.30,58.64 176.90,59.18 176.50,59.01 176.10,58.67 175.70,58.68 175.30,58.94 174.90,59.11 174.50,58.74 174.10,59.33 173.70,59.50 173.30,59.54 172.90,58.79 172.50,58.71 172.10,59.13 171.70,58.69 171.30,58.18 170.90,58.20 170.50,57.98 170.10,58.06" fill="#3763aa" fill-opacity="0.88"/>
<line x1="22.6" y1="57.36" x2="210.0" y2="57.36" stroke="#2f5a9c" stroke-width="0.85"/>
<line x1="22.6" y1="62.94" x2="210.0" y2="62.94" stroke="#a9c2e4" stroke-width="2.2" stroke-opacity="0.28"/>
<polyline points="22.90,62.62 23.30,63.02 23.70,62.95 24.10,62.58 24.50,62.85 24.90,62.84 25.30,63.07 25.70,62.80 26.10,62.91 26.50,63.04 26.90,62.47 27.30,63.14 27.70,62.71 28.10,62.98 28.50,61.78 28.90,63.89 29.30,63.10 29.70,62.75 30.10,62.83 30.50,62.96 30.90,62.85 31.30,63.06 31.70,62.88 32.10,62.83 32.50,62.97 32.90,62.96 33.30,62.76 33.70,63.06 34.10,63.45 34.50,63.02 34.90,62.84 35.30,62.97 35.70,62.78 36.10,62.97 36.50,62.86 36.90,62.90 37.30,62.93 37.70,62.85 38.10,62.87 38.50,62.65 38.90,62.75 39.30,62.99 39.70,63.06 40.10,62.80 40.50,62.74 40.90,62.95 41.30,63.01 41.70,61.80 42.10,61.75 42.50,63.06 42.90,62.64 43.30,63.22 43.70,63.12 44.10,62.89 44.50,63.15 44.90,62.78 45.30,62.95 45.70,63.24 46.10,63.16 46.50,62.94 46.90,63.20 47.30,62.83 47.70,62.87 48.10,62.93 48.50,62.90 48.90,62.66 49.30,62.86 49.70,62.80 50.10,62.78 50.50,63.30 50.90,63.03 51.30,62.73 51.70,62.82 52.10,63.02 52.50,62.98 52.90,63.18 53.30,63.15 53.70,62.97 54.10,63.02 54.50,62.95 54.90,63.02 55.30,62.99 55.70,62.56 56.10,62.87 56.50,63.13 56.90,62.96 57.30,62.96 57.70,62.92 58.10,63.02 58.50,63.06 58.90,62.75 59.30,63.67 59.70,62.99 60.10,63.21 60.50,63.08 60.90,62.89 61.30,62.94 61.70,62.87 62.10,62.59 62.50,62.91 62.90,62.85 63.30,62.75 63.70,62.71 64.10,63.11 64.50,63.44 64.90,62.79 65.30,62.79 65.70,62.60 66.10,62.72 66.50,63.03 66.90,63.45 67.30,62.73 67.70,62.85 68.10,63.08 68.50,63.04 68.90,63.11 69.30,63.03 69.70,63.08 70.10,62.98 70.50,62.68 70.90,62.91 71.30,63.17 71.70,63.07 72.10,63.23 72.50,62.68 72.90,62.70 73.30,63.12 73.70,62.85 74.10,62.86 74.50,63.12 74.90,63.30 75.30,63.00 75.70,62.82 76.10,62.61 76.50,62.66 76.90,63.05 77.30,62.80 77.70,62.91 78.10,63.00 78.50,62.59 78.90,63.29 79.30,62.90 79.70,63.32 80.10,63.05 80.50,62.81 80.90,63.28 81.30,62.87 81.70,62.89 82.10,62.85 82.50,63.03 82.90,62.90 83.30,63.29 83.70,62.90 84.10,63.07 84.50,63.09 84.90,63.10 85.30,62.98 85.70,62.98 86.10,63.05 86.50,62.87 86.90,62.68 87.30,62.89 87.70,62.96 88.10,62.92 88.50,63.98 88.90,63.96 89.30,62.69 89.70,62.73 90.10,63.10 90.50,62.88 90.90,62.79 91.30,62.82 91.70,63.10 92.10,62.91 92.50,62.94 92.90,62.96 93.30,63.17 93.70,62.84 94.10,63.30 94.50,62.98 94.90,63.03 95.30,62.76 95.70,62.78 96.10,62.79 96.50,62.94 96.90,63.07 97.30,62.99 97.70,62.90 98.10,62.88 98.50,62.94 98.90,63.16 99.30,62.89 99.70,62.88 100.10,62.74 100.50,62.93 100.90,63.27 101.30,62.80 101.70,63.06 102.10,62.88 102.50,63.11 102.90,62.79 103.30,62.66 103.70,63.08 104.10,62.92 104.50,62.83 104.90,62.84 105.30,63.01 105.70,62.96 106.10,63.00 106.50,63.04 106.90,63.07 107.30,62.81 107.70,62.94 108.10,62.87 108.50,62.90 108.90,63.08 109.30,63.29 109.70,62.85 110.10,62.99 110.50,62.99 110.90,62.95 111.30,63.05 111.70,63.04 112.10,62.93 112.50,62.97 112.90,62.53 113.30,63.74 113.70,63.14 114.10,63.11 114.50,63.03 114.90,62.72 115.30,62.62 115.70,62.86 116.10,63.10 116.50,62.99 116.90,62.89 117.30,63.11 117.70,62.78 118.10,62.96 118.50,62.87 118.90,62.82 119.30,62.53 119.70,63.07 120.10,62.62 120.50,63.22 120.90,63.14 121.30,62.90 121.70,63.01 122.10,62.69 122.50,64.35 122.90,64.12 123.30,62.97 123.70,63.22 124.10,62.98 124.50,62.92 124.90,62.95 125.30,62.58 125.70,62.92 126.10,62.92 126.50,62.82 126.90,63.03 127.30,62.71 127.70,62.62 128.10,62.97 128.50,63.19 128.90,63.02 129.30,62.80 129.70,63.47 130.10,62.77 130.50,62.92 130.90,63.15 131.30,62.62 131.70,62.83 132.10,62.82 132.50,63.25 132.90,62.82 133.30,62.81 133.70,63.40 134.10,63.06 134.50,63.32 134.90,63.09 135.30,62.58 135.70,62.78 136.10,62.58 136.50,62.89 136.90,63.17 137.30,62.72 137.70,62.97 138.10,63.10 138.50,63.08 138.90,62.71 139.30,62.75 139.70,63.57 140.10,63.13 140.50,62.82 140.90,63.36 141.30,62.88 141.70,63.08 142.10,63.32 142.50,62.69 142.90,62.89 143.30,62.55 143.70,63.14 144.10,62.22 144.50,62.59 144.90,63.14 145.30,62.28 145.70,62.76 146.10,62.47 146.50,63.03 146.90,63.17 147.30,63.21 147.70,62.74 148.10,62.85 148.50,62.87 148.90,62.88 149.30,63.14 149.70,62.78 150.10,62.81 150.50,62.97 150.90,63.01 151.30,63.10 151.70,63.05 152.10,63.25 152.50,63.01 152.90,62.72 153.30,62.53 153.70,61.99 154.10,63.46 154.50,62.48 154.90,62.11 155.30,62.80 155.70,63.51 156.10,62.87 156.50,62.31 156.90,63.00 157.30,63.19 157.70,63.42 158.10,63.29 158.50,62.68 158.90,63.43 159.30,63.24 159.70,62.82 160.10,63.61 160.50,63.43 160.90,62.87 161.30,63.04 161.70,62.79 162.10,63.50 162.50,63.13 162.90,62.61 163.30,63.71 163.70,63.12 164.10,62.90 164.50,62.64 164.90,62.49 165.30,63.19 165.70,62.88 166.10,63.22 166.50,62.06 166.90,62.93 167.30,62.65 167.70,63.45 168.10,63.23 168.50,62.45 168.90,62.97 169.30,63.02 169.70,62.92 170.10,62.98 170.50,62.94 170.90,63.05 171.30,62.51 171.70,62.85 172.10,63.09 172.50,62.90 172.90,63.21 173.30,62.70 173.70,63.27 174.10,62.99 174.50,63.02 174.90,62.89 175.30,62.40 175.70,62.32 176.10,63.08 176.50,62.55 176.90,62.97 177.30,62.68 177.70,63.38 178.10,63.00 178.50,62.76 178.90,62.79 179.30,63.40 179.70,62.90 180.10,63.05 180.50,62.54 180.90,62.81 181.30,63.36 181.70,63.03 182.10,63.43 182.50,62.54 182.90,62.30 183.30,63.00 183.70,63.38 184.10,63.10 184.50,62.87 184.90,62.75 185.30,62.89 185.70,62.91 186.10,62.75 186.50,62.38 186.90,63.46 187.30,62.17 187.70,62.92 188.10,62.66 188.50,62.88 188.90,62.44 189.30,62.74 189.70,62.66 190.10,62.37 190.50,62.23 190.90,62.99 191.30,63.23 191.70,62.74 192.10,62.73 192.50,62.35 192.90,62.57 193.30,63.59 193.70,63.51 194.10,62.87 194.50,63.44 194.90,62.95 195.30,62.79 195.70,62.70 196.10,63.03 196.50,63.10 196.90,63.20 197.30,62.56 197.70,62.94 198.10,61.67 198.50,63.46 198.90,62.94 199.30,63.12 199.70,62.82 200.10,62.63 200.50,62.69 200.90,63.42 201.30,63.67 201.70,62.84 202.10,62.48 202.50,63.21 202.90,62.18 203.30,62.69 203.70,62.19 204.10,63.02 204.50,63.34 204.90,62.69 205.30,63.48 205.70,62.40 206.10,63.62 206.50,63.22 206.90,62.96 207.30,62.97 207.70,63.16 208.10,62.70 208.50,62.40 208.90,63.24 209.30,62.36 209.70,63.27" fill="none" stroke="#3f70b4" stroke-width="0.5" stroke-opacity="0.9"/>
<polygon points="170.10,62.10 170.50,62.02 170.90,62.02 171.30,61.84 171.70,62.10 172.10,61.69 172.50,61.49 172.90,61.77 173.30,61.52 173.70,61.72 174.10,61.11 174.50,61.52 174.90,60.83 175.30,61.31 175.70,60.70 176.10,61.11 176.50,61.79 176.90,61.02 177.30,61.58 177.70,61.55 178.10,61.08 178.50,61.07 178.90,61.07 179.30,60.29 179.70,60.64 180.10,61.33 180.50,61.02 180.90,61.10 181.30,61.24 181.70,61.72 182.10,61.61 182.50,61.68 182.90,61.72 183.30,61.83 183.70,61.29 184.10,61.23 184.50,61.14 184.90,61.48 185.30,61.58 185.70,61.96 186.10,62.03 186.50,61.82 186.90,61.62 187.30,61.85 187.70,61.77 188.10,62.03 188.50,62.10 188.90,61.63 189.30,61.79 189.70,62.15 190.10,62.10 190.50,62.06 190.90,62.33 191.30,62.03 191.70,62.28 192.10,62.19 192.50,62.20 192.90,62.23 193.30,62.30 193.70,62.11 194.10,61.88 194.50,61.95 194.90,62.03 195.30,62.10 195.70,62.17 196.10,62.30 196.50,61.97 196.90,62.19 197.30,62.27 197.70,61.93 198.10,61.96 198.50,62.09 198.90,62.24 199.30,62.11 199.70,62.25 200.10,62.32 200.50,62.36 200.90,62.35 201.30,62.38 201.70,62.40 202.10,62.30 202.50,62.34 202.90,62.28 203.30,62.36 203.70,62.17 204.10,62.33 204.50,62.49 204.90,62.33 205.30,62.34 205.70,62.24 206.10,62.15 206.50,62.26 206.90,62.48 207.30,62.35 207.70,62.34 208.10,62.47 208.50,62.46 208.90,62.43 209.30,62.36 209.70,62.46 209.70,63.46 209.30,63.34 208.90,63.41 208.50,63.53 208.10,63.52 207.70,63.57 207.30,63.53 206.90,63.65 206.50,63.47 206.10,63.65 205.70,63.46 205.30,63.46 204.90,63.58 204.50,63.57 204.10,63.35 203.70,63.44 203.30,63.60 202.90,63.56 202.50,63.51 202.10,63.66 201.70,63.47 201.30,63.51 200.90,63.53 200.50,63.46 200.10,63.68 199.70,63.68 199.30,63.62 198.90,63.65 198.50,63.57 198.10,63.65 197.70,63.76 197.30,63.76 196.90,63.73 196.50,63.89 196.10,63.90 195.70,63.59 195.30,63.62 194.90,63.78 194.50,64.03 194.10,63.91 193.70,63.92 193.30,63.64 192.90,63.61 192.50,63.55 192.10,63.53 191.70,63.72 191.30,63.72 190.90,63.73 190.50,63.92 190.10,63.82 189.70,63.80 189.30,63.81 188.90,64.38 188.50,64.16 188.10,64.21 187.70,64.57 187.30,64.03 186.90,63.98 186.50,63.99 186.10,64.27 185.70,63.88 185.30,64.46 184.90,64.08 184.50,64.70 184.10,64.67 183.70,64.75 183.30,64.53 182.90,64.66 182.50,64.49 182.10,64.46 181.70,64.27 181.30,64.37 180.90,64.45 180.50,65.06 180.10,65.46 179.70,65.16 179.30,64.66 178.90,64.63 178.50,65.38 178.10,64.57 177.70,64.08 177.30,64.49 176.90,64.13 176.50,64.06 176.10,64.80 175.70,64.34 175.30,64.57 174.90,64.37 174.50,64.90 174.10,64.89 173.70,64.12 173.30,64.21 172.90,64.41 172.50,64.37 172.10,64.18 171.70,63.86 171.30,63.69 170.90,63.98 170.50,63.95 170.10,63.72" fill="#3763aa" fill-opacity="0.88"/>
<line x1="22.6" y1="62.94" x2="210.0" y2="62.94" stroke="#2f5a9c" stroke-width="0.85"/>
<line x1="22.6" y1="68.52" x2="210.0" y2="68.52" stroke="#a9c2e4" stroke-width="2.2" stroke-opacity="0.28"/>
<polyline points="22.90,68.55 23.30,68.78 23.70,68.41 24.10,68.37 24.50,68.59 24.90,68.72 25.30,68.38 25.70,68.30 26.10,68.59 26.50,68.52 26.90,68.45 27.30,68.55 27.70,68.51 28.10,68.63 28.50,67.93 28.90,69.41 29.30,68.62 29.70,68.50 30.10,68.55 30.50,68.35 30.90,68.46 31.30,68.30 31.70,68.45 32.10,68.43 32.50,68.41 32.90,68.69 33.30,68.45 33.70,68.36 34.10,68.57 34.50,68.69 34.90,68.44 35.30,68.11 35.70,68.58 36.10,68.30 36.50,68.53 36.90,68.69 37.30,68.29 37.70,68.41 38.10,68.54 38.50,68.64 38.90,68.76 39.30,68.92 39.70,68.31 40.10,68.79 40.50,68.85 40.90,68.49 41.30,68.40 41.70,68.49 42.10,68.92 42.50,68.54 42.90,68.27 43.30,68.49 43.70,68.27 44.10,68.68 44.50,68.38 44.90,68.52 45.30,68.41 45.70,68.68 46.10,68.45 46.50,68.57 46.90,68.54 47.30,68.74 47.70,68.73 48.10,68.79 48.50,68.76 48.90,68.71 49.30,68.59 49.70,68.47 50.10,68.37 50.50,68.44 50.90,68.48 51.30,68.74 51.70,68.47 52.10,68.55 52.50,68.65 52.90,68.49 53.30,68.58 53.70,68.50 54.10,68.28 54.50,68.49 54.90,68.68 55.30,68.36 55.70,68.59 56.10,68.35 56.50,68.46 56.90,68.89 57.30,68.05 57.70,68.65 58.10,68.35 58.50,68.69 58.90,68.13 59.30,69.20 59.70,68.39 60.10,68.69 60.50,68.48 60.90,68.62 61.30,68.59 61.70,68.52 62.10,68.15 62.50,68.58 62.90,68.66 63.30,68.33 63.70,68.39 64.10,68.83 64.50,68.60 64.90,68.29 65.30,68.64 65.70,68.61 66.10,68.66 66.50,68.45 66.90,68.56 67.30,68.80 67.70,68.44 68.10,68.38 68.50,68.57 68.90,68.64 69.30,68.55 69.70,68.76 70.10,68.60 70.50,68.76 70.90,68.46 71.30,69.38 71.70,69.34 72.10,68.14 72.50,68.55 72.90,68.44 73.30,68.50 73.70,68.34 74.10,68.62 74.50,68.36 74.90,68.58 75.30,68.62 75.70,68.41 76.10,68.58 76.50,68.81 76.90,68.48 77.30,68.74 77.70,68.49 78.10,68.98 78.50,68.04 78.90,69.02 79.30,68.86 79.70,68.07 80.10,70.13 80.50,69.96 80.90,68.51 81.30,68.50 81.70,68.44 82.10,68.46 82.50,68.49 82.90,68.39 83.30,68.56 83.70,68.83 84.10,68.55 84.50,68.47 84.90,68.58 85.30,68.82 85.70,68.48 86.10,68.75 86.50,68.47 86.90,68.78 87.30,68.57 87.70,68.58 88.10,68.31 88.50,68.42 88.90,68.64 89.30,68.95 89.70,68.75 90.10,68.61 90.50,68.58 90.90,68.59 91.30,68.84 91.70,68.59 92.10,68.32 92.50,68.53 92.90,68.66 93.30,68.66 93.70,68.71 94.10,68.83 94.50,68.77 94.90,68.56 95.30,68.56 95.70,68.61 96.10,68.70 96.50,68.32 96.90,68.27 97.30,68.65 97.70,68.54 98.10,68.89 98.50,68.51 98.90,68.23 99.30,68.58 99.70,68.29 100.10,68.43 100.50,68.52 100.90,68.41 101.30,68.45 101.70,68.67 102.10,68.13 102.50,68.60 102.90,68.51 103.30,68.27 103.70,68.39 104.10,68.50 104.50,68.59 104.90,68.34 105.30,68.62 105.70,68.49 106.10,68.38 106.50,68.52 106.90,68.29 107.30,68.54 107.70,68.69 108.10,68.71 108.50,68.49 108.90,68.60 109.30,68.28 109.70,68.48 110.10,68.59 110.50,68.76 110.90,68.42 111.30,68.75 111.70,68.17 112.10,68.68 112.50,68.31 112.90,67.64 113.30,69.20 113.70,68.73 114.10,68.70 114.50,68.67 114.90,68.54 115.30,68.17 115.70,68.51 116.10,68.49 116.50,68.79 116.90,68.71 117.30,68.56 117.70,68.65 118.10,68.49 118.50,68.73 118.90,68.39 119.30,68.57 119.70,68.15 120.10,68.94 120.50,68.28 120.90,68.29 121.30,69.03 121.70,68.50 122.10,68.70 122.50,68.77 122.90,68.62 123.30,68.64 123.70,68.65 124.10,68.46 124.50,68.46 124.90,68.66 125.30,68.27 125.70,68.48 126.10,68.43 126.50,68.42 126.90,68.29 127.30,68.81 127.70,68.65 128.10,68.45 128.50,68.27 128.90,68.62 129.30,68.57 129.70,68.58 130.10,68.48 130.50,68.85 130.90,68.68 131.30,67.92 131.70,68.17 132.10,67.79 132.50,68.36 132.90,68.91 133.30,68.99 133.70,68.88 134.10,69.16 134.50,68.06 134.90,68.73 135.30,68.45 135.70,68.37 136.10,67.99 136.50,68.86 136.90,68.63 137.30,68.60 137.70,68.74 138.10,67.99 138.50,68.30 138.90,68.44 139.30,68.28 139.70,69.02 140.10,68.63 140.50,69.03 140.90,68.97 141.30,68.21 141.70,67.98 142.10,68.33 142.50,68.42 142.90,68.00 143.30,68.20 143.70,68.40 144.10,68.08 144.50,68.28 144.90,68.36 145.30,68.76 145.70,68.57 146.10,68.74 146.50,68.81 146.90,68.63 147.30,68.47 147.70,68.45 148.10,68.97 148.50,68.61 148.90,68.21 149.30,68.36 149.70,68.22 150.10,68.53 150.50,68.59 150.90,68.34 151.30,68.22 151.70,68.26 152.10,68.26 152.50,68.36 152.90,68.10 153.30,68.65 153.70,68.89 154.10,68.51 154.50,68.88 154.90,68.85 155.30,68.46 155.70,68.94 156.10,68.68 156.50,67.78 156.90,68.50 157.30,68.89 157.70,68.14 158.10,68.37 158.50,68.12 158.90,69.11 159.30,68.01 159.70,68.91 160.10,69.38 160.50,68.29 160.90,68.23 161.30,68.91 161.70,68.97 162.10,68.45 162.50,68.89 162.90,68.83 163.30,69.04 163.70,68.11 164.10,67.99 164.50,68.74 164.90,68.88 165.30,67.71 165.70,68.57 166.10,69.24 166.50,69.10 166.90,68.67 167.30,68.88 167.70,69.71 168.10,68.84 168.50,68.12 168.90,69.14 169.30,68.64 169.70,67.88 170.10,68.26 170.50,68.21 170.90,68.62 171.30,68.58 171.70,68.07 172.10,68.47 172.50,68.49 172.90,68.07 173.30,69.33 173.70,69.09 174.10,68.50 174.50,68.31 174.90,67.94 175.30,69.14 175.70,69.11 176.10,67.52 176.50,68.74 176.90,68.14 177.30,68.01 177.70,68.78 178.10,68.57 178.50,68.91 178.90,68.66 179.30,68.56 179.70,69.18 180.10,68.08 180.50,68.51 180.90,68.61 181.30,68.53 181.70,68.52 182.10,67.81 182.50,68.36 182.90,67.94 183.30,68.24 183.70,69.30 184.10,69.11 184.50,68.08 184.90,68.60 185.30,68.34 185.70,68.73 186.10,68.26 186.50,68.61 186.90,69.52 187.30,68.75 187.70,68.29 188.10,69.36 188.50,69.23 188.90,68.01 189.30,68.18 189.70,68.91 190.10,68.24 190.50,68.64 190.90,68.48 191.30,68.06 191.70,68.65 192.10,68.08 192.50,68.92 192.90,68.52 193.30,68.08 193.70,68.89 194.10,68.55 194.50,68.50 194.90,68.91 195.30,69.17 195.70,68.89 196.10,68.80 196.50,68.80 196.90,67.34 197.30,66.82 197.70,68.92 198.10,68.01 198.50,67.91 198.90,68.93 199.30,68.45 199.70,67.75 200.10,68.37 200.50,68.33 200.90,69.48 201.30,68.75 201.70,68.66 202.10,68.47 202.50,68.50 202.90,68.82 203.30,67.94 203.70,68.07 204.10,67.46 204.50,68.28 204.90,68.77 205.30,68.50 205.70,68.67 206.10,68.33 206.50,68.90 206.90,68.17 207.30,68.57 207.70,67.73 208.10,68.48 208.50,68.97 208.90,68.36 209.30,68.68 209.70,68.66" fill="none" stroke="#3f70b4" stroke-width="0.5" stroke-opacity="0.9"/>
<polygon points="170.50,67.76 170.90,67.63 171.30,67.77 171.70,67.54 172.10,67.72 172.50,67.65 172.90,67.28 173.30,67.17 173.70,67.08 174.10,66.87 174.50,67.06 174.90,66.61 175.30,67.06 175.70,66.72 176.10,66.91 176.50,67.20 176.90,67.37 177.30,67.50 177.70,66.93 178.10,67.17 178.50,67.12 178.90,66.96 179.30,66.83 179.70,67.26 180.10,67.39 180.50,67.21 180.90,67.47 181.30,67.22 181.70,67.06 182.10,67.56 182.50,67.59 182.90,67.46 183.30,67.52 183.70,67.53 184.10,67.61 184.50,67.22 184.90,67.68 185.30,67.45 185.70,67.56 186.10,67.39 186.50,67.60 186.90,67.56 187.30,67.63 187.70,67.92 188.10,67.70 188.50,67.80 188.90,67.91 189.30,67.88 189.70,67.85 190.10,67.82 190.50,67.65 190.90,67.89 191.30,67.74 191.70,67.95 192.10,67.94 192.50,68.10 192.90,67.91 193.30,68.10 193.70,67.88 194.10,67.85 194.50,67.95 194.90,67.74 195.30,67.92 195.70,68.02 196.10,67.88 196.50,67.60 196.90,67.91 197.30,68.00 197.70,67.93 198.10,67.88 198.50,68.16 198.90,67.93 199.30,67.98 199.70,68.01 200.10,68.00 200.50,68.02 200.90,67.90 201.30,67.70 201.70,67.81 202.10,67.81 202.50,67.86 202.90,68.04 203.30,67.84 203.70,68.04 204.10,67.94 204.50,67.90 204.90,67.86 205.30,67.82 205.70,67.87 206.10,67.84 206.50,67.98 206.90,67.86 207.30,67.98 207.70,67.97 208.10,68.07 208.50,68.05 208.90,67.94 209.30,67.95 209.70,68.02 209.70,69.15 209.30,69.11 208.90,69.03 208.50,69.05 208.10,68.97 207.70,69.19 207.30,69.31 206.90,69.20 206.50,69.23 206.10,69.24 205.70,69.22 205.30,69.01 204.90,68.99 204.50,68.99 204.10,69.18 203.70,69.22 203.30,69.07 202.90,69.16 202.50,69.20 202.10,69.44 201.70,69.32 201.30,69.21 200.90,69.04 200.50,69.15 200.10,69.06 199.70,68.85 199.30,69.00 198.90,69.08 198.50,69.00 198.10,68.98 197.70,69.28 197.30,69.20 196.90,69.32 196.50,69.33 196.10,69.20 195.70,69.10 195.30,69.26 194.90,69.25 194.50,69.18 194.10,69.05 193.70,69.22 193.30,69.05 192.90,68.91 192.50,69.05 192.10,69.14 191.70,69.02 191.30,69.02 190.90,69.06 190.50,69.37 190.10,69.29 189.70,69.14 189.30,69.30 188.90,69.24 188.50,69.32 188.10,69.12 187.70,69.40 187.30,69.49 186.90,69.41 186.50,69.67 186.10,69.45 185.70,69.47 185.30,69.54 184.90,69.65 184.50,69.38 184.10,69.72 183.70,69.68 183.30,69.49 182.90,69.49 182.50,69.52 182.10,69.81 181.70,69.91 181.30,69.87 180.90,69.59 180.50,69.89 180.10,69.52 179.70,70.07 179.30,69.68 178.90,69.74 178.50,70.18 178.10,70.22 177.70,69.97 177.30,70.01 176.90,69.61 176.50,70.15 176.10,70.13 175.70,70.35 175.30,69.93 174.90,70.26 174.50,70.09 174.10,70.10 173.70,70.26 173.30,69.63 172.90,69.93 172.50,69.80 172.10,69.50 171.70,69.33 171.30,69.13 170.90,69.27 170.50,69.30" fill="#3763aa" fill-opacity="0.88"/>
<line x1="22.6" y1="68.52" x2="210.0" y2="68.52" stroke="#2f5a9c" stroke-width="0.85"/>
<line x1="22.6" y1="74.10" x2="210.0" y2="74.10" stroke="#a9c2e4" stroke-width="2.2" stroke-opacity="0.28"/>
<polyline points="22.90,74.42 23.30,74.07 23.70,74.25 24.10,74.12 24.50,74.18 24.90,74.18 25.30,73.98 25.70,74.33 26.10,74.13 26.50,74.14 26.90,74.13 27.30,74.07 27.70,74.24 28.10,73.95 28.50,73.17 28.90,75.24 29.30,74.25 29.70,74.08 30.10,73.97 30.50,73.93 30.90,74.11 31.30,74.32 31.70,74.37 32.10,74.06 32.50,74.02 32.90,73.85 33.30,74.02 33.70,74.06 34.10,74.32 34.50,74.05 34.90,74.27 35.30,74.20 35.70,74.06 36.10,74.34 36.50,74.24 36.90,74.32 37.30,73.89 37.70,74.24 38.10,74.31 38.50,73.95 38.90,74.18 39.30,74.34 39.70,74.29 40.10,73.96 40.50,74.05 40.90,74.00 41.30,73.84 41.70,74.09 42.10,74.15 42.50,74.13 42.90,73.98 43.30,73.76 43.70,73.95 44.10,74.23 44.50,74.29 44.90,74.08 45.30,74.09 45.70,73.96 46.10,74.14 46.50,73.98 46.90,74.21 47.30,74.52 47.70,73.96 48.10,74.47 48.50,74.14 48.90,74.03 49.30,74.21 49.70,74.20 50.10,74.11 50.50,73.89 50.90,74.16 51.30,74.34 51.70,74.32 52.10,74.05 52.50,74.05 52.90,74.42 53.30,73.72 53.70,73.95 54.10,74.14 54.50,74.02 54.90,74.13 55.30,74.12 55.70,73.94 56.10,73.96 56.50,73.84 56.90,73.93 57.30,73.99 57.70,74.13 58.10,74.11 58.50,74.05 58.90,73.53 59.30,74.20 59.70,74.13 60.10,74.35 60.50,73.94 60.90,74.21 61.30,74.08 61.70,73.93 62.10,74.05 62.50,73.74 62.90,74.20 63.30,74.24 63.70,73.84 64.10,73.99 64.50,73.93 64.90,74.02 65.30,74.18 65.70,74.26 66.10,74.24 66.50,73.98 66.90,74.41 67.30,74.03 67.70,74.07 68.10,74.05 68.50,73.92 68.90,74.00 69.30,73.74 69.70,74.06 70.10,74.28 70.50,74.26 70.90,74.10 71.30,73.84 71.70,74.23 72.10,74.33 72.50,74.26 72.90,74.07 73.30,74.30 73.70,74.32 74.10,74.30 74.50,73.90 74.90,74.16 75.30,73.93 75.70,74.47 76.10,74.28 76.50,74.09 76.90,74.01 77.30,74.15 77.70,74.34 78.10,73.93 78.50,73.66 78.90,74.63 79.30,74.34 79.70,74.41 80.10,73.89 80.50,73.95 80.90,73.96 81.30,74.16 81.70,73.93 82.10,74.21 82.50,73.85 82.90,74.23 83.30,74.01 83.70,74.14 84.10,74.18 84.50,74.16 84.90,73.78 85.30,73.99 85.70,73.97 86.10,74.30 86.50,74.26 86.90,74.41 87.30,73.95 87.70,73.97 88.10,74.15 88.50,74.35 88.90,74.17 89.30,75.28 89.70,75.62 90.10,74.33 90.50,74.31 90.90,74.28 91.30,73.95 91.70,74.13 92.10,74.37 92.50,73.82 92.90,74.09 93.30,73.94 93.70,74.18 94.10,73.94 94.50,74.03 94.90,73.92 95.30,74.15 95.70,74.17 96.10,74.16 96.50,74.13 96.90,74.13 97.30,74.21 97.70,74.05 98.10,74.24 98.50,74.25 98.90,73.91 99.30,74.21 99.70,73.79 100.10,73.89 100.50,74.14 100.90,74.08 101.30,74.35 101.70,74.00 102.10,74.27 102.50,73.89 102.90,74.36 103.30,73.96 103.70,74.06 104.10,73.97 104.50,74.00 104.90,74.04 105.30,73.91 105.70,74.40 106.10,74.22 106.50,74.14 106.90,74.00 107.30,74.18 107.70,74.16 108.10,74.14 108.50,73.95 108.90,74.20 109.30,74.26 109.70,74.16 110.10,74.11 110.50,74.09 110.90,73.80 111.30,74.06 111.70,74.26 112.10,73.97 112.50,74.32 112.90,73.14 113.30,74.50 113.70,74.05 114.10,74.09 114.50,74.00 114.90,74.16 115.30,74.02 115.70,74.16 116.10,74.20 116.50,74.10 116.90,73.99 117.30,73.90 117.70,74.08 118.10,74.15 118.50,74.12 118.90,74.21 119.30,73.80 119.70,73.78 120.10,73.98 120.50,73.96 120.90,74.01 121.30,74.11 121.70,73.92 122.10,74.07 122.50,73.88 122.90,74.18 123.30,74.36 123.70,74.14 124.10,74.11 124.50,74.40 124.90,74.08 125.30,74.21 125.70,74.09 126.10,74.13 126.50,74.36 126.90,73.74 127.30,73.62 127.70,74.33 128.10,73.94 128.50,74.32 128.90,73.99 129.30,73.99 129.70,74.11 130.10,73.96 130.50,74.32 130.90,74.11 131.30,74.31 131.70,73.80 132.10,73.57 132.50,74.05 132.90,73.90 133.30,73.60 133.70,74.35 134.10,74.55 134.50,73.99 134.90,74.72 135.30,74.65 135.70,74.26 136.10,74.03 136.50,74.81 136.90,73.69 137.30,74.57 137.70,74.35 138.10,73.96 138.50,74.25 138.90,74.18 139.30,74.05 139.70,73.95 140.10,73.43 140.50,73.87 140.90,73.92 141.30,74.31 141.70,73.97 142.10,73.54 142.50,74.18 142.90,74.03 143.30,73.86 143.70,74.19 144.10,74.04 144.50,74.22 144.90,74.08 145.30,73.95 145.70,74.33 146.10,74.10 146.50,74.52 146.90,74.34 147.30,74.20 147.70,74.45 148.10,73.64 148.50,73.68 148.90,73.63 149.30,74.02 149.70,74.47 150.10,73.89 150.50,74.09 150.90,74.03 151.30,74.29 151.70,73.90 152.10,73.80 152.50,74.14 152.90,74.40 153.30,73.69 153.70,73.85 154.10,73.79 154.50,73.99 154.90,74.18 155.30,73.98 155.70,74.75 156.10,73.72 156.50,73.69 156.90,74.19 157.30,74.32 157.70,73.51 158.10,74.08 158.50,73.87 158.90,74.35 159.30,73.54 159.70,73.79 160.10,74.33 160.50,74.00 160.90,74.43 161.30,73.93 161.70,74.48 162.10,73.41 162.50,73.71 162.90,74.37 163.30,74.54 163.70,74.74 164.10,74.24 164.50,74.39 164.90,73.94 165.30,74.89 165.70,73.41 166.10,73.52 166.50,73.90 166.90,74.03 167.30,72.64 167.70,74.70 168.10,74.17 168.50,74.25 168.90,73.36 169.30,74.16 169.70,74.14 170.10,73.81 170.50,74.42 170.90,73.91 171.30,74.24 171.70,74.27 172.10,73.71 172.50,74.86 172.90,73.94 173.30,73.99 173.70,74.14 174.10,75.32 174.50,74.31 174.90,73.82 175.30,73.96 175.70,73.80 176.10,74.30 176.50,73.94 176.90,74.15 177.30,74.50 177.70,74.40 178.10,73.64 178.50,73.54 178.90,74.48 179.30,74.28 179.70,73.82 180.10,74.49 180.50,73.88 180.90,73.60 181.30,74.06 181.70,74.31 182.10,74.40 182.50,73.94 182.90,74.21 183.30,73.76 183.70,73.66 184.10,74.25 184.50,74.04 184.90,74.00 185.30,74.42 185.70,73.70 186.10,73.04 186.50,73.79 186.90,74.02 187.30,74.88 187.70,74.58 188.10,74.20 188.50,74.17 188.90,74.02 189.30,73.64 189.70,74.49 190.10,74.10 190.50,74.58 190.90,74.00 191.30,74.21 191.70,74.89 192.10,74.04 192.50,74.82 192.90,74.25 193.30,74.00 193.70,73.54 194.10,74.77 194.50,74.05 194.90,74.25 195.30,74.35 195.70,73.58 196.10,73.99 196.50,74.17 196.90,73.60 197.30,76.03 197.70,75.85 198.10,74.21 198.50,73.69 198.90,74.01 199.30,73.77 199.70,74.96 200.10,73.90 200.50,74.50 200.90,74.22 201.30,74.37 201.70,73.79 202.10,74.38 202.50,74.12 202.90,74.27 203.30,74.43 203.70,74.10 204.10,74.44 204.50,73.92 204.90,73.89 205.30,74.51 205.70,74.11 206.10,74.38 206.50,73.96 206.90,74.28 207.30,73.94 207.70,73.20 208.10,74.54 208.50,74.17 208.90,73.75 209.30,74.73 209.70,74.31" fill="none" stroke="#3f70b4" stroke-width="0.5" stroke-opacity="0.9"/>
<polygon points="169.70,73.65 170.10,73.68 170.50,73.56 170.90,73.24 171.30,73.42 171.70,73.36 172.10,73.37 172.50,72.98 172.90,72.72 173.30,72.52 173.70,72.97 174.10,72.85 174.50,72.81 174.90,72.58 175.30,72.84 175.70,72.43 176.10,73.15 176.50,72.82 176.90,72.71 177.30,72.89 177.70,72.91 178.10,72.96 178.50,72.90 178.90,72.94 179.30,73.08 179.70,72.99 180.10,72.85 180.50,73.11 180.90,72.92 181.30,73.19 181.70,73.24 182.10,73.46 182.50,73.22 182.90,73.21 183.30,73.30 183.70,73.49 184.10,73.37 184.50,73.67 184.90,73.47 185.30,73.61 185.70,73.68 186.10,73.61 186.50,73.63 186.90,73.42 187.30,73.66 187.70,73.52 188.10,73.61 188.50,73.63 188.90,73.74 189.30,73.71 189.70,73.66 190.10,73.81 190.50,73.66 190.90,73.68 191.30,73.77 191.70,73.76 192.10,73.60 192.50,73.64 192.90,73.48 193.30,73.67 193.70,73.47 194.10,73.52 194.50,73.76 194.90,73.77 195.30,73.68 195.70,73.70 196.10,73.65 196.50,73.46 196.90,73.52 197.30,73.68 197.70,73.72 198.10,73.68 198.50,73.76 198.90,73.73 199.30,73.77 199.70,73.68 200.10,73.79 200.50,73.78 200.90,73.84 201.30,73.74 201.70,73.75 202.10,73.85 202.50,73.81 202.90,73.82 203.30,73.63 203.70,73.80 204.10,73.81 204.50,73.73 204.90,73.75 205.30,73.90 205.70,73.81 206.10,73.87 206.50,73.89 206.90,73.85 207.30,73.81 207.70,73.89 208.10,73.75 208.50,73.81 208.90,73.81 209.30,73.90 209.70,73.80 209.70,74.36 209.30,74.29 208.90,74.37 208.50,74.33 208.10,74.39 207.70,74.31 207.30,74.46 206.90,74.46 206.50,74.41 206.10,74.30 205.70,74.30 205.30,74.36 204.90,74.43 204.50,74.40 204.10,74.48 203.70,74.48 203.30,74.50 202.90,74.44 202.50,74.42 202.10,74.51 201.70,74.36 201.30,74.38 200.90,74.42 200.50,74.40 200.10,74.44 199.70,74.52 199.30,74.41 198.90,74.52 198.50,74.48 198.10,74.47 197.70,74.52 197.30,74.56 196.90,74.67 196.50,74.55 196.10,74.62 195.70,74.52 195.30,74.42 194.90,74.47 194.50,74.51 194.10,74.64 193.70,74.54 193.30,74.63 192.90,74.67 192.50,74.64 192.10,74.56 191.70,74.58 191.30,74.44 190.90,74.39 190.50,74.46 190.10,74.41 189.70,74.57 189.30,74.55 188.90,74.46 188.50,74.66 188.10,74.49 187.70,74.73 187.30,74.77 186.90,74.77 186.50,74.55 186.10,74.58 185.70,74.58 185.30,74.55 184.90,74.72 184.50,74.74 184.10,74.59 183.70,74.75 183.30,74.85 182.90,74.89 182.50,74.97 182.10,74.79 181.70,74.98 181.30,75.10 180.90,74.85 180.50,74.89 180.10,75.26 179.70,75.30 179.30,74.93 178.90,75.08 178.50,74.97 178.10,75.49 177.70,75.06 177.30,75.08 176.90,75.47 176.50,75.20 176.10,75.28 175.70,75.28 175.30,75.35 174.90,75.38 174.50,75.70 174.10,75.41 173.70,75.29 173.30,75.50 172.90,75.09 172.50,75.05 172.10,74.99 171.70,74.98 171.30,75.00 170.90,75.07 170.50,74.81 170.10,74.59 169.70,74.57" fill="#3763aa" fill-opacity="0.88"/>
<line x1="22.6" y1="74.10" x2="210.0" y2="74.10" stroke="#2f5a9c" stroke-width="0.85"/>
<line x1="22.6" y1="79.68" x2="210.0" y2="79.68" stroke="#a9c2e4" stroke-width="2.2" stroke-opacity="0.28"/>
<polyline points="22.90,79.67 23.30,79.91 23.70,79.79 24.10,79.41 24.50,79.46 24.90,79.59 25.30,79.88 25.70,79.93 26.10,79.64 26.50,79.76 26.90,79.72 27.30,79.26 27.70,79.87 28.10,79.92 28.50,78.15 28.90,80.56 29.30,79.67 29.70,79.67 30.10,79.86 30.50,79.88 30.90,79.59 31.30,79.80 31.70,79.57 32.10,79.63 32.50,79.72 32.90,79.78 33.30,79.58 33.70,80.01 34.10,79.72 34.50,79.68 34.90,79.81 35.30,79.58 35.70,79.74 36.10,79.27 36.50,79.39 36.90,79.62 37.30,79.60 37.70,79.62 38.10,79.57 38.50,79.78 38.90,79.89 39.30,79.60 39.70,79.86 40.10,79.75 40.50,79.48 40.90,79.45 41.30,79.69 41.70,79.87 42.10,79.53 42.50,79.33 42.90,79.85 43.30,79.88 43.70,79.64 44.10,79.87 44.50,80.03 44.90,79.54 45.30,79.62 45.70,79.62 46.10,79.87 46.50,79.54 46.90,79.63 47.30,79.90 47.70,79.86 48.10,79.86 48.50,79.53 48.90,79.76 49.30,79.59 49.70,79.84 50.10,79.77 50.50,79.81 50.90,79.66 51.30,79.71 51.70,79.75 52.10,79.65 52.50,79.74 52.90,79.52 53.30,79.49 53.70,79.40 54.10,79.66 54.50,79.83 54.90,79.76 55.30,79.35 55.70,79.75 56.10,79.69 56.50,79.66 56.90,79.73 57.30,79.78 57.70,79.92 58.10,79.90 58.50,80.01 58.90,79.17 59.30,80.07 59.70,79.91 60.10,79.48 60.50,79.83 60.90,79.52 61.30,79.59 61.70,79.89 62.10,79.59 62.50,79.87 62.90,79.80 63.30,79.67 63.70,79.81 64.10,79.79 64.50,79.71 64.90,79.58 65.30,79.83 65.70,79.64 66.10,79.68 66.50,79.76 66.90,79.67 67.30,79.73 67.70,79.74 68.10,79.74 68.50,79.71 68.90,79.92 69.30,79.61 69.70,79.62 70.10,79.48 70.50,79.30 70.90,79.80 71.30,79.77 71.70,79.93 72.10,79.45 72.50,79.56 72.90,79.59 73.30,80.01 73.70,79.84 74.10,79.66 74.50,79.69 74.90,79.74 75.30,79.50 75.70,79.75 76.10,79.51 76.50,79.70 76.90,79.80 77.30,79.73 77.70,79.57 78.10,79.64 78.50,79.41 78.90,79.91 79.30,79.46 79.70,79.64 80.10,79.60 80.50,79.65 80.90,79.68 81.30,79.63 81.70,79.63 82.10,79.83 82.50,79.78 82.90,79.84 83.30,79.70 83.70,79.62 84.10,79.73 84.50,79.44 84.90,79.49 85.30,79.82 85.70,79.60 86.10,79.57 86.50,79.50 86.90,79.75 87.30,79.48 87.70,79.88 88.10,79.71 88.50,79.39 88.90,79.59 89.30,79.51 89.70,79.77 90.10,79.77 90.50,79.60 90.90,79.57 91.30,79.75 91.70,79.57 92.10,79.90 92.50,79.57 92.90,79.74 93.30,79.35 93.70,79.74 94.10,79.57 94.50,79.72 94.90,79.86 95.30,79.65 95.70,79.26 96.10,79.34 96.50,79.69 96.90,79.53 97.30,79.48 97.70,79.84 98.10,79.64 98.50,79.83 98.90,79.83 99.30,79.61 99.70,79.69 100.10,79.48 100.50,79.74 100.90,79.67 101.30,79.93 101.70,79.81 102.10,79.64 102.50,79.56 102.90,79.63 103.30,79.67 103.70,79.79 104.10,79.84 104.50,79.47 104.90,79.50 105.30,79.72 105.70,79.47 106.10,79.65 106.50,79.37 106.90,79.61 107.30,79.59 107.70,79.61 108.10,79.56 108.50,79.75 108.90,79.81 109.30,79.79 109.70,79.62 110.10,79.62 110.50,79.56 110.90,79.55 111.30,79.64 111.70,79.64 112.10,79.63 112.50,79.71 112.90,79.11 113.30,80.07 113.70,79.63 114.10,79.76 114.50,79.70 114.90,79.54 115.30,79.47 115.70,79.78 116.10,79.49 116.50,79.74 116.90,79.50 117.30,79.96 117.70,79.50 118.10,79.97 118.50,79.79 118.90,79.90 119.30,79.88 119.70,79.76 120.10,79.62 120.50,80.08 120.90,79.61 121.30,79.71 121.70,79.45 122.10,79.67 122.50,79.77 122.90,79.56 123.30,79.70 123.70,79.63 124.10,79.62 124.50,79.78 124.90,79.82 125.30,79.56 125.70,79.39 126.10,79.75 126.50,79.50 126.90,79.60 127.30,79.54 127.70,79.84 128.10,80.04 128.50,79.58 128.90,80.04 129.30,79.70 129.70,79.62 130.10,79.86 130.50,80.23 130.90,79.61 131.30,79.58 131.70,80.22 132.10,79.93 132.50,78.86 132.90,79.63 133.30,79.44 133.70,79.50 134.10,79.71 134.50,79.53 134.90,79.55 135.30,80.28 135.70,79.20 136.10,79.72 136.50,79.85 136.90,79.25 137.30,79.34 137.70,79.34 138.10,79.92 138.50,79.36 138.90,79.82 139.30,79.32 139.70,79.30 140.10,79.80 140.50,79.91 140.90,79.28 141.30,79.37 141.70,79.74 142.10,79.38 142.50,79.33 142.90,79.35 143.30,79.75 143.70,78.90 144.10,80.18 144.50,80.13 144.90,80.03 145.30,79.60 145.70,79.47 146.10,79.82 146.50,79.34 146.90,80.30 147.30,79.49 147.70,80.01 148.10,79.90 148.50,79.53 148.90,79.60 149.30,79.42 149.70,79.69 150.10,79.84 150.50,79.67 150.90,79.56 151.30,79.67 151.70,80.03 152.10,79.93 152.50,79.81 152.90,79.48 153.30,79.53 153.70,79.86 154.10,79.50 154.50,79.38 154.90,80.22 155.30,79.08 155.70,80.32 156.10,79.42 156.50,79.77 156.90,79.99 157.30,79.77 157.70,79.05 158.10,80.72 158.50,81.14 158.90,79.75 159.30,80.07 159.70,79.53 160.10,79.63 160.50,80.03 160.90,79.63 161.30,80.01 161.70,78.93 162.10,79.26 162.50,80.03 162.90,79.98 163.30,79.97 163.70,80.03 164.10,80.03 164.50,79.19 164.90,80.31 165.30,80.01 165.70,79.16 166.10,79.11 166.50,79.81 166.90,79.37 167.30,79.86 167.70,79.52 168.10,79.03 168.50,79.30 168.90,79.49 169.30,79.64 169.70,79.97 170.10,79.37 170.50,79.84 170.90,79.55 171.30,79.59 171.70,78.69 172.10,79.44 172.50,79.05 172.90,79.92 173.30,80.09 173.70,79.82 174.10,80.50 174.50,79.75 174.90,79.99 175.30,79.50 175.70,79.79 176.10,79.22 176.50,79.52 176.90,80.07 177.30,79.64 177.70,79.51 178.10,79.59 178.50,79.85 178.90,80.21 179.30,79.02 179.70,79.63 180.10,79.59 180.50,79.54 180.90,79.63 181.30,79.85 181.70,80.12 182.10,78.93 182.50,79.15 182.90,79.69 183.30,79.04 183.70,79.83 184.10,79.29 184.50,79.58 184.90,79.16 185.30,79.26 185.70,80.76 186.10,79.50 186.50,80.23 186.90,79.62 187.30,79.90 187.70,79.30 188.10,79.84 188.50,79.42 188.90,78.45 189.30,78.54 189.70,79.58 190.10,79.91 190.50,79.30 190.90,79.19 191.30,79.39 191.70,80.31 192.10,78.86 192.50,79.90 192.90,80.10 193.30,79.06 193.70,79.24 194.10,79.46 194.50,79.35 194.90,80.02 195.30,79.66 195.70,79.40 196.10,79.78 196.50,80.13 196.90,79.47 197.30,79.28 197.70,80.01 198.10,80.35 198.50,80.28 198.90,79.97 199.30,79.57 199.70,79.98 200.10,79.88 200.50,79.90 200.90,79.64 201.30,80.08 201.70,80.02 202.10,79.13 202.50,79.95 202.90,79.24 203.30,79.71 203.70,79.60 204.10,79.86 204.50,79.45 204.90,79.51 205.30,79.45 205.70,79.46 206.10,79.07 206.50,79.88 206.90,79.42 207.30,79.81 207.70,79.66 208.10,79.84 208.50,79.91 208.90,79.97 209.30,80.46 209.70,78.68" fill="none" stroke="#3f70b4" stroke-width="0.5" stroke-opacity="0.9"/>
<polygon points="170.50,78.84 170.90,78.92 171.30,78.74 171.70,78.73 172.10,78.77 172.50,78.44 172.90,78.50 173.30,78.45 173.70,78.62 174.10,78.50 174.50,78.11 174.90,78.15 175.30,78.51 175.70,78.52 176.10,78.44 176.50,78.85 176.90,78.45 177.30,78.51 177.70,78.41 178.10,78.41 178.50,78.87 178.90,78.83 179.30,78.64 179.70,78.80 180.10,78.76 180.50,78.62 180.90,78.32 181.30,78.40 181.70,78.73 182.10,78.42 182.50,78.72 182.90,78.77 183.30,78.84 183.70,78.82 184.10,78.73 184.50,79.00 184.90,78.92 185.30,79.08 185.70,78.91 186.10,79.06 186.50,79.05 186.90,78.94 187.30,78.94 187.70,78.80 188.10,79.06 188.50,79.17 188.90,79.07 189.30,79.10 189.70,78.94 190.10,79.16 190.50,78.91 190.90,78.85 191.30,79.04 191.70,78.86 192.10,79.08 192.50,79.11 192.90,79.14 193.30,79.14 193.70,79.16 194.10,79.11 194.50,79.12 194.90,79.13 195.30,79.25 195.70,79.31 196.10,79.30 196.50,79.16 196.90,79.13 197.30,79.11 197.70,79.02 198.10,78.98 198.50,79.11 198.90,79.15 199.30,79.14 199.70,79.17 200.10,79.31 200.50,79.14 200.90,79.15 201.30,79.14 201.70,79.09 202.10,79.22 202.50,79.32 202.90,79.27 203.30,79.42 203.70,79.28 204.10,79.32 204.50,79.27 204.90,79.45 205.30,79.25 205.70,79.28 206.10,79.28 206.50,79.26 206.90,79.19 207.30,79.35 207.70,79.25 208.10,79.22 208.50,79.30 208.90,79.15 209.30,79.24 209.70,79.18 209.70,80.07 209.30,80.26 208.90,80.20 208.50,80.21 208.10,80.17 207.70,80.03 207.30,80.14 206.90,80.08 206.50,80.15 206.10,80.02 205.70,80.10 205.30,80.02 204.90,79.99 204.50,80.11 204.10,80.15 203.70,80.04 203.30,79.98 202.90,80.08 202.50,80.02 202.10,80.06 201.70,80.14 201.30,80.08 200.90,80.18 200.50,80.30 200.10,80.13 199.70,80.13 199.30,80.10 198.90,80.26 198.50,80.13 198.10,80.28 197.70,80.40 197.30,80.33 196.90,80.35 196.50,80.06 196.10,80.04 195.70,80.12 195.30,80.18 194.90,80.03 194.50,80.18 194.10,80.18 193.70,80.34 193.30,80.26 192.90,80.48 192.50,80.52 192.10,80.37 191.70,80.51 191.30,80.34 190.90,80.37 190.50,80.39 190.10,80.36 189.70,80.43 189.30,80.33 188.90,80.22 188.50,80.13 188.10,80.23 187.70,80.37 187.30,80.41 186.90,80.56 186.50,80.21 186.10,80.43 185.70,80.28 185.30,80.27 184.90,80.39 184.50,80.73 184.10,80.56 183.70,80.57 183.30,80.68 182.90,80.83 182.50,80.47 182.10,80.89 181.70,80.95 181.30,81.13 180.90,81.10 180.50,80.80 180.10,80.83 179.70,80.93 179.30,80.39 178.90,80.76 178.50,80.51 178.10,80.78 177.70,80.94 177.30,80.93 176.90,80.78 176.50,80.68 176.10,80.55 175.70,80.87 175.30,81.18 174.90,81.30 174.50,81.01 174.10,81.28 173.70,80.62 173.30,80.75 172.90,80.61 172.50,80.49 172.10,80.52 171.70,80.59 171.30,80.45 170.90,80.27 170.50,80.51" fill="#3763aa" fill-opacity="0.88"/>
<line x1="22.6" y1="79.68" x2="210.0" y2="79.68" stroke="#2f5a9c" stroke-width="0.85"/>
<line x1="22.6" y1="85.26" x2="210.0" y2="85.26" stroke="#a9c2e4" stroke-width="2.2" stroke-opacity="0.28"/>
<polyline points="22.90,85.50 23.30,85.17 23.70,85.23 24.10,85.33 24.50,85.14 24.90,85.18 25.30,84.86 25.70,85.16 26.10,85.09 26.50,85.41 26.90,85.42 27.30,85.32 27.70,85.38 28.10,84.95 28.50,84.05 28.90,86.56 29.30,85.49 29.70,85.45 30.10,85.15 30.50,85.44 30.90,85.00 31.30,85.33 31.70,85.37 32.10,85.56 32.50,85.32 32.90,85.20 33.30,85.17 33.70,85.34 34.10,85.11 34.50,85.68 34.90,85.04 35.30,85.33 35.70,85.24 36.10,85.11 36.50,85.30 36.90,85.34 37.30,85.29 37.70,85.15 38.10,85.37 38.50,85.41 38.90,85.10 39.30,84.99 39.70,85.47 40.10,85.38 40.50,85.33 40.90,85.18 41.30,85.26 41.70,85.45 42.10,85.36 42.50,85.50 42.90,85.18 43.30,85.40 43.70,85.38 44.10,86.00 44.50,86.40 44.90,85.17 45.30,85.30 45.70,85.53 46.10,85.35 46.50,85.06 46.90,85.62 47.30,85.45 47.70,85.17 48.10,85.22 48.50,85.34 48.90,85.37 49.30,85.21 49.70,85.21 50.10,85.14 50.50,83.81 50.90,84.09 51.30,85.26 51.70,85.48 52.10,85.24 52.50,85.09 52.90,85.53 53.30,85.13 53.70,85.01 54.10,85.40 54.50,85.12 54.90,85.27 55.30,85.38 55.70,85.64 56.10,85.31 56.50,85.28 56.90,85.34 57.30,85.32 57.70,85.24 58.10,85.22 58.50,85.14 58.90,84.57 59.30,85.64 59.70,85.12 60.10,85.22 60.50,85.33 60.90,85.12 61.30,85.16 61.70,85.45 62.10,85.59 62.50,85.55 62.90,84.90 63.30,85.54 63.70,85.46 64.10,84.77 64.50,85.61 64.90,85.24 65.30,85.39 65.70,85.20 66.10,85.18 66.50,85.00 66.90,85.58 67.30,84.95 67.70,85.39 68.10,85.17 68.50,85.15 68.90,85.08 69.30,85.13 69.70,85.07 70.10,85.20 70.50,85.18 70.90,85.04 71.30,85.40 71.70,85.46 72.10,85.37 72.50,85.22 72.90,85.33 73.30,85.44 73.70,85.08 74.10,85.41 74.50,85.12 74.90,85.41 75.30,85.29 75.70,85.39 76.10,85.18 76.50,85.37 76.90,85.17 77.30,85.18 77.70,85.10 78.10,85.23 78.50,84.83 78.90,86.06 79.30,85.23 79.70,85.54 80.10,85.20 80.50,85.17 80.90,85.17 81.30,85.47 81.70,85.34 82.10,85.54 82.50,85.28 82.90,85.42 83.30,85.11 83.70,85.26 84.10,85.11 84.50,85.30 84.90,85.27 85.30,85.43 85.70,85.55 86.10,85.55 86.50,85.08 86.90,85.12 87.30,85.25 87.70,85.12 88.10,85.55 88.50,85.14 88.90,85.38 89.30,85.36 89.70,85.21 90.10,85.38 90.50,85.34 90.90,85.20 91.30,85.43 91.70,85.09 92.10,85.28 92.50,85.09 92.90,85.03 93.30,85.09 93.70,85.65 94.10,84.11 94.50,84.36 94.90,85.35 95.30,85.15 95.70,85.36 96.10,85.31 96.50,85.20 96.90,85.38 97.30,85.33 97.70,85.30 98.10,85.21 98.50,85.16 98.90,85.73 99.30,85.10 99.70,85.24 100.10,85.44 100.50,85.16 100.90,84.95 101.30,84.94 101.70,85.66 102.10,85.62 102.50,85.35 102.90,85.35 103.30,85.13 103.70,85.18 104.10,85.01 104.50,85.42 104.90,85.02 105.30,85.16 105.70,85.41 106.10,84.99 106.50,85.20 106.90,85.47 107.30,85.33 107.70,85.66 108.10,85.17 108.50,85.34 108.90,85.29 109.30,85.27 109.70,85.27 110.10,85.00 110.50,85.10 110.90,85.37 111.30,85.47 111.70,85.66 112.10,85.15 112.50,85.11 112.90,84.32 113.30,86.05 113.70,85.40 114.10,85.15 114.50,85.37 114.90,85.32 115.30,85.28 115.70,85.15 116.10,85.28 116.50,85.13 116.90,85.50 117.30,84.88 117.70,85.39 118.10,85.20 118.50,85.52 118.90,85.38 119.30,85.07 119.70,85.17 120.10,85.19 120.50,85.22 120.90,85.38 121.30,85.54 121.70,85.42 122.10,84.75 122.50,85.30 122.90,85.45 123.30,85.41 123.70,85.75 124.10,85.16 124.50,85.28 124.90,85.40 125.30,85.45 125.70,85.23 126.10,84.95 126.50,85.03 126.90,85.53 127.30,85.37 127.70,85.33 128.10,85.00 128.50,85.12 128.90,85.21 129.30,85.12 129.70,85.29 130.10,85.36 130.50,85.06 130.90,85.17 131.30,85.63 131.70,84.73 132.10,85.09 132.50,85.06 132.90,84.95 133.30,85.28 133.70,84.46 134.10,84.97 134.50,85.40 134.90,85.90 135.30,85.46 135.70,84.65 136.10,85.35 136.50,85.23 136.90,85.79 137.30,85.56 137.70,85.40 138.10,85.57 138.50,85.27 138.90,85.37 139.30,85.34 139.70,85.16 140.10,85.01 140.50,85.70 140.90,85.38 141.30,85.39 141.70,85.84 142.10,85.11 142.50,85.22 142.90,85.32 143.30,84.80 143.70,85.46 144.10,85.30 144.50,84.94 144.90,85.07 145.30,85.30 145.70,85.96 146.10,85.29 146.50,84.77 146.90,85.44 147.30,85.25 147.70,84.92 148.10,85.05 148.50,85.22 148.90,85.41 149.30,85.29 149.70,84.81 150.10,85.26 150.50,84.92 150.90,85.25 151.30,84.98 151.70,85.34 152.10,85.59 152.50,85.14 152.90,84.96 153.30,85.55 153.70,85.08 154.10,85.24 154.50,85.12 154.90,85.18 155.30,84.67 155.70,85.92 156.10,85.63 156.50,85.31 156.90,85.68 157.30,85.26 157.70,84.98 158.10,84.66 158.50,85.67 158.90,85.41 159.30,84.50 159.70,85.32 160.10,85.26 160.50,85.36 160.90,85.63 161.30,84.73 161.70,84.40 162.10,86.12 162.50,85.29 162.90,85.31 163.30,86.16 163.70,85.41 164.10,84.86 164.50,85.63 164.90,84.97 165.30,85.40 165.70,85.33 166.10,85.04 166.50,85.26 166.90,84.73 167.30,85.43 167.70,85.69 168.10,84.71 168.50,85.19 168.90,84.91 169.30,85.05 169.70,85.89 170.10,86.17 170.50,84.71 170.90,85.76 171.30,85.66 171.70,85.53 172.10,85.30 172.50,85.67 172.90,85.18 173.30,84.88 173.70,84.71 174.10,85.04 174.50,85.64 174.90,85.51 175.30,85.78 175.70,84.35 176.10,84.87 176.50,85.61 176.90,84.86 177.30,84.93 177.70,84.87 178.10,85.93 178.50,85.54 178.90,84.86 179.30,85.03 179.70,85.68 180.10,85.09 180.50,85.61 180.90,85.25 181.30,85.12 181.70,85.17 182.10,85.47 182.50,85.40 182.90,85.05 183.30,84.56 183.70,85.01 184.10,85.25 184.50,84.84 184.90,85.50 185.30,84.80 185.70,85.45 186.10,84.75 186.50,86.07 186.90,85.11 187.30,85.36 187.70,85.47 188.10,84.75 188.50,84.92 188.90,84.69 189.30,84.94 189.70,85.38 190.10,85.45 190.50,85.08 190.90,85.03 191.30,84.52 191.70,86.17 192.10,85.06 192.50,84.98 192.90,85.94 193.30,85.32 193.70,85.48 194.10,84.68 194.50,85.67 194.90,85.33 195.30,85.64 195.70,85.19 196.10,84.55 196.50,84.80 196.90,86.14 197.30,85.34 197.70,85.19 198.10,86.56 198.50,86.94 198.90,85.20 199.30,85.40 199.70,84.88 200.10,85.24 200.50,84.46 200.90,84.85 201.30,85.25 201.70,85.66 202.10,84.39 202.50,85.54 202.90,84.98 203.30,84.11 203.70,85.74 204.10,85.45 204.50,85.53 204.90,85.28 205.30,85.35 205.70,85.10 206.10,85.18 206.50,85.35 206.90,85.26 207.30,84.63 207.70,86.12 208.10,84.91 208.50,85.17 208.90,85.89 209.30,85.16 209.70,85.09" fill="none" stroke="#3f70b4" stroke-width="0.5" stroke-opacity="0.9"/>
<polygon points="170.50,84.19 170.90,84.31 171.30,83.69 171.70,84.08 172.10,84.13 172.50,83.59 172.90,84.12 173.30,83.46 173.70,83.55 174.10,83.64 174.50,83.36 174.90,82.91 175.30,83.24 175.70,83.35 176.10,83.73 176.50,83.73 176.90,83.47 177.30,83.23 177.70,83.53 178.10,83.54 178.50,83.71 178.90,83.75 179.30,83.16 179.70,82.94 180.10,82.74 180.50,83.62 180.90,83.28 181.30,83.34 181.70,84.04 182.10,83.91 182.50,83.60 182.90,83.73 183.30,84.04 183.70,83.97 184.10,84.00 184.50,83.43 184.90,83.87 185.30,83.89 185.70,83.78 186.10,84.10 186.50,84.38 186.90,84.01 187.30,84.12 187.70,84.04 188.10,84.42 188.50,83.98 188.90,84.06 189.30,84.42 189.70,84.31 190.10,84.40 190.50,84.49 190.90,84.18 191.30,84.55 191.70,84.30 192.10,84.31 192.50,84.44 192.90,84.33 193.30,84.10 193.70,84.20 194.10,84.14 194.50,84.57 194.90,84.46 195.30,84.64 195.70,84.66 196.10,84.75 196.50,84.74 196.90,84.67 197.30,84.63 197.70,84.72 198.10,84.74 198.50,84.51 198.90,84.48 199.30,84.55 199.70,84.55 200.10,84.42 200.50,84.64 200.90,84.45 201.30,84.64 201.70,84.72 202.10,84.78 202.50,84.63 202.90,84.62 203.30,84.84 203.70,84.73 204.10,84.76 204.50,84.66 204.90,84.70 205.30,84.65 205.70,84.85 206.10,84.74 206.50,84.88 206.90,84.87 207.30,84.78 207.70,84.84 208.10,84.82 208.50,84.61 208.90,84.74 209.30,84.71 209.70,84.71 209.70,85.82 209.30,85.76 208.90,85.73 208.50,85.88 208.10,85.85 207.70,85.75 207.30,85.60 206.90,85.76 206.50,85.71 206.10,85.73 205.70,85.83 205.30,85.70 204.90,85.88 204.50,85.81 204.10,85.87 203.70,85.92 203.30,85.91 202.90,85.90 202.50,85.89 202.10,85.93 201.70,85.99 201.30,85.86 200.90,85.87 200.50,85.84 200.10,86.09 199.70,86.02 199.30,86.07 198.90,85.91 198.50,85.74 198.10,85.90 197.70,85.89 197.30,85.97 196.90,85.90 196.50,85.80 196.10,85.92 195.70,85.85 195.30,86.01 194.90,86.10 194.50,86.32 194.10,86.18 193.70,86.00 193.30,86.15 192.90,86.28 192.50,86.41 192.10,86.08 191.70,86.00 191.30,86.06 190.90,86.26 190.50,86.05 190.10,86.37 189.70,86.15 189.30,86.42 188.90,86.14 188.50,86.44 188.10,86.44 187.70,86.31 187.30,86.06 186.90,86.15 186.50,86.28 186.10,86.60 185.70,86.67 185.30,86.51 184.90,86.36 184.50,86.42 184.10,86.71 183.70,86.38 183.30,86.72 182.90,86.90 182.50,86.49 182.10,86.38 181.70,86.92 181.30,87.11 180.90,87.17 180.50,87.57 180.10,87.21 179.70,87.56 179.30,86.81 178.90,87.16 178.50,87.53 178.10,87.17 177.70,86.95 177.30,87.02 176.90,86.95 176.50,87.10 176.10,87.12 175.70,86.86 175.30,87.10 174.90,87.56 174.50,87.46 174.10,86.59 173.70,87.30 173.30,86.99 172.90,87.05 172.50,87.02 172.10,86.34 171.70,86.73 171.30,86.58 170.90,86.10 170.50,86.23" fill="#3763aa" fill-opacity="0.88"/>
<line x1="22.6" y1="85.26" x2="210.0" y2="85.26" stroke="#2f5a9c" stroke-width="0.85"/>
<line x1="22.6" y1="90.84" x2="210.0" y2="90.84" stroke="#a9c2e4" stroke-width="2.2" stroke-opacity="0.28"/>
<polyline points="22.90,90.52 23.30,90.95 23.70,90.70 24.10,90.95 24.50,90.91 24.90,90.82 25.30,90.87 25.70,91.07 26.10,90.48 26.50,90.75 26.90,90.61 27.30,90.44 27.70,90.90 28.10,91.09 28.50,90.03 28.90,91.43 29.30,90.89 29.70,90.65 30.10,90.62 30.50,90.91 30.90,91.00 31.30,90.93 31.70,90.67 32.10,90.70 32.50,90.79 32.90,90.98 33.30,90.64 33.70,91.12 34.10,90.68 34.50,91.15 34.90,90.65 35.30,91.11 35.70,90.71 36.10,90.54 36.50,90.83 36.90,90.83 37.30,90.99 37.70,90.56 38.10,90.93 38.50,90.89 38.90,90.57 39.30,90.86 39.70,92.64 40.10,91.98 40.50,90.73 40.90,90.79 41.30,90.89 41.70,90.60 42.10,91.08 42.50,90.78 42.90,90.48 43.30,90.99 43.70,90.91 44.10,91.09 44.50,90.78 44.90,91.22 45.30,90.91 45.70,90.89 46.10,90.57 46.50,91.05 46.90,90.74 47.30,90.76 47.70,90.94 48.10,90.91 48.50,90.92 48.90,90.26 49.30,89.97 49.70,91.04 50.10,90.87 50.50,91.01 50.90,91.09 51.30,90.87 51.70,91.23 52.10,90.96 52.50,90.57 52.90,90.93 53.30,91.02 53.70,91.10 54.10,90.74 54.50,90.84 54.90,90.69 55.30,90.72 55.70,90.97 56.10,90.78 56.50,90.70 56.90,90.66 57.30,90.88 57.70,90.88 58.10,90.92 58.50,90.78 58.90,89.90 59.30,91.30 59.70,90.94 60.10,90.69 60.50,90.80 60.90,90.43 61.30,90.84 61.70,90.89 62.10,90.95 62.50,90.76 62.90,90.66 63.30,90.83 63.70,91.15 64.10,91.02 64.50,90.73 64.90,90.78 65.30,91.73 65.70,91.80 66.10,90.68 66.50,90.81 66.90,90.99 67.30,91.01 67.70,90.95 68.10,90.81 68.50,90.86 68.90,90.54 69.30,90.76 69.70,90.81 70.10,90.81 70.50,90.96 70.90,90.54 71.30,90.78 71.70,90.85 72.10,90.72 72.50,90.49 72.90,90.81 73.30,90.99 73.70,90.73 74.10,90.75 74.50,90.93 74.90,90.79 75.30,91.01 75.70,90.73 76.10,91.13 76.50,90.93 76.90,90.81 77.30,90.73 77.70,90.74 78.10,90.85 78.50,90.20 78.90,91.24 79.30,90.68 79.70,90.68 80.10,90.92 80.50,90.96 80.90,90.70 81.30,90.92 81.70,90.67 82.10,90.60 82.50,90.68 82.90,90.73 83.30,90.70 83.70,90.32 84.10,91.18 84.50,90.86 84.90,91.14 85.30,90.57 85.70,90.71 86.10,91.01 86.50,90.69 86.90,90.86 87.30,90.78 87.70,91.04 88.10,90.38 88.50,90.85 88.90,90.82 89.30,90.93 89.70,90.85 90.10,90.88 90.50,90.75 90.90,90.87 91.30,90.76 91.70,91.11 92.10,90.77 92.50,90.73 92.90,90.94 93.30,90.67 93.70,90.63 94.10,91.04 94.50,90.82 94.90,90.64 95.30,90.72 95.70,90.89 96.10,91.16 96.50,91.15 96.90,90.81 97.30,91.02 97.70,90.83 98.10,90.86 98.50,90.79 98.90,90.37 99.30,90.80 99.70,90.78 100.10,90.67 100.50,90.87 100.90,90.74 101.30,90.60 101.70,90.81 102.10,90.98 102.50,91.17 102.90,90.55 103.30,91.04 103.70,90.68 104.10,90.83 104.50,90.93 104.90,90.64 105.30,90.90 105.70,90.82 106.10,90.88 106.50,90.65 106.90,90.78 107.30,90.79 107.70,90.75 108.10,90.69 108.50,90.91 108.90,90.90 109.30,90.79 109.70,90.82 110.10,90.92 110.50,91.08 110.90,90.72 111.30,90.58 111.70,91.23 112.10,90.73 112.50,90.67 112.90,90.12 113.30,91.58 113.70,90.84 114.10,90.86 114.50,90.62 114.90,90.70 115.30,90.58 115.70,91.08 116.10,90.93 116.50,90.44 116.90,90.79 117.30,90.78 117.70,91.10 118.10,90.89 118.50,91.28 118.90,90.82 119.30,90.75 119.70,90.91 120.10,90.58 120.50,90.68 120.90,90.84 121.30,90.91 121.70,90.61 122.10,90.37 122.50,90.69 122.90,91.08 123.30,90.98 123.70,90.68 124.10,91.05 124.50,90.67 124.90,90.81 125.30,90.90 125.70,91.35 126.10,90.99 126.50,90.87 126.90,90.70 127.30,90.98 127.70,90.86 128.10,90.77 128.50,90.84 128.90,90.70 129.30,90.86 129.70,90.65 130.10,90.84 130.50,90.99 130.90,91.31 131.30,90.74 131.70,90.63 132.10,90.35 132.50,90.71 132.90,90.86 133.30,90.51 133.70,91.18 134.10,90.97 134.50,90.57 134.90,90.47 135.30,90.12 135.70,90.34 136.10,90.60 136.50,90.76 136.90,91.01 137.30,91.08 137.70,91.26 138.10,90.92 138.50,91.91 138.90,90.75 139.30,91.00 139.70,91.18 140.10,91.05 140.50,91.18 140.90,91.00 141.30,90.64 141.70,91.08 142.10,90.70 142.50,90.98 142.90,90.97 143.30,90.93 143.70,90.73 144.10,90.62 144.50,90.59 144.90,90.87 145.30,90.26 145.70,90.68 146.10,90.85 146.50,90.82 146.90,91.26 147.30,90.86 147.70,90.45 148.10,90.42 148.50,91.02 148.90,90.91 149.30,90.60 149.70,90.51 150.10,90.94 150.50,90.72 150.90,90.89 151.30,90.77 151.70,90.74 152.10,90.81 152.50,90.80 152.90,90.55 153.30,90.43 153.70,90.92 154.10,90.77 154.50,91.09 154.90,91.37 155.30,90.04 155.70,90.69 156.10,90.91 156.50,91.32 156.90,90.64 157.30,90.89 157.70,90.60 158.10,90.71 158.50,90.50 158.90,91.18 159.30,90.61 159.70,90.30 160.10,91.47 160.50,90.85 160.90,90.08 161.30,90.49 161.70,90.79 162.10,91.13 162.50,91.04 162.90,90.62 163.30,90.62 163.70,91.30 164.10,90.35 164.50,90.67 164.90,90.58 165.30,91.23 165.70,91.43 166.10,90.98 166.50,91.00 166.90,90.36 167.30,90.93 167.70,91.30 168.10,91.12 168.50,90.35 168.90,91.12 169.30,91.23 169.70,90.49 170.10,90.53 170.50,90.39 170.90,90.63 171.30,90.91 171.70,91.26 172.10,90.52 172.50,91.24 172.90,91.07 173.30,91.48 173.70,91.18 174.10,91.08 174.50,91.06 174.90,90.39 175.30,91.06 175.70,91.38 176.10,90.51 176.50,90.81 176.90,91.60 177.30,91.15 177.70,91.09 178.10,90.86 178.50,90.74 178.90,90.69 179.30,90.34 179.70,91.54 180.10,90.28 180.50,91.37 180.90,90.50 181.30,90.13 181.70,90.65 182.10,90.13 182.50,90.69 182.90,90.49 183.30,90.26 183.70,90.92 184.10,90.70 184.50,90.07 184.90,89.95 185.30,91.02 185.70,90.80 186.10,90.01 186.50,91.21 186.90,90.84 187.30,90.22 187.70,91.06 188.10,90.33 188.50,90.55 188.90,90.80 189.30,90.98 189.70,90.59 190.10,90.96 190.50,91.06 190.90,90.92 191.30,90.31 191.70,91.38 192.10,90.10 192.50,90.74 192.90,91.00 193.30,90.53 193.70,91.05 194.10,91.26 194.50,90.58 194.90,90.64 195.30,91.36 195.70,91.34 196.10,91.35 196.50,90.69 196.90,90.67 197.30,90.84 197.70,90.19 198.10,90.39 198.50,90.60 198.90,89.97 199.30,89.76 199.70,91.09 200.10,90.72 200.50,90.38 200.90,91.50 201.30,90.16 201.70,90.64 202.10,90.74 202.50,90.49 202.90,90.88 203.30,91.52 203.70,91.28 204.10,90.50 204.50,91.17 204.90,91.30 205.30,91.19 205.70,90.52 206.10,91.05 206.50,90.97 206.90,91.45 207.30,90.10 207.70,91.30 208.10,91.18 208.50,90.97 208.90,90.34 209.30,91.23 209.70,90.99" fill="none" stroke="#3f70b4" stroke-width="0.5" stroke-opacity="0.9"/>
<polygon points="170.50,89.86 170.90,89.96 171.30,90.01 171.70,89.92 172.10,89.91 172.50,89.45 172.90,89.36 173.30,89.76 173.70,89.23 174.10,89.12 174.50,88.64 174.90,89.21 175.30,88.44 175.70,88.50 176.10,89.24 176.50,88.88 176.90,88.74 177.30,89.45 177.70,88.91 178.10,89.41 178.50,88.38 178.90,88.91 179.30,88.46 179.70,88.62 180.10,88.50 180.50,89.17 180.90,88.69 181.30,88.98 181.70,89.36 182.10,89.08 182.50,89.55 182.90,88.70 183.30,89.30 183.70,88.91 184.10,89.03 184.50,89.22 184.90,89.08 185.30,89.01 185.70,89.51 186.10,89.83 186.50,89.25 186.90,89.68 187.30,89.71 187.70,89.62 188.10,89.47 188.50,89.74 188.90,90.03 189.30,89.96 189.70,90.04 190.10,89.87 190.50,89.96 190.90,89.60 191.30,89.77 191.70,89.79 192.10,89.80 192.50,89.80 192.90,89.84 193.30,90.20 193.70,90.03 194.10,89.70 194.50,90.01 194.90,90.19 195.30,90.00 195.70,90.10 196.10,90.17 196.50,90.07 196.90,90.04 197.30,90.11 197.70,89.99 198.10,90.07 198.50,89.86 198.90,90.03 199.30,90.10 199.70,90.23 200.10,90.22 200.50,90.31 200.90,90.14 201.30,90.39 201.70,90.41 202.10,90.40 202.50,90.47 202.90,90.27 203.30,90.17 203.70,90.25 204.10,89.93 204.50,89.98 204.90,90.05 205.30,90.14 205.70,90.35 206.10,90.26 206.50,90.15 206.90,90.28 207.30,90.24 207.70,90.33 208.10,90.29 208.50,90.30 208.90,90.02 209.30,90.19 209.70,90.21 209.70,91.60 209.30,91.26 208.90,91.45 208.50,91.50 208.10,91.53 207.70,91.34 207.30,91.29 206.90,91.35 206.50,91.39 206.10,91.26 205.70,91.38 205.30,91.43 204.90,91.65 204.50,91.68 204.10,91.46 203.70,91.60 203.30,91.66 202.90,91.56 202.50,91.22 202.10,91.33 201.70,91.26 201.30,91.32 200.90,91.42 200.50,91.42 200.10,91.56 199.70,91.51 199.30,91.66 198.90,91.72 198.50,91.52 198.10,91.64 197.70,91.59 197.30,91.80 196.90,91.81 196.50,91.57 196.10,91.55 195.70,91.68 195.30,91.63 194.90,91.64 194.50,91.61 194.10,91.72 193.70,91.64 193.30,91.83 192.90,91.83 192.50,92.01 192.10,91.85 191.70,91.79 191.30,91.72 190.90,91.80 190.50,91.89 190.10,91.73 189.70,91.56 189.30,92.00 188.90,91.90 188.50,92.09 188.10,91.83 187.70,91.72 187.30,92.16 186.90,92.35 186.50,92.11 186.10,91.83 185.70,92.61 185.30,92.15 184.90,92.40 184.50,92.60 184.10,92.31 183.70,92.27 183.30,92.12 182.90,92.46 182.50,92.25 182.10,92.83 181.70,92.59 181.30,92.67 180.90,92.97 180.50,93.21 180.10,92.87 179.70,93.46 179.30,93.16 178.90,93.36 178.50,93.03 178.10,93.05 177.70,92.45 177.30,93.09 176.90,92.81 176.50,92.83 176.10,92.57 175.70,92.40 175.30,92.63 174.90,92.51 174.50,92.55 174.10,92.99 173.70,92.29 173.30,92.17 172.90,92.32 172.50,91.87 172.10,92.01 171.70,91.77 171.30,92.20 170.90,91.60 170.50,91.87" fill="#3763aa" fill-opacity="0.88"/>
<line x1="194.0" y1="89.14" x2="194.0" y2="92.54" stroke="#3f70b4" stroke-width="0.6"/>
<line x1="195.7" y1="89.14" x2="195.7" y2="92.54" stroke="#3f70b4" stroke-width="0.6"/>
<line x1="197.4" y1="89.14" x2="197.4" y2="92.54" stroke="#3f70b4" stroke-width="0.6"/>
<line x1="199.1" y1="89.14" x2="199.1" y2="92.54" stroke="#3f70b4" stroke-width="0.6"/>
<line x1="200.8" y1="89.14" x2="200.8" y2="92.54" stroke="#3f70b4" stroke-width="0.6"/>
<line x1="22.6" y1="90.84" x2="210.0" y2="90.84" stroke="#2f5a9c" stroke-width="0.85"/>
<line x1="22.6" y1="96.42" x2="210.0" y2="96.42" stroke="#a9c2e4" stroke-width="2.2" stroke-opacity="0.28"/>
<polyline points="22.90,96.42 23.30,96.37 23.70,96.26 24.10,96.49 24.50,96.34 24.90,96.43 25.30,96.41 25.70,96.40 26.10,96.30 26.50,96.43 26.90,96.63 27.30,96.30 27.70,96.35 28.10,96.45 28.50,95.39 28.90,98.40 29.30,97.46 29.70,96.76 30.10,96.45 30.50,96.30 30.90,96.81 31.30,96.32 31.70,96.33 32.10,96.33 32.50,96.68 32.90,96.64 33.30,96.60 33.70,96.24 34.10,96.36 34.50,96.66 34.90,96.41 35.30,96.30 35.70,96.31 36.10,96.49 36.50,96.24 36.90,96.61 37.30,96.28 37.70,96.42 38.10,96.35 38.50,96.16 38.90,96.50 39.30,96.24 39.70,96.68 40.10,96.18 40.50,96.33 40.90,96.47 41.30,96.10 41.70,96.08 42.10,96.38 42.50,96.45 42.90,96.29 43.30,96.40 43.70,96.49 44.10,96.23 44.50,96.54 44.90,96.50 45.30,96.65 45.70,96.43 46.10,96.36 46.50,96.42 46.90,96.54 47.30,96.51 47.70,96.22 48.10,96.47 48.50,96.32 48.90,96.49 49.30,96.22 49.70,96.37 50.10,96.07 50.50,96.04 50.90,96.36 51.30,96.28 51.70,96.42 52.10,96.76 52.50,96.48 52.90,96.49 53.30,96.57 53.70,96.51 54.10,96.34 54.50,96.56 54.90,96.73 55.30,96.74 55.70,96.33 56.10,96.37 56.50,96.28 56.90,96.18 57.30,96.11 57.70,96.69 58.10,96.42 58.50,96.24 58.90,95.83 59.30,97.05 59.70,96.48 60.10,96.26 60.50,96.08 60.90,96.48 61.30,96.49 61.70,96.64 62.10,96.16 62.50,96.57 62.90,96.07 63.30,96.34 63.70,96.41 64.10,96.58 64.50,96.32 64.90,96.19 65.30,96.61 65.70,96.25 66.10,96.45 66.50,96.60 66.90,96.57 67.30,96.28 67.70,96.22 68.10,96.20 68.50,96.43 68.90,96.32 69.30,96.38 69.70,96.65 70.10,96.71 70.50,96.50 70.90,96.23 71.30,96.50 71.70,96.67 72.10,96.59 72.50,96.49 72.90,96.51 73.30,96.49 73.70,96.18 74.10,96.57 74.50,96.54 74.90,96.34 75.30,96.40 75.70,96.62 76.10,96.51 76.50,96.59 76.90,96.58 77.30,96.48 77.70,96.48 78.10,96.04 78.50,95.86 78.90,96.54 79.30,96.08 79.70,96.56 80.10,96.54 80.50,96.60 80.90,96.58 81.30,96.19 81.70,96.41 82.10,96.54 82.50,96.44 82.90,97.00 83.30,96.50 83.70,96.32 84.10,96.32 84.50,96.48 84.90,96.42 85.30,96.42 85.70,96.45 86.10,96.63 86.50,96.72 86.90,96.74 87.30,96.17 87.70,96.37 88.10,96.48 88.50,96.58 88.90,96.39 89.30,96.25 89.70,96.29 90.10,96.51 90.50,96.32 90.90,96.53 91.30,96.33 91.70,96.58 92.10,96.22 92.50,96.45 92.90,96.46 93.30,96.38 93.70,96.44 94.10,96.30 94.50,96.49 94.90,96.32 95.30,96.52 95.70,96.24 96.10,96.16 96.50,96.35 96.90,96.46 97.30,96.58 97.70,96.49 98.10,96.55 98.50,96.34 98.90,96.30 99.30,96.57 99.70,96.33 100.10,96.36 100.50,96.38 100.90,96.05 101.30,96.54 101.70,96.53 102.10,96.59 102.50,96.73 102.90,96.41 103.30,96.47 103.70,96.41 104.10,96.38 104.50,96.50 104.90,96.63 105.30,96.26 105.70,96.30 106.10,96.57 106.50,96.18 106.90,96.40 107.30,96.37 107.70,96.34 108.10,96.48 108.50,96.53 108.90,96.39 109.30,96.53 109.70,96.56 110.10,96.39 110.50,96.29 110.90,96.13 111.30,96.29 111.70,96.40 112.10,96.85 112.50,96.20 112.90,96.13 113.30,96.98 113.70,96.62 114.10,96.76 114.50,96.48 114.90,96.28 115.30,96.77 115.70,96.36 116.10,96.51 116.50,96.18 116.90,96.34 117.30,96.54 117.70,96.62 118.10,96.15 118.50,96.33 118.90,96.44 119.30,96.43 119.70,96.36 120.10,96.53 120.50,96.54 120.90,96.37 121.30,96.34 121.70,96.27 122.10,96.53 122.50,96.72 122.90,96.30 123.30,96.47 123.70,96.46 124.10,96.33 124.50,96.35 124.90,96.31 125.30,96.74 125.70,96.32 126.10,96.24 126.50,96.55 126.90,96.40 127.30,96.61 127.70,96.18 128.10,96.33 128.50,96.47 128.90,96.07 129.30,96.51 129.70,96.21 130.10,96.73 130.50,96.20 130.90,96.43 131.30,96.42 131.70,96.68 132.10,96.93 132.50,96.48 132.90,96.39 133.30,96.65 133.70,96.12 134.10,96.20 134.50,96.48 134.90,96.67 135.30,96.71 135.70,96.22 136.10,96.24 136.50,95.82 136.90,96.39 137.30,96.40 137.70,96.43 138.10,96.58 138.50,95.93 138.90,96.28 139.30,96.52 139.70,96.26 140.10,96.56 140.50,95.87 140.90,96.82 141.30,96.64 141.70,96.22 142.10,95.89 142.50,96.09 142.90,96.73 143.30,96.49 143.70,96.62 144.10,96.12 144.50,94.55 144.90,95.61 145.30,96.44 145.70,96.73 146.10,96.08 146.50,96.70 146.90,95.85 147.30,96.74 147.70,96.24 148.10,97.42 148.50,98.02 148.90,96.05 149.30,96.42 149.70,96.52 150.10,96.34 150.50,96.66 150.90,96.16 151.30,96.77 151.70,96.89 152.10,96.02 152.50,96.77 152.90,96.56 153.30,96.08 153.70,96.36 154.10,95.62 154.50,96.69 154.90,95.14 155.30,95.24 155.70,96.81 156.10,96.43 156.50,95.70 156.90,95.98 157.30,96.48 157.70,96.45 158.10,96.17 158.50,97.40 158.90,96.49 159.30,95.19 159.70,96.27 160.10,96.51 160.50,96.59 160.90,96.12 161.30,96.97 161.70,95.80 162.10,96.24 162.50,96.76 162.90,96.46 163.30,96.54 163.70,96.40 164.10,95.90 164.50,95.88 164.90,96.41 165.30,96.34 165.70,96.16 166.10,96.88 166.50,96.02 166.90,95.89 167.30,95.81 167.70,97.29 168.10,96.29 168.50,96.11 168.90,96.99 169.30,96.33 169.70,97.37 170.10,95.71 170.50,97.23 170.90,95.76 171.30,95.44 171.70,95.74 172.10,96.59 172.50,96.99 172.90,96.72 173.30,95.94 173.70,96.07 174.10,96.88 174.50,96.55 174.90,95.72 175.30,96.66 175.70,96.45 176.10,95.57 176.50,96.95 176.90,95.55 177.30,96.58 177.70,96.92 178.10,96.56 178.50,96.79 178.90,95.60 179.30,96.38 179.70,96.19 180.10,96.09 180.50,96.10 180.90,96.93 181.30,96.94 181.70,96.29 182.10,96.49 182.50,95.90 182.90,96.40 183.30,95.97 183.70,96.94 184.10,95.96 184.50,96.77 184.90,96.07 185.30,96.68 185.70,95.93 186.10,96.82 186.50,96.83 186.90,96.22 187.30,96.04 187.70,95.74 188.10,97.25 188.50,96.22 188.90,95.54 189.30,96.62 189.70,96.33 190.10,96.61 190.50,96.34 190.90,95.97 191.30,95.99 191.70,95.87 192.10,96.18 192.50,95.89 192.90,95.68 193.30,96.42 193.70,96.81 194.10,96.87 194.50,95.68 194.90,96.20 195.30,96.54 195.70,96.31 196.10,96.54 196.50,96.73 196.90,96.41 197.30,96.51 197.70,95.98 198.10,96.37 198.50,96.63 198.90,96.06 199.30,96.73 199.70,96.68 200.10,95.99 200.50,97.09 200.90,96.53 201.30,96.54 201.70,96.03 202.10,95.95 202.50,96.08 202.90,96.65 203.30,95.65 203.70,96.84 204.10,96.01 204.50,96.35 204.90,96.38 205.30,96.70 205.70,96.09 206.10,96.56 206.50,96.58 206.90,96.56 207.30,95.90 207.70,96.29 208.10,96.70 208.50,96.75 208.90,96.45 209.30,95.71 209.70,97.76" fill="none" stroke="#3f70b4" stroke-width="0.5" stroke-opacity="0.9"/>
<polygon points="170.90,95.70 171.30,95.73 171.70,95.83 172.10,95.53 172.50,95.79 172.90,95.80 173.30,95.51 173.70,95.60 174.10,95.51 174.50,95.65 174.90,95.37 175.30,95.39 175.70,95.28 176.10,95.13 176.50,95.32 176.90,94.96 177.30,95.22 177.70,95.28 178.10,95.46 178.50,95.55 178.90,95.45 179.30,95.31 179.70,95.53 180.10,95.23 180.50,95.26 180.90,95.50 181.30,95.63 181.70,95.37 182.10,95.44 182.50,95.25 182.90,95.69 183.30,95.52 183.70,95.38 184.10,95.86 184.50,95.86 184.90,95.69 185.30,95.73 185.70,95.95 186.10,95.75 186.50,95.91 186.90,95.72 187.30,95.94 187.70,95.82 188.10,96.02 188.50,96.06 188.90,95.94 189.30,95.76 189.70,95.84 190.10,95.77 190.50,95.92 190.90,96.00 191.30,95.77 191.70,95.97 192.10,95.93 192.50,95.96 192.90,96.09 193.30,95.96 193.70,96.10 194.10,96.04 194.50,96.00 194.90,96.14 195.30,96.03 195.70,96.16 196.10,96.09 196.50,96.17 196.90,96.09 197.30,96.15 197.70,96.18 198.10,96.11 198.50,96.06 198.90,96.00 199.30,95.95 199.70,96.00 200.10,96.16 200.50,96.10 200.90,96.06 201.30,96.04 201.70,96.08 202.10,95.98 202.50,96.12 202.90,96.11 203.30,96.16 203.70,96.12 204.10,96.23 204.50,96.18 204.90,96.23 205.30,96.15 205.70,96.11 206.10,96.19 206.50,96.19 206.90,96.24 207.30,96.20 207.70,96.23 208.10,96.10 208.50,96.16 208.90,96.20 209.30,96.18 209.70,96.18 209.70,96.60 209.30,96.62 208.90,96.70 208.50,96.62 208.10,96.68 207.70,96.63 207.30,96.61 206.90,96.67 206.50,96.64 206.10,96.61 205.70,96.68 205.30,96.66 204.90,96.65 204.50,96.68 204.10,96.59 203.70,96.71 203.30,96.75 202.90,96.74 202.50,96.78 202.10,96.71 201.70,96.73 201.30,96.77 200.90,96.71 200.50,96.72 200.10,96.68 199.70,96.84 199.30,96.81 198.90,96.88 198.50,96.83 198.10,96.69 197.70,96.65 197.30,96.75 196.90,96.68 196.50,96.79 196.10,96.72 195.70,96.80 195.30,96.82 194.90,96.85 194.50,96.88 194.10,96.78 193.70,96.75 193.30,96.86 192.90,96.84 192.50,96.95 192.10,96.90 191.70,96.98 191.30,96.93 190.90,97.01 190.50,96.90 190.10,96.88 189.70,96.99 189.30,96.96 188.90,96.81 188.50,96.78 188.10,96.83 187.70,96.88 187.30,96.86 186.90,96.89 186.50,97.07 186.10,97.17 185.70,97.10 185.30,96.99 184.90,96.88 184.50,97.06 184.10,97.03 183.70,97.33 183.30,97.45 182.90,97.10 182.50,97.32 182.10,97.54 181.70,97.58 181.30,97.17 180.90,97.23 180.50,97.54 180.10,97.26 179.70,97.56 179.30,97.44 178.90,97.40 178.50,97.32 178.10,97.55 177.70,97.62 177.30,97.78 176.90,97.71 176.50,97.50 176.10,97.57 175.70,97.39 175.30,97.68 174.90,97.48 174.50,97.26 174.10,97.40 173.70,97.26 173.30,97.20 172.90,97.41 172.50,97.05 172.10,97.02 171.70,97.23 171.30,97.14 170.90,97.09" fill="#3763aa" fill-opacity="0.88"/>
<line x1="22.6" y1="96.42" x2="210.0" y2="96.42" stroke="#2f5a9c" stroke-width="0.85"/>
<line x1="22.6" y1="102.00" x2="210.0" y2="102.00" stroke="#a9c2e4" stroke-width="2.2" stroke-opacity="0.28"/>
<polyline points="22.90,101.96 23.30,101.99 23.70,102.24 24.10,101.83 24.50,101.96 24.90,102.20 25.30,102.00 25.70,101.99 26.10,102.23 26.50,101.89 26.90,102.29 27.30,102.17 27.70,101.87 28.10,102.16 28.50,101.02 28.90,102.86 29.30,101.83 29.70,101.73 30.10,102.01 30.50,102.18 30.90,101.74 31.30,102.42 31.70,102.14 32.10,102.21 32.50,101.83 32.90,101.86 33.30,101.90 33.70,102.12 34.10,102.13 34.50,101.89 34.90,102.06 35.30,101.95 35.70,102.00 36.10,102.16 36.50,102.08 36.90,102.20 37.30,102.14 37.70,101.71 38.10,102.11 38.50,102.01 38.90,101.79 39.30,101.90 39.70,101.75 40.10,101.84 40.50,102.25 40.90,101.94 41.30,102.21 41.70,102.02 42.10,101.95 42.50,100.82 42.90,101.31 43.30,102.08 43.70,102.07 44.10,102.27 44.50,101.86 44.90,102.14 45.30,101.94 45.70,101.78 46.10,102.05 46.50,101.94 46.90,102.09 47.30,102.09 47.70,102.03 48.10,101.97 48.50,102.00 48.90,101.90 49.30,102.04 49.70,101.98 50.10,101.97 50.50,101.76 50.90,102.07 51.30,102.08 51.70,102.14 52.10,101.96 52.50,102.01 52.90,102.24 53.30,102.02 53.70,102.02 54.10,102.01 54.50,102.07 54.90,101.84 55.30,101.68 55.70,101.89 56.10,102.05 56.50,101.98 56.90,101.81 57.30,102.18 57.70,102.05 58.10,102.06 58.50,101.88 58.90,101.28 59.30,102.50 59.70,101.87 60.10,102.15 60.50,101.82 60.90,102.07 61.30,101.67 61.70,102.05 62.10,102.17 62.50,101.58 62.90,102.16 63.30,102.20 63.70,102.04 64.10,101.94 64.50,102.11 64.90,102.00 65.30,101.94 65.70,101.62 66.10,102.02 66.50,102.13 66.90,101.95 67.30,102.07 67.70,102.00 68.10,101.79 68.50,101.91 68.90,102.12 69.30,101.65 69.70,101.87 70.10,102.16 70.50,101.88 70.90,102.22 71.30,102.23 71.70,102.24 72.10,101.96 72.50,102.10 72.90,102.03 73.30,101.93 73.70,103.39 74.10,103.37 74.50,102.13 74.90,101.91 75.30,101.86 75.70,102.29 76.10,102.19 76.50,102.09 76.90,101.94 77.30,102.08 77.70,102.13 78.10,101.99 78.50,101.33 78.90,102.49 79.30,102.13 79.70,102.24 80.10,101.83 80.50,102.18 80.90,101.92 81.30,102.12 81.70,101.74 82.10,101.93 82.50,101.73 82.90,102.07 83.30,102.20 83.70,102.00 84.10,102.21 84.50,101.84 84.90,102.04 85.30,102.13 85.70,101.98 86.10,102.28 86.50,101.96 86.90,102.24 87.30,101.87 87.70,101.97 88.10,101.87 88.50,101.97 88.90,102.03 89.30,102.04 89.70,102.06 90.10,101.96 90.50,101.77 90.90,102.05 91.30,101.99 91.70,101.75 92.10,101.89 92.50,102.17 92.90,101.69 93.30,102.14 93.70,102.25 94.10,102.03 94.50,102.12 94.90,102.01 95.30,102.22 95.70,101.92 96.10,101.84 96.50,102.24 96.90,102.29 97.30,102.15 97.70,102.02 98.10,101.93 98.50,102.27 98.90,101.87 99.30,102.06 99.70,102.41 100.10,102.00 100.50,102.09 100.90,102.11 101.30,101.98 101.70,102.22 102.10,102.10 102.50,102.05 102.90,101.83 103.30,102.20 103.70,102.20 104.10,101.67 104.50,102.00 104.90,102.15 105.30,102.10 105.70,102.09 106.10,102.03 106.50,101.55 106.90,101.98 107.30,101.87 107.70,102.16 108.10,102.16 108.50,102.19 108.90,102.15 109.30,102.10 109.70,101.43 110.10,102.06 110.50,101.92 110.90,101.83 111.30,101.96 111.70,101.96 112.10,102.02 112.50,101.68 112.90,101.01 113.30,102.66 113.70,102.02 114.10,102.06 114.50,102.11 114.90,102.07 115.30,101.90 115.70,101.85 116.10,102.30 116.50,101.87 116.90,101.98 117.30,102.15 117.70,102.22 118.10,101.80 118.50,101.60 118.90,102.48 119.30,102.08 119.70,101.94 120.10,101.97 120.50,102.20 120.90,101.96 121.30,102.15 121.70,101.78 122.10,102.02 122.50,102.09 122.90,102.20 123.30,101.87 123.70,101.86 124.10,102.15 124.50,101.93 124.90,102.01 125.30,101.98 125.70,101.92 126.10,102.26 126.50,101.84 126.90,102.06 127.30,101.77 127.70,101.98 128.10,101.59 128.50,101.90 128.90,102.10 129.30,102.00 129.70,102.13 130.10,101.92 130.50,102.18 130.90,101.65 131.30,101.92 131.70,102.17 132.10,102.48 132.50,101.66 132.90,102.13 133.30,102.38 133.70,102.16 134.10,102.42 134.50,102.04 134.90,101.97 135.30,101.77 135.70,101.73 136.10,102.07 136.50,102.01 136.90,102.07 137.30,102.32 137.70,101.55 138.10,102.22 138.50,101.73 138.90,102.36 139.30,101.52 139.70,102.86 140.10,102.20 140.50,101.93 140.90,102.36 141.30,101.72 141.70,101.97 142.10,101.78 142.50,102.28 142.90,102.39 143.30,102.07 143.70,102.00 144.10,102.37 144.50,102.15 144.90,101.63 145.30,101.85 145.70,101.69 146.10,101.84 146.50,102.46 146.90,102.31 147.30,101.60 147.70,102.24 148.10,101.94 148.50,102.47 148.90,102.68 149.30,101.94 149.70,102.46 150.10,102.45 150.50,101.95 150.90,102.23 151.30,102.40 151.70,102.10 152.10,101.64 152.50,102.09 152.90,102.22 153.30,102.35 153.70,101.47 154.10,101.82 154.50,101.54 154.90,101.58 155.30,101.06 155.70,102.51 156.10,102.79 156.50,101.77 156.90,101.82 157.30,102.41 157.70,101.94 158.10,102.38 158.50,102.38 158.90,102.64 159.30,102.07 159.70,102.16 160.10,101.96 160.50,101.06 160.90,101.77 161.30,102.24 161.70,101.00 162.10,101.77 162.50,101.20 162.90,101.31 163.30,102.15 163.70,102.54 164.10,102.39 164.50,101.79 164.90,101.28 165.30,101.87 165.70,102.21 166.10,101.93 166.50,102.16 166.90,102.35 167.30,101.58 167.70,101.46 168.10,102.14 168.50,101.91 168.90,102.27 169.30,102.12 169.70,101.77 170.10,102.67 170.50,101.98 170.90,101.68 171.30,102.15 171.70,102.42 172.10,101.71 172.50,102.06 172.90,102.14 173.30,101.63 173.70,102.67 174.10,101.20 174.50,101.55 174.90,102.26 175.30,102.21 175.70,101.72 176.10,101.49 176.50,101.73 176.90,101.90 177.30,102.35 177.70,102.76 178.10,102.10 178.50,102.07 178.90,102.19 179.30,101.98 179.70,102.28 180.10,102.24 180.50,101.49 180.90,102.26 181.30,102.65 181.70,102.40 182.10,102.30 182.50,102.64 182.90,102.89 183.30,101.91 183.70,101.63 184.10,101.37 184.50,102.07 184.90,102.13 185.30,102.38 185.70,102.26 186.10,102.35 186.50,102.12 186.90,101.89 187.30,101.74 187.70,102.15 188.10,102.12 188.50,102.21 188.90,101.55 189.30,101.65 189.70,101.83 190.10,101.38 190.50,101.85 190.90,102.53 191.30,101.31 191.70,101.80 192.10,101.77 192.50,102.25 192.90,102.06 193.30,102.08 193.70,102.60 194.10,102.29 194.50,102.99 194.90,102.36 195.30,101.91 195.70,102.38 196.10,102.72 196.50,102.13 196.90,102.25 197.30,101.91 197.70,102.64 198.10,101.59 198.50,102.81 198.90,101.98 199.30,101.58 199.70,101.89 200.10,102.01 200.50,101.71 200.90,102.18 201.30,102.19 201.70,101.97 202.10,101.75 202.50,100.81 202.90,101.81 203.30,101.14 203.70,101.49 204.10,102.36 204.50,102.37 204.90,102.45 205.30,101.68 205.70,101.67 206.10,102.46 206.50,102.35 206.90,101.39 207.30,102.28 207.70,102.46 208.10,101.89 208.50,102.21 208.90,102.05 209.30,102.76 209.70,102.02" fill="none" stroke="#3f70b4" stroke-width="0.5" stroke-opacity="0.9"/>
<polygon points="170.50,101.58 170.90,101.57 171.30,101.33 171.70,101.23 172.10,101.13 172.50,100.92 172.90,101.21 173.30,101.09 173.70,101.16 174.10,100.88 174.50,100.96 174.90,100.67 175.30,100.48 175.70,100.49 176.10,100.89 176.50,100.72 176.90,101.08 177.30,101.19 177.70,101.10 178.10,100.97 178.50,101.09 178.90,101.13 179.30,101.10 179.70,101.30 180.10,101.27 180.50,101.15 180.90,101.34 181.30,101.43 181.70,101.09 182.10,101.02 182.50,101.35 182.90,101.15 183.30,101.19 183.70,101.43 184.10,101.38 184.50,101.22 184.90,101.35 185.30,101.34 185.70,101.55 186.10,101.56 186.50,101.58 186.90,101.55 187.30,101.47 187.70,101.49 188.10,101.53 188.50,101.55 188.90,101.49 189.30,101.36 189.70,101.60 190.10,101.43 190.50,101.65 190.90,101.72 191.30,101.71 191.70,101.67 192.10,101.55 192.50,101.48 192.90,101.40 193.30,101.50 193.70,101.44 194.10,101.64 194.50,101.54 194.90,101.66 195.30,101.67 195.70,101.67 196.10,101.61 196.50,101.57 196.90,101.62 197.30,101.71 197.70,101.55 198.10,101.74 198.50,101.65 198.90,101.74 199.30,101.69 199.70,101.66 200.10,101.65 200.50,101.73 200.90,101.66 201.30,101.64 201.70,101.65 202.10,101.75 202.50,101.70 202.90,101.68 203.30,101.71 203.70,101.77 204.10,101.69 204.50,101.68 204.90,101.83 205.30,101.76 205.70,101.76 206.10,101.72 206.50,101.67 206.90,101.65 207.30,101.75 207.70,101.71 208.10,101.67 208.50,101.66 208.90,101.71 209.30,101.70 209.70,101.67 209.70,102.36 209.30,102.24 208.90,102.34 208.50,102.26 208.10,102.31 207.70,102.32 207.30,102.26 206.90,102.34 206.50,102.29 206.10,102.22 205.70,102.20 205.30,102.22 204.90,102.26 204.50,102.28 204.10,102.30 203.70,102.29 203.30,102.35 202.90,102.23 202.50,102.21 202.10,102.31 201.70,102.28 201.30,102.34 200.90,102.32 200.50,102.40 200.10,102.38 199.70,102.35 199.30,102.30 198.90,102.31 198.50,102.34 198.10,102.36 197.70,102.36 197.30,102.29 196.90,102.36 196.50,102.37 196.10,102.31 195.70,102.29 195.30,102.35 194.90,102.43 194.50,102.38 194.10,102.48 193.70,102.54 193.30,102.44 192.90,102.49 192.50,102.49 192.10,102.49 191.70,102.41 191.30,102.37 190.90,102.32 190.50,102.47 190.10,102.43 189.70,102.43 189.30,102.49 188.90,102.47 188.50,102.41 188.10,102.36 187.70,102.31 187.30,102.40 186.90,102.58 186.50,102.53 186.10,102.59 185.70,102.52 185.30,102.70 184.90,102.56 184.50,102.56 184.10,102.64 183.70,102.52 183.30,102.62 182.90,102.81 182.50,102.56 182.10,102.96 181.70,102.86 181.30,102.67 180.90,102.56 180.50,102.78 180.10,102.56 179.70,102.93 179.30,102.93 178.90,102.98 178.50,102.65 178.10,103.06 177.70,102.62 177.30,102.82 176.90,103.16 176.50,103.21 176.10,103.06 175.70,103.28 175.30,103.49 174.90,103.37 174.50,103.22 174.10,103.07 173.70,103.05 173.30,102.95 172.90,102.82 172.50,102.95 172.10,102.67 171.70,102.65 171.30,102.51 170.90,102.43 170.50,102.42" fill="#3763aa" fill-opacity="0.88"/>
<line x1="22.6" y1="102.00" x2="210.0" y2="102.00" stroke="#2f5a9c" stroke-width="0.85"/>
<line x1="22.6" y1="107.58" x2="210.0" y2="107.58" stroke="#a9c2e4" stroke-width="2.2" stroke-opacity="0.28"/>
<polyline points="22.90,107.52 23.30,107.65 23.70,107.73 24.10,107.81 24.50,107.35 24.90,107.52 25.30,107.48 25.70,107.42 26.10,107.49 26.50,107.50 26.90,107.65 27.30,107.61 27.70,107.87 28.10,107.43 28.50,106.51 28.90,108.66 29.30,107.47 29.70,107.55 30.10,107.48 30.50,107.75 30.90,107.74 31.30,107.71 31.70,107.15 32.10,107.57 32.50,107.17 32.90,107.44 33.30,107.76 33.70,107.76 34.10,107.59 34.50,107.54 34.90,107.55 35.30,107.44 35.70,107.25 36.10,107.63 36.50,107.66 36.90,107.51 37.30,107.69 37.70,107.60 38.10,107.79 38.50,107.54 38.90,107.30 39.30,107.53 39.70,107.47 40.10,107.43 40.50,107.54 40.90,107.61 41.30,107.48 41.70,107.56 42.10,107.84 42.50,107.54 42.90,107.75 43.30,107.64 43.70,107.37 44.10,107.52 44.50,107.92 44.90,107.42 45.30,106.51 45.70,106.60 46.10,107.52 46.50,107.59 46.90,107.45 47.30,107.79 47.70,107.90 48.10,107.82 48.50,107.61 48.90,107.70 49.30,107.58 49.70,107.32 50.10,107.37 50.50,107.47 50.90,107.43 51.30,107.61 51.70,107.48 52.10,107.21 52.50,107.61 52.90,107.27 53.30,107.50 53.70,107.72 54.10,107.57 54.50,107.46 54.90,107.51 55.30,107.26 55.70,107.48 56.10,107.76 56.50,107.79 56.90,107.41 57.30,107.49 57.70,107.54 58.10,107.49 58.50,107.67 58.90,107.02 59.30,108.18 59.70,107.43 60.10,107.79 60.50,107.74 60.90,107.46 61.30,107.48 61.70,107.71 62.10,107.59 62.50,107.63 62.90,107.36 63.30,107.52 63.70,107.70 64.10,107.69 64.50,107.50 64.90,107.45 65.30,107.63 65.70,107.34 66.10,107.69 66.50,107.39 66.90,107.69 67.30,107.47 67.70,107.82 68.10,107.55 68.50,107.66 68.90,107.67 69.30,107.37 69.70,107.70 70.10,108.14 70.50,107.46 70.90,107.44 71.30,107.63 71.70,107.29 72.10,107.94 72.50,107.64 72.90,107.66 73.30,107.34 73.70,107.41 74.10,107.45 74.50,107.75 74.90,107.43 75.30,107.87 75.70,107.70 76.10,107.66 76.50,107.79 76.90,107.57 77.30,107.63 77.70,107.71 78.10,107.78 78.50,106.59 78.90,108.02 79.30,107.51 79.70,107.48 80.10,107.80 80.50,107.51 80.90,107.77 81.30,107.61 81.70,107.39 82.10,107.62 82.50,107.81 82.90,107.40 83.30,107.62 83.70,107.78 84.10,107.59 84.50,107.32 84.90,107.72 85.30,107.86 85.70,107.76 86.10,107.64 86.50,107.47 86.90,107.51 87.30,107.71 87.70,107.57 88.10,107.69 88.50,107.58 88.90,107.50 89.30,107.82 89.70,107.36 90.10,107.36 90.50,107.51 90.90,107.84 91.30,107.51 91.70,107.96 92.10,107.37 92.50,107.78 92.90,107.86 93.30,107.58 93.70,107.50 94.10,107.73 94.50,107.70 94.90,107.51 95.30,107.30 95.70,107.44 96.10,107.60 96.50,107.56 96.90,107.82 97.30,107.79 97.70,107.82 98.10,107.29 98.50,107.55 98.90,107.29 99.30,107.80 99.70,107.45 100.10,107.66 100.50,107.35 100.90,107.49 101.30,107.66 101.70,107.54 102.10,106.75 102.50,106.59 102.90,107.70 103.30,107.84 103.70,107.78 104.10,107.68 104.50,107.57 104.90,107.47 105.30,107.49 105.70,107.93 106.10,107.49 106.50,107.68 106.90,107.74 107.30,107.35 107.70,107.88 108.10,107.48 108.50,107.52 108.90,107.46 109.30,107.83 109.70,107.76 110.10,107.52 110.50,107.64 110.90,107.59 111.30,107.50 111.70,107.56 112.10,107.75 112.50,107.81 112.90,106.82 113.30,108.19 113.70,107.80 114.10,107.78 114.50,107.83 114.90,107.33 115.30,107.50 115.70,107.65 116.10,107.61 116.50,107.49 116.90,107.36 117.30,107.45 117.70,107.44 118.10,107.29 118.50,107.53 118.90,107.83 119.30,107.83 119.70,107.32 120.10,107.89 120.50,107.72 120.90,107.65 121.30,107.68 121.70,107.54 122.10,107.50 122.50,107.63 122.90,107.59 123.30,107.67 123.70,107.56 124.10,107.61 124.50,107.58 124.90,107.44 125.30,107.81 125.70,107.72 126.10,107.99 126.50,107.71 126.90,107.40 127.30,107.43 127.70,107.34 128.10,107.59 128.50,107.50 128.90,107.62 129.30,107.39 129.70,107.74 130.10,107.52 130.50,107.74 130.90,106.88 131.30,107.64 131.70,107.81 132.10,107.61 132.50,107.43 132.90,107.41 133.30,107.75 133.70,107.86 134.10,107.25 134.50,107.62 134.90,107.37 135.30,108.08 135.70,107.56 136.10,107.45 136.50,107.32 136.90,107.47 137.30,107.49 137.70,107.72 138.10,107.36 138.50,107.64 138.90,107.62 139.30,107.46 139.70,107.61 140.10,107.63 140.50,107.68 140.90,108.07 141.30,108.11 141.70,108.07 142.10,107.45 142.50,107.52 142.90,107.87 143.30,107.43 143.70,107.34 144.10,107.61 144.50,107.23 144.90,107.60 145.30,107.66 145.70,108.06 146.10,107.56 146.50,107.75 146.90,107.56 147.30,107.34 147.70,107.43 148.10,108.39 148.50,107.76 148.90,107.81 149.30,107.48 149.70,107.32 150.10,107.26 150.50,107.84 150.90,106.74 151.30,107.84 151.70,107.75 152.10,107.47 152.50,107.84 152.90,108.13 153.30,107.96 153.70,106.26 154.10,107.15 154.50,107.41 154.90,108.69 155.30,107.86 155.70,107.90 156.10,107.35 156.50,108.38 156.90,107.57 157.30,107.36 157.70,108.04 158.10,107.34 158.50,107.99 158.90,107.44 159.30,107.63 159.70,107.24 160.10,108.07 160.50,107.13 160.90,106.58 161.30,107.59 161.70,107.39 162.10,106.88 162.50,107.40 162.90,107.81 163.30,107.21 163.70,107.26 164.10,107.53 164.50,107.72 164.90,107.81 165.30,108.12 165.70,107.56 166.10,106.95 166.50,106.82 166.90,108.05 167.30,107.29 167.70,108.07 168.10,107.01 168.50,107.70 168.90,107.41 169.30,107.57 169.70,107.74 170.10,107.60 170.50,106.83 170.90,107.55 171.30,107.40 171.70,107.68 172.10,107.39 172.50,107.47 172.90,107.41 173.30,106.50 173.70,107.80 174.10,107.96 174.50,108.25 174.90,107.78 175.30,106.95 175.70,107.97 176.10,107.69 176.50,107.42 176.90,108.23 177.30,107.40 177.70,107.26 178.10,107.71 178.50,107.61 178.90,107.75 179.30,107.07 179.70,107.06 180.10,108.13 180.50,107.59 180.90,107.62 181.30,107.33 181.70,107.14 182.10,107.52 182.50,107.43 182.90,108.08 183.30,107.28 183.70,106.96 184.10,107.61 184.50,107.48 184.90,108.17 185.30,108.02 185.70,107.61 186.10,107.16 186.50,107.24 186.90,107.43 187.30,106.20 187.70,108.21 188.10,107.63 188.50,106.55 188.90,108.02 189.30,108.13 189.70,107.24 190.10,107.88 190.50,107.31 190.90,108.02 191.30,106.94 191.70,107.70 192.10,107.68 192.50,108.11 192.90,107.04 193.30,107.40 193.70,107.72 194.10,108.43 194.50,107.54 194.90,107.54 195.30,107.11 195.70,107.42 196.10,107.31 196.50,107.99 196.90,106.92 197.30,107.64 197.70,108.14 198.10,107.29 198.50,106.93 198.90,107.36 199.30,107.47 199.70,107.54 200.10,108.21 200.50,107.24 200.90,108.00 201.30,107.81 201.70,107.41 202.10,107.71 202.50,107.59 202.90,107.83 203.30,108.09 203.70,107.67 204.10,108.40 204.50,106.59 204.90,107.56 205.30,107.91 205.70,107.55 206.10,108.00 206.50,107.42 206.90,107.62 207.30,107.60 207.70,107.64 208.10,108.54 208.50,107.81 208.90,107.90 209.30,107.41 209.70,107.53" fill="none" stroke="#3f70b4" stroke-width="0.5" stroke-opacity="0.9"/>
<polygon points="170.90,106.74 171.30,106.91 171.70,107.03 172.10,107.00 172.50,106.76 172.90,106.47 173.30,106.16 173.70,106.08 174.10,106.06 174.50,106.12 174.90,105.90 175.30,106.17 175.70,105.82 176.10,106.00 176.50,106.27 176.90,106.35 177.30,106.02 177.70,106.53 178.10,106.32 178.50,106.57 178.90,106.25 179.30,106.62 179.70,106.39 180.10,106.42 180.50,106.07 180.90,106.25 181.30,106.30 181.70,106.00 182.10,106.52 182.50,106.61 182.90,106.62 183.30,106.73 183.70,106.53 184.10,106.59 184.50,106.63 184.90,106.63 185.30,106.74 185.70,106.88 186.10,107.10 186.50,107.02 186.90,106.98 187.30,106.97 187.70,106.86 188.10,107.07 188.50,106.98 188.90,106.76 189.30,106.99 189.70,107.01 190.10,107.14 190.50,107.04 190.90,106.93 191.30,107.08 191.70,106.90 192.10,106.85 192.50,106.77 192.90,106.75 193.30,106.88 193.70,106.92 194.10,107.00 194.50,106.86 194.90,107.12 195.30,107.19 195.70,107.05 196.10,107.02 196.50,107.19 196.90,107.12 197.30,107.22 197.70,107.27 198.10,107.22 198.50,107.22 198.90,107.17 199.30,107.22 199.70,107.03 200.10,107.15 200.50,107.20 200.90,107.22 201.30,107.03 201.70,107.10 202.10,107.17 202.50,107.05 202.90,107.14 203.30,107.12 203.70,107.23 204.10,107.18 204.50,107.13 204.90,107.11 205.30,107.16 205.70,107.32 206.10,107.34 206.50,107.32 206.90,107.22 207.30,107.27 207.70,107.27 208.10,107.21 208.50,107.29 208.90,107.21 209.30,107.24 209.70,107.23 209.70,107.95 209.30,107.98 208.90,107.97 208.50,107.93 208.10,107.86 207.70,107.90 207.30,107.91 206.90,107.90 206.50,107.86 206.10,107.91 205.70,107.98 205.30,107.89 204.90,107.98 204.50,107.94 204.10,107.99 203.70,107.98 203.30,108.06 202.90,108.05 202.50,107.94 202.10,107.97 201.70,108.08 201.30,107.99 200.90,108.04 200.50,108.15 200.10,107.94 199.70,107.96 199.30,108.08 198.90,107.95 198.50,108.04 198.10,107.95 197.70,108.02 197.30,107.98 196.90,108.00 196.50,108.05 196.10,108.19 195.70,108.02 195.30,108.09 194.90,108.30 194.50,108.32 194.10,108.22 193.70,108.38 193.30,108.15 192.90,108.37 192.50,108.34 192.10,108.12 191.70,108.23 191.30,108.19 190.90,108.26 190.50,108.27 190.10,108.05 189.70,108.11 189.30,108.40 188.90,108.08 188.50,108.40 188.10,108.12 187.70,108.30 187.30,108.06 186.90,108.17 186.50,107.97 186.10,108.07 185.70,108.05 185.30,108.26 184.90,108.20 184.50,108.44 184.10,108.35 183.70,108.34 183.30,108.51 182.90,108.53 182.50,108.48 182.10,108.71 181.70,109.09 181.30,109.11 180.90,109.20 180.50,109.09 180.10,108.69 179.70,108.83 179.30,108.84 178.90,108.61 178.50,108.79 178.10,108.64 177.70,109.09 177.30,108.72 176.90,109.06 176.50,108.78 176.10,109.36 175.70,109.28 175.30,108.77 174.90,108.92 174.50,109.59 174.10,109.35 173.70,109.13 173.30,108.82 172.90,108.48 172.50,108.24 172.10,108.20 171.70,108.31 171.30,108.12 170.90,108.32" fill="#3763aa" fill-opacity="0.88"/>
<line x1="22.6" y1="107.58" x2="210.0" y2="107.58" stroke="#2f5a9c" stroke-width="0.85"/>
<line x1="22.6" y1="113.16" x2="210.0" y2="113.16" stroke="#a9c2e4" stroke-width="2.2" stroke-opacity="0.28"/>
<polyline points="22.90,113.38 23.30,112.92 23.70,113.32 24.10,113.13 24.50,112.92 24.90,113.29 25.30,113.40 25.70,113.33 26.10,113.27 26.50,113.09 26.90,113.49 27.30,113.27 27.70,113.10 28.10,112.98 28.50,112.40 28.90,113.57 29.30,113.32 29.70,113.33 30.10,113.11 30.50,112.90 30.90,113.05 31.30,113.46 31.70,113.43 32.10,113.27 32.50,113.44 32.90,113.33 33.30,113.08 33.70,113.04 34.10,113.28 34.50,113.36 34.90,112.80 35.30,113.17 35.70,112.99 36.10,112.85 36.50,113.05 36.90,113.17 37.30,113.21 37.70,113.19 38.10,113.27 38.50,113.10 38.90,112.97 39.30,113.51 39.70,113.53 40.10,112.96 40.50,112.99 40.90,112.95 41.30,113.17 41.70,113.16 42.10,113.02 42.50,113.19 42.90,113.20 43.30,113.24 43.70,113.15 44.10,113.08 44.50,113.17 44.90,112.82 45.30,113.11 45.70,112.85 46.10,113.20 46.50,113.24 46.90,113.15 47.30,113.12 47.70,113.49 48.10,113.40 48.50,113.37 48.90,113.18 49.30,113.32 49.70,113.14 50.10,113.31 50.50,112.86 50.90,113.26 51.30,112.89 51.70,113.16 52.10,113.21 52.50,113.40 52.90,113.14 53.30,113.06 53.70,113.26 54.10,113.30 54.50,113.22 54.90,113.10 55.30,113.26 55.70,112.98 56.10,113.17 56.50,113.06 56.90,113.30 57.30,113.02 57.70,113.39 58.10,113.44 58.50,113.17 58.90,112.39 59.30,113.59 59.70,113.10 60.10,113.18 60.50,113.25 60.90,113.25 61.30,113.22 61.70,112.87 62.10,113.17 62.50,113.03 62.90,113.22 63.30,112.70 63.70,113.00 64.10,113.05 64.50,112.88 64.90,113.20 65.30,113.27 65.70,113.28 66.10,113.12 66.50,113.06 66.90,113.36 67.30,113.04 67.70,113.44 68.10,113.29 68.50,113.10 68.90,113.40 69.30,113.37 69.70,112.83 70.10,113.18 70.50,113.11 70.90,113.13 71.30,113.47 71.70,113.38 72.10,113.55 72.50,113.34 72.90,113.17 73.30,113.04 73.70,113.26 74.10,113.29 74.50,113.14 74.90,113.10 75.30,113.31 75.70,113.19 76.10,113.51 76.50,113.09 76.90,113.28 77.30,113.23 77.70,113.58 78.10,113.14 78.50,112.55 78.90,113.80 79.30,113.13 79.70,113.41 80.10,113.33 80.50,113.25 80.90,113.17 81.30,112.77 81.70,112.97 82.10,113.09 82.50,112.99 82.90,113.30 83.30,113.47 83.70,113.07 84.10,112.99 84.50,113.19 84.90,113.46 85.30,113.14 85.70,113.03 86.10,113.24 86.50,112.94 86.90,112.98 87.30,113.22 87.70,112.97 88.10,113.15 88.50,113.13 88.90,112.97 89.30,113.26 89.70,113.51 90.10,113.26 90.50,112.22 90.90,112.27 91.30,113.27 91.70,113.11 92.10,113.08 92.50,113.04 92.90,113.18 93.30,113.20 93.70,113.12 94.10,114.45 94.50,114.49 94.90,113.41 95.30,113.22 95.70,113.24 96.10,113.25 96.50,113.11 96.90,113.31 97.30,112.86 97.70,113.27 98.10,113.08 98.50,113.21 98.90,113.40 99.30,113.37 99.70,113.49 100.10,112.70 100.50,113.32 100.90,113.13 101.30,113.39 101.70,113.06 102.10,113.26 102.50,113.05 102.90,113.10 103.30,112.93 103.70,113.18 104.10,113.07 104.50,113.09 104.90,113.47 105.30,113.02 105.70,113.36 106.10,113.12 106.50,113.12 106.90,113.20 107.30,113.10 107.70,113.62 108.10,113.01 108.50,113.11 108.90,113.18 109.30,113.36 109.70,113.29 110.10,113.26 110.50,113.11 110.90,113.20 111.30,113.38 111.70,113.41 112.10,113.02 112.50,112.78 112.90,112.64 113.30,113.93 113.70,113.24 114.10,113.00 114.50,113.24 114.90,113.26 115.30,113.42 115.70,113.58 116.10,113.22 116.50,113.22 116.90,113.18 117.30,113.21 117.70,112.78 118.10,113.10 118.50,113.10 118.90,114.46 119.30,114.31 119.70,113.06 120.10,113.08 120.50,113.05 120.90,112.95 121.30,113.27 121.70,113.33 122.10,113.11 122.50,112.83 122.90,113.17 123.30,113.31 123.70,113.12 124.10,112.96 124.50,113.13 124.90,113.55 125.30,113.22 125.70,113.28 126.10,113.04 126.50,113.20 126.90,112.99 127.30,113.25 127.70,112.87 128.10,112.89 128.50,113.50 128.90,113.10 129.30,113.32 129.70,113.07 130.10,113.32 130.50,112.84 130.90,112.82 131.30,113.53 131.70,113.36 132.10,112.51 132.50,112.90 132.90,113.19 133.30,113.66 133.70,113.22 134.10,113.19 134.50,112.78 134.90,113.57 135.30,113.45 135.70,112.59 136.10,113.26 136.50,112.31 136.90,113.15 137.30,112.90 137.70,113.24 138.10,112.70 138.50,113.30 138.90,112.77 139.30,113.06 139.70,112.90 140.10,112.85 140.50,113.51 140.90,113.18 141.30,113.54 141.70,113.12 142.10,113.26 142.50,113.58 142.90,113.11 143.30,113.02 143.70,112.88 144.10,112.99 144.50,113.42 144.90,113.27 145.30,113.13 145.70,113.25 146.10,113.40 146.50,113.39 146.90,112.87 147.30,112.88 147.70,113.68 148.10,113.16 148.50,113.37 148.90,112.99 149.30,112.78 149.70,112.91 150.10,113.46 150.50,113.02 150.90,113.47 151.30,113.31 151.70,112.77 152.10,112.90 152.50,113.22 152.90,113.62 153.30,113.38 153.70,112.21 154.10,113.38 154.50,113.05 154.90,111.85 155.30,111.63 155.70,113.34 156.10,113.60 156.50,113.07 156.90,112.73 157.30,113.39 157.70,112.76 158.10,112.77 158.50,112.83 158.90,113.38 159.30,113.59 159.70,112.94 160.10,113.98 160.50,113.09 160.90,113.38 161.30,113.29 161.70,113.14 162.10,112.66 162.50,113.20 162.90,112.90 163.30,112.81 163.70,112.70 164.10,113.26 164.50,112.95 164.90,113.18 165.30,112.89 165.70,112.59 166.10,112.69 166.50,113.67 166.90,113.40 167.30,113.27 167.70,113.40 168.10,112.65 168.50,113.50 168.90,112.47 169.30,112.89 169.70,112.87 170.10,112.91 170.50,112.38 170.90,113.57 171.30,112.41 171.70,113.48 172.10,113.29 172.50,112.12 172.90,111.91 173.30,112.91 173.70,112.79 174.10,113.71 174.50,112.94 174.90,112.79 175.30,113.51 175.70,113.99 176.10,112.60 176.50,113.08 176.90,113.07 177.30,112.67 177.70,112.62 178.10,113.34 178.50,113.07 178.90,113.42 179.30,112.51 179.70,112.61 180.10,112.76 180.50,113.05 180.90,113.22 181.30,112.94 181.70,112.27 182.10,112.76 182.50,113.78 182.90,112.79 183.30,113.25 183.70,112.90 184.10,113.26 184.50,113.45 184.90,112.35 185.30,113.00 185.70,113.69 186.10,112.76 186.50,112.79 186.90,113.16 187.30,113.33 187.70,112.49 188.10,113.53 188.50,113.11 188.90,113.15 189.30,113.23 189.70,113.05 190.10,113.56 190.50,113.08 190.90,113.29 191.30,113.09 191.70,113.26 192.10,113.19 192.50,112.63 192.90,113.46 193.30,112.66 193.70,113.40 194.10,113.26 194.50,112.70 194.90,113.15 195.30,112.99 195.70,113.22 196.10,112.78 196.50,113.57 196.90,113.21 197.30,113.58 197.70,112.91 198.10,112.86 198.50,113.30 198.90,112.57 199.30,112.88 199.70,113.74 200.10,112.90 200.50,113.18 200.90,112.56 201.30,113.54 201.70,112.65 202.10,112.64 202.50,113.23 202.90,112.71 203.30,112.33 203.70,112.69 204.10,113.24 204.50,112.95 204.90,113.32 205.30,113.44 205.70,113.36 206.10,113.72 206.50,113.18 206.90,113.67 207.30,113.01 207.70,113.69 208.10,113.51 208.50,113.58 208.90,114.43 209.30,113.29 209.70,113.42" fill="none" stroke="#3f70b4" stroke-width="0.5" stroke-opacity="0.9"/>
<polygon points="170.10,112.38 170.50,112.23 170.90,111.97 171.30,112.19 171.70,111.88 172.10,111.52 172.50,111.59 172.90,111.85 173.30,111.70 173.70,111.34 174.10,111.19 174.50,111.15 174.90,110.83 175.30,110.44 175.70,110.27 176.10,111.35 176.50,110.72 176.90,111.57 177.30,111.06 177.70,110.66 178.10,110.75 178.50,110.12 178.90,110.70 179.30,111.08 179.70,111.19 180.10,111.23 180.50,111.06 180.90,111.35 181.30,110.66 181.70,111.53 182.10,111.17 182.50,111.50 182.90,111.52 183.30,111.64 183.70,111.57 184.10,111.63 184.50,111.59 184.90,111.83 185.30,112.06 185.70,111.87 186.10,111.88 186.50,112.03 186.90,111.95 187.30,111.79 187.70,111.79 188.10,112.17 188.50,112.01 188.90,111.82 189.30,112.20 189.70,111.96 190.10,112.19 190.50,112.32 190.90,112.31 191.30,112.31 191.70,111.96 192.10,112.07 192.50,112.13 192.90,112.28 193.30,112.28 193.70,112.17 194.10,112.42 194.50,112.49 194.90,112.04 195.30,112.32 195.70,112.30 196.10,112.10 196.50,111.92 196.90,112.11 197.30,112.24 197.70,112.13 198.10,112.14 198.50,112.55 198.90,112.39 199.30,112.28 199.70,112.51 200.10,112.44 200.50,112.30 200.90,112.35 201.30,112.37 201.70,112.54 202.10,112.21 202.50,112.30 202.90,112.49 203.30,112.14 203.70,112.39 204.10,112.49 204.50,112.63 204.90,112.57 205.30,112.67 205.70,112.72 206.10,112.68 206.50,112.68 206.90,112.77 207.30,112.59 207.70,112.73 208.10,112.58 208.50,112.47 208.90,112.41 209.30,112.65 209.70,112.45 209.70,113.69 209.30,113.75 208.90,113.96 208.50,113.87 208.10,113.64 207.70,113.72 207.30,113.71 206.90,113.63 206.50,113.63 206.10,113.75 205.70,113.61 205.30,113.59 204.90,113.68 204.50,113.74 204.10,113.97 203.70,113.95 203.30,113.94 202.90,114.11 202.50,113.97 202.10,113.99 201.70,113.84 201.30,113.83 200.90,113.82 200.50,113.94 200.10,113.96 199.70,113.75 199.30,114.01 198.90,114.08 198.50,113.94 198.10,114.24 197.70,114.02 197.30,114.29 196.90,114.36 196.50,114.02 196.10,113.99 195.70,114.03 195.30,113.96 194.90,114.07 194.50,114.06 194.10,114.14 193.70,114.00 193.30,114.11 192.90,113.88 192.50,114.51 192.10,114.56 191.70,114.02 191.30,114.12 190.90,113.99 190.50,114.15 190.10,114.01 189.70,113.96 189.30,114.20 188.90,114.58 188.50,114.26 188.10,114.31 187.70,114.46 187.30,114.22 186.90,114.34 186.50,114.43 186.10,114.13 185.70,114.04 185.30,114.46 184.90,114.34 184.50,114.43 184.10,114.62 183.70,114.65 183.30,114.68 182.90,114.89 182.50,115.22 182.10,115.25 181.70,115.00 181.30,115.46 180.90,115.40 180.50,115.29 180.10,115.76 179.70,115.68 179.30,115.83 178.90,115.75 178.50,115.59 178.10,115.95 177.70,115.44 177.30,115.02 176.90,114.84 176.50,115.32 176.10,115.14 175.70,115.69 175.30,115.61 174.90,115.17 174.50,115.62 174.10,115.37 173.70,114.85 173.30,115.06 172.90,114.43 172.50,114.36 172.10,114.67 171.70,114.31 171.30,114.53 170.90,114.28 170.50,114.16 170.10,114.15" fill="#3763aa" fill-opacity="0.88"/>
<line x1="194.0" y1="111.46" x2="194.0" y2="114.86" stroke="#3f70b4" stroke-width="0.6"/>
<line x1="195.7" y1="111.46" x2="195.7" y2="114.86" stroke="#3f70b4" stroke-width="0.6"/>
<line x1="197.4" y1="111.46" x2="197.4" y2="114.86" stroke="#3f70b4" stroke-width="0.6"/>
<line x1="199.1" y1="111.46" x2="199.1" y2="114.86" stroke="#3f70b4" stroke-width="0.6"/>
<line x1="200.8" y1="111.46" x2="200.8" y2="114.86" stroke="#3f70b4" stroke-width="0.6"/>
<line x1="22.6" y1="113.16" x2="210.0" y2="113.16" stroke="#2f5a9c" stroke-width="0.85"/>
<rect x="22.6" y="11.9" width="187.4" height="109.1" fill="none" stroke="#8a8a8a" stroke-width="0.7"/>
<text x="21.70" y="21.60" font-size="8.7" text-anchor="end" fill="#111" stroke="#111" stroke-width="0.13" >18</text>
<text x="21.70" y="38.34" font-size="8.7" text-anchor="end" fill="#111" stroke="#111" stroke-width="0.13" >15</text>
<text x="21.70" y="66.24" font-size="8.7" text-anchor="end" fill="#111" stroke="#111" stroke-width="0.13" >10</text>
<text x="21.70" y="94.14" font-size="8.7" text-anchor="end" fill="#111" stroke="#111" stroke-width="0.13" >5</text>
<text x="21.70" y="116.46" font-size="8.7" text-anchor="end" fill="#111" stroke="#111" stroke-width="0.13" >1</text>
<line x1="22.80" y1="121.0" x2="22.80" y2="119.5" stroke="#666" stroke-width="0.5"/>
<text x="22.80" y="129.20" font-size="9.0" text-anchor="middle" fill="#111" stroke="#111" stroke-width="0.13" >0</text>
<line x1="42.02" y1="121.0" x2="42.02" y2="119.5" stroke="#666" stroke-width="0.5"/>
<text x="42.02" y="129.20" font-size="9.0" text-anchor="middle" fill="#111" stroke="#111" stroke-width="0.13" >1</text>
<line x1="61.24" y1="121.0" x2="61.24" y2="119.5" stroke="#666" stroke-width="0.5"/>
<text x="61.24" y="129.20" font-size="9.0" text-anchor="middle" fill="#111" stroke="#111" stroke-width="0.13" >2</text>
<line x1="80.46" y1="121.0" x2="80.46" y2="119.5" stroke="#666" stroke-width="0.5"/>
<text x="80.46" y="129.20" font-size="9.0" text-anchor="middle" fill="#111" stroke="#111" stroke-width="0.13" >3</text>
<line x1="99.68" y1="121.0" x2="99.68" y2="119.5" stroke="#666" stroke-width="0.5"/>
<text x="99.68" y="129.20" font-size="9.0" text-anchor="middle" fill="#111" stroke="#111" stroke-width="0.13" >4</text>
<line x1="118.90" y1="121.0" x2="118.90" y2="119.5" stroke="#666" stroke-width="0.5"/>
<text x="118.90" y="129.20" font-size="9.0" text-anchor="middle" fill="#111" stroke="#111" stroke-width="0.13" >5</text>
<line x1="138.12" y1="121.0" x2="138.12" y2="119.5" stroke="#666" stroke-width="0.5"/>
<text x="138.12" y="129.20" font-size="9.0" text-anchor="middle" fill="#111" stroke="#111" stroke-width="0.13" >6</text>
<line x1="157.34" y1="121.0" x2="157.34" y2="119.5" stroke="#666" stroke-width="0.5"/>
<text x="157.34" y="129.20" font-size="9.0" text-anchor="middle" fill="#111" stroke="#111" stroke-width="0.13" >7</text>
<line x1="176.56" y1="121.0" x2="176.56" y2="119.5" stroke="#666" stroke-width="0.5"/>
<text x="176.56" y="129.20" font-size="9.0" text-anchor="middle" fill="#111" stroke="#111" stroke-width="0.13" >8</text>
<line x1="195.78" y1="121.0" x2="195.78" y2="119.5" stroke="#666" stroke-width="0.5"/>
<text x="195.78" y="129.20" font-size="9.0" text-anchor="middle" fill="#111" stroke="#111" stroke-width="0.13" >9</text>
<text x="116.80" y="140.50" font-size="11.2" text-anchor="middle" fill="#111" stroke="#111" stroke-width="0.13" >Time (min)</text>
<text x="221.80" y="11.50" font-size="14" text-anchor="start" fill="#111" stroke="#111" stroke-width="0.13" >(b)</text>
<text x="329.80" y="17.30" font-size="11.0" text-anchor="middle" fill="#111" stroke="#111" stroke-width="0.13" >Data</text>
<text x="410.30" y="17.80" font-size="10.8" text-anchor="middle" fill="#111" stroke="#111" stroke-width="0.13" >Reservoir</text>
<text x="488.30" y="17.80" font-size="11.3" text-anchor="middle" fill="#111" stroke="#111" stroke-width="0.13" >Readout layer</text>
<rect x="343.4" y="17.3" width="10.5" height="106.5" fill="#a3bedd" fill-opacity="0.88"/>
<text x="228.90" y="33.00" font-size="11.0" text-anchor="start" fill="#111" stroke="#111" stroke-width="0.13" >Channel 1</text>
<polyline points="280.75,35.83 281.51,30.51 282.54,26.63 283.10,32.78 284.30,31.72 284.82,22.97 285.79,32.56 287.05,21.60 287.56,22.94 288.60,32.91 289.13,30.25 290.16,27.62 291.14,32.28 291.85,32.83 292.89,25.73 293.36,36.94 294.32,30.00 295.25,24.59 296.33,29.71 297.24,33.09 298.06,24.45 298.83,22.52 299.41,32.41 300.64,31.08 301.03,25.08 302.27,33.34 302.72,27.15 303.74,23.55 304.54,22.77 305.23,22.38 306.52,37.26 307.42,23.63 307.90,25.91 309.00,32.24 310.01,21.60 310.77,30.33 311.38,23.25 312.09,29.67 312.96,32.48 313.71,25.89 314.92,31.05 315.78,26.16 316.43,29.22 317.55,30.32 318.37,26.74 319.27,32.45 319.89,29.89 320.71,23.36 321.69,31.87 322.25,32.14 323.45,23.07 324.04,28.47 325.18,30.67 325.88,26.15 326.60,23.95 327.62,34.99 328.55,37.96 329.16,29.72 330.06,30.88 330.97,24.95 331.78,34.30 332.95,27.81 333.34,21.83 334.25,30.61 335.06,28.99 336.00,37.65 337.07,31.71 337.62,25.73 338.95,38.10 339.41,38.10 340.20,21.96 341.18,26.84 342.38,30.71 342.71,25.76 343.60,24.18 344.95,38.04 345.76,29.82 346.47,27.55 347.19,30.40 348.12,21.60 349.06,26.09 349.77,34.78 350.38,29.36 351.44,27.24 352.29,28.02 353.13,32.10 353.79,21.60 354.67,27.68 355.91,34.37 356.38,33.30 357.18,25.67 358.26,30.03 358.98,31.24 360.24,28.41 360.73,23.81 361.81,30.87 362.74,21.98 363.46,28.39 364.42,37.65 365.33,28.12 365.95,28.44 366.65,30.57" fill="none" stroke="#93b3db" stroke-width="0.6" stroke-linejoin="round"/>
<line x1="371.5" y1="30.3" x2="383.6" y2="30.3" stroke="#333" stroke-width="0.8"/>
<polyline points="402.2,34.099999999999994 402.2,49.30 453.4,49.30" fill="none" stroke="#5d6b82" stroke-width="0.8"/>
<path d="M455.2,49.30 l-2.2,-1.0 v2.0 z" fill="#2a3a55"/>
<polyline points="409.1,34.099999999999994 409.1,45.40 453.4,45.40" fill="none" stroke="#5d6b82" stroke-width="0.8"/>
<path d="M455.2,45.40 l-2.2,-1.0 v2.0 z" fill="#2a3a55"/>
<polyline points="416.4,34.099999999999994 416.4,41.50 453.4,41.50" fill="none" stroke="#5d6b82" stroke-width="0.8"/>
<path d="M455.2,41.50 l-2.2,-1.0 v2.0 z" fill="#2a3a55"/>
<rect x="388" y="22.90" width="64.5" height="11.8" rx="1.9" fill="#e3a083" stroke="#704434" stroke-width="0.85"/>
<text x="420.30" y="32.70" font-size="11.3" text-anchor="middle" fill="#111" stroke="#111" stroke-width="0.13" >Memristor 1</text>
<text x="228.90" y="64.30" font-size="11.0" text-anchor="start" fill="#111" stroke="#111" stroke-width="0.13" >Channel 2</text>
<polyline points="280.93,65.98 281.66,53.30 282.51,57.90 283.57,60.99 284.49,55.28 285.17,58.19 286.18,67.93 286.90,58.98 287.50,63.98 288.62,53.54 289.35,57.89 289.93,60.07 291.12,65.62 292.14,63.88 292.67,58.66 293.64,62.93 294.21,59.76 295.52,56.74 296.24,62.42 297.19,63.72 297.66,60.61 298.41,63.59 299.39,63.38 300.59,59.82 301.16,62.81 301.85,54.73 302.75,58.44 303.77,62.53 304.45,58.86 305.61,56.08 306.38,61.22 307.04,56.00 308.27,64.75 309.10,62.70 309.56,53.47 310.59,62.70 311.26,59.02 312.15,65.90 313.02,57.59 313.91,65.80 315.13,60.74 315.61,61.32 316.74,57.96 317.26,59.43 318.46,62.87 319.15,60.43 319.72,59.49 320.93,68.45 321.77,56.97 322.80,58.50 323.29,65.71 324.09,53.30 324.87,61.48 326.06,61.90 326.63,57.28 327.70,55.79 328.20,62.82 329.38,68.10 330.09,67.88 330.86,66.43 332.00,59.14 332.70,59.78 333.84,63.06 334.26,54.28 335.56,63.81 335.99,66.94 336.87,54.41 338.07,59.28 338.70,63.90 339.72,60.77 340.65,59.28 341.18,66.42 341.93,61.89 343.19,57.03 343.70,58.99 344.43,53.64 345.33,55.72 346.27,54.11 347.03,64.75 347.91,62.31 349.18,56.69 350.02,55.96 350.80,65.40 351.74,57.94 352.22,55.26 353.04,61.80 354.24,62.22 355.10,58.41 355.50,61.13 356.38,62.42 357.60,58.91 358.42,59.13 358.89,63.53 360.01,69.80 360.84,53.77 361.41,56.93 362.40,62.28 363.57,63.20 364.14,58.02 364.97,54.49 366.19,62.11 366.64,62.72" fill="none" stroke="#93b3db" stroke-width="0.6" stroke-linejoin="round"/>
<line x1="371.5" y1="62.0" x2="383.6" y2="62.0" stroke="#333" stroke-width="0.8"/>
<polyline points="402.2,65.8 402.2,81.00 453.4,81.00" fill="none" stroke="#5d6b82" stroke-width="0.8"/>
<path d="M455.2,81.00 l-2.2,-1.0 v2.0 z" fill="#2a3a55"/>
<polyline points="409.1,65.8 409.1,77.10 453.4,77.10" fill="none" stroke="#5d6b82" stroke-width="0.8"/>
<path d="M455.2,77.10 l-2.2,-1.0 v2.0 z" fill="#2a3a55"/>
<polyline points="416.4,65.8 416.4,73.20 453.4,73.20" fill="none" stroke="#5d6b82" stroke-width="0.8"/>
<path d="M455.2,73.20 l-2.2,-1.0 v2.0 z" fill="#2a3a55"/>
<rect x="388" y="54.60" width="64.5" height="11.8" rx="1.9" fill="#e3a083" stroke="#704434" stroke-width="0.85"/>
<text x="420.30" y="64.40" font-size="11.3" text-anchor="middle" fill="#111" stroke="#111" stroke-width="0.13" >Memristor 2</text>
<text x="228.90" y="114.40" font-size="11.0" text-anchor="start" fill="#111" stroke="#111" stroke-width="0.13" >Channel <tspan font-style="italic">N</tspan></text>
<polyline points="278.79,122.45 279.48,98.52 280.64,108.78 281.22,111.26 282.20,112.78 283.05,106.37 283.99,118.37 284.89,102.03 285.62,106.70 286.41,120.14 287.14,102.01 288.28,108.68 289.35,111.94 289.95,109.41 290.95,102.92 291.58,109.55 292.72,112.16 293.70,98.52 294.19,106.29 295.22,116.97 296.30,109.11 297.16,101.51 297.99,111.90 298.59,117.83 299.85,98.52 300.68,115.18 301.16,103.21 302.10,109.46 303.18,119.49 303.98,107.92 304.97,99.38 305.57,114.58 306.56,117.76 307.19,101.88 308.33,115.65 309.00,117.17 309.79,106.65 310.85,99.97 311.66,113.56 312.70,100.27 313.78,103.54 314.68,111.73 315.00,101.92 316.02,122.45 317.27,106.08 317.90,110.95 318.52,99.13 319.38,117.07 320.43,105.79 321.21,122.45 322.08,120.20 323.07,103.52 324.14,98.68 324.68,110.26 325.53,112.74 326.39,108.68 327.55,116.74 328.56,107.15 329.20,107.59 330.14,111.02 331.22,98.52 331.97,106.38 332.77,117.85 333.77,112.78 334.26,105.74 335.34,118.26 336.28,120.83 337.08,104.40 338.25,104.81 338.93,109.95 339.75,105.65 340.56,115.68 341.53,112.93 342.12,109.16 343.15,109.01 344.32,111.10 345.24,110.44 345.87,99.41 346.75,105.29 347.86,114.42 348.49,111.50 349.14,103.81 350.29,105.05 351.26,114.19 351.74,113.61 352.85,105.31 353.55,121.24 354.63,110.29 355.36,104.11 356.36,106.85 357.09,114.90 357.77,108.99 358.87,111.84 359.97,111.38 360.60,107.32 361.42,98.52 362.25,120.99 363.25,104.60 364.02,99.93 365.29,117.77 366.07,106.63 366.89,101.44" fill="none" stroke="#93b3db" stroke-width="0.6" stroke-linejoin="round"/>
<line x1="371.5" y1="110.6" x2="383.6" y2="110.6" stroke="#333" stroke-width="0.8"/>
<polyline points="402.2,114.4 402.2,129.60 453.4,129.60" fill="none" stroke="#5d6b82" stroke-width="0.8"/>
<path d="M455.2,129.60 l-2.2,-1.0 v2.0 z" fill="#2a3a55"/>
<polyline points="409.1,114.4 409.1,125.70 453.4,125.70" fill="none" stroke="#5d6b82" stroke-width="0.8"/>
<path d="M455.2,125.70 l-2.2,-1.0 v2.0 z" fill="#2a3a55"/>
<polyline points="416.4,114.4 416.4,121.80 453.4,121.80" fill="none" stroke="#5d6b82" stroke-width="0.8"/>
<path d="M455.2,121.80 l-2.2,-1.0 v2.0 z" fill="#2a3a55"/>
<rect x="388" y="103.20" width="64.5" height="11.8" rx="1.9" fill="#e3a083" stroke="#704434" stroke-width="0.85"/>
<text x="420.30" y="113.00" font-size="11.3" text-anchor="middle" fill="#111" stroke="#111" stroke-width="0.13" >Memristor N</text>
<circle cx="324" cy="80.8" r="0.5" fill="#555"/>
<circle cx="324" cy="83.2" r="0.5" fill="#555"/>
<circle cx="324" cy="85.60000000000001" r="0.5" fill="#555"/>
<rect x="462.6" y="21.7" width="8.9" height="111.7" rx="2.3" fill="#fff" stroke="#333" stroke-width="0.75"/>
<circle cx="467.05" cy="27.50" r="1.9" fill="#0a0a0a"/>
<circle cx="467.05" cy="33.72" r="1.9" fill="#0a0a0a"/>
<circle cx="467.05" cy="39.94" r="1.9" fill="#0a0a0a"/>
<circle cx="467.05" cy="46.16" r="1.9" fill="#0a0a0a"/>
<circle cx="467.05" cy="52.38" r="1.9" fill="#0a0a0a"/>
<circle cx="467.05" cy="58.60" r="1.9" fill="#0a0a0a"/>
<circle cx="467.05" cy="64.82" r="1.9" fill="#0a0a0a"/>
<circle cx="467.05" cy="71.04" r="1.9" fill="#0a0a0a"/>
<circle cx="467.05" cy="77.26" r="1.9" fill="#0a0a0a"/>
<circle cx="467.05" cy="83.48" r="1.9" fill="#0a0a0a"/>
<circle cx="467.05" cy="103.2" r="0.7" fill="#222"/>
<circle cx="467.05" cy="106.8" r="0.7" fill="#222"/>
<circle cx="467.05" cy="110.39999999999999" r="0.7" fill="#222"/>
<circle cx="467.05" cy="126.2" r="1.9" fill="#0a0a0a"/>
<path d="M478.2,75.7 h7.2 v-2.6 l6.2,4.8 l-6.2,4.8 v-2.6 h-7.2 z" fill="#fff" stroke="#444" stroke-width="0.75" stroke-linejoin="miter"/>
<circle cx="500.2" cy="77.8" r="3.7" fill="#c20d14"/>
<text x="502.60" y="68.50" font-size="10.9" text-anchor="middle" fill="#111" stroke="#111" stroke-width="0.13" >Output</text>
<path d="M343.7,125.0 v1.7 h10 v-1.7" fill="none" stroke="#4f7db5" stroke-width="0.75"/>
<text x="347.60" y="139.50" font-size="11.2" text-anchor="middle" fill="#111" stroke="#111" stroke-width="0.13" >Input size</text>
<text x="1.30" y="151.00" font-size="13.5" text-anchor="start" fill="#111" stroke="#111" stroke-width="0.13" >(c)</text>
<rect x="32.0" y="160.3" width="173.0" height="59.099999999999994" fill="#fff" stroke="#777" stroke-width="0.75"/>
<line x1="32.0" y1="211.20" x2="33.6" y2="211.20" stroke="#555" stroke-width="0.5"/>
<text x="30.00" y="214.20" font-size="8.9" text-anchor="end" fill="#111" stroke="#111" stroke-width="0.13" >0.00</text>
<line x1="32.0" y1="197.40" x2="33.6" y2="197.40" stroke="#555" stroke-width="0.5"/>
<text x="30.00" y="200.40" font-size="8.9" text-anchor="end" fill="#111" stroke="#111" stroke-width="0.13" >0.01</text>
<line x1="32.0" y1="183.60" x2="33.6" y2="183.60" stroke="#555" stroke-width="0.5"/>
<text x="30.00" y="186.60" font-size="8.9" text-anchor="end" fill="#111" stroke="#111" stroke-width="0.13" >0.02</text>
<line x1="32.0" y1="169.80" x2="33.6" y2="169.80" stroke="#555" stroke-width="0.5"/>
<text x="30.00" y="172.80" font-size="8.9" text-anchor="end" fill="#111" stroke="#111" stroke-width="0.13" >0.03</text>
<line x1="40.20" y1="219.4" x2="40.20" y2="217.8" stroke="#555" stroke-width="0.5"/>
<line x1="65.55" y1="219.4" x2="65.55" y2="217.8" stroke="#555" stroke-width="0.5"/>
<line x1="90.90" y1="219.4" x2="90.90" y2="217.8" stroke="#555" stroke-width="0.5"/>
<line x1="116.25" y1="219.4" x2="116.25" y2="217.8" stroke="#555" stroke-width="0.5"/>
<line x1="141.60" y1="219.4" x2="141.60" y2="217.8" stroke="#555" stroke-width="0.5"/>
<line x1="166.95" y1="219.4" x2="166.95" y2="217.8" stroke="#555" stroke-width="0.5"/>
<line x1="192.30" y1="219.4" x2="192.30" y2="217.8" stroke="#555" stroke-width="0.5"/>
<circle cx="40.20" cy="211.20" r="1.65" fill="#2d5c99"/>
<circle cx="45.27" cy="211.46" r="1.65" fill="#2d5c99"/>
<circle cx="50.34" cy="210.93" r="1.65" fill="#2d5c99"/>
<circle cx="55.41" cy="210.40" r="1.65" fill="#2d5c99"/>
<circle cx="60.48" cy="212.00" r="1.65" fill="#2d5c99"/>
<circle cx="65.55" cy="213.34" r="1.65" fill="#2d5c99"/>
<circle cx="70.62" cy="212.80" r="1.65" fill="#2d5c99"/>
<circle cx="75.69" cy="203.98" r="1.65" fill="#2d5c99"/>
<circle cx="80.76" cy="205.05" r="1.65" fill="#2d5c99"/>
<circle cx="85.83" cy="204.25" r="1.65" fill="#2d5c99"/>
<circle cx="90.90" cy="208.26" r="1.65" fill="#2d5c99"/>
<circle cx="95.97" cy="209.33" r="1.65" fill="#2d5c99"/>
<circle cx="101.04" cy="202.11" r="1.65" fill="#2d5c99"/>
<circle cx="106.11" cy="202.11" r="1.65" fill="#2d5c99"/>
<circle cx="111.18" cy="212.80" r="1.65" fill="#2d5c99"/>
<circle cx="116.25" cy="214.40" r="1.65" fill="#2d5c99"/>
<circle cx="121.32" cy="214.14" r="1.65" fill="#2d5c99"/>
<circle cx="126.39" cy="212.00" r="1.65" fill="#2d5c99"/>
<circle cx="131.46" cy="213.60" r="1.65" fill="#2d5c99"/>
<circle cx="136.53" cy="213.07" r="1.65" fill="#2d5c99"/>
<circle cx="141.60" cy="212.00" r="1.65" fill="#2d5c99"/>
<circle cx="146.67" cy="201.04" r="1.65" fill="#2d5c99"/>
<circle cx="151.74" cy="193.56" r="1.65" fill="#2d5c99"/>
<circle cx="156.81" cy="212.00" r="1.65" fill="#2d5c99"/>
<circle cx="161.88" cy="207.19" r="1.65" fill="#2d5c99"/>
<circle cx="166.95" cy="207.99" r="1.65" fill="#2d5c99"/>
<circle cx="172.02" cy="209.06" r="1.65" fill="#2d5c99"/>
<circle cx="177.09" cy="208.79" r="1.65" fill="#2d5c99"/>
<circle cx="182.16" cy="195.70" r="1.65" fill="#2d5c99"/>
<circle cx="187.23" cy="205.32" r="1.65" fill="#2d5c99"/>
<circle cx="192.30" cy="207.46" r="1.65" fill="#2d5c99"/>
<circle cx="197.37" cy="202.91" r="1.65" fill="#2d5c99"/>
<rect x="32.0" y="231.2" width="173.0" height="59.60000000000002" fill="#fff" stroke="#777" stroke-width="0.75"/>
<line x1="32.0" y1="281.90" x2="33.6" y2="281.90" stroke="#555" stroke-width="0.5"/>
<text x="30.00" y="284.90" font-size="8.9" text-anchor="end" fill="#111" stroke="#111" stroke-width="0.13" >0.00</text>
<line x1="32.0" y1="267.85" x2="33.6" y2="267.85" stroke="#555" stroke-width="0.5"/>
<text x="30.00" y="270.85" font-size="8.9" text-anchor="end" fill="#111" stroke="#111" stroke-width="0.13" >0.01</text>
<line x1="32.0" y1="253.80" x2="33.6" y2="253.80" stroke="#555" stroke-width="0.5"/>
<text x="30.00" y="256.80" font-size="8.9" text-anchor="end" fill="#111" stroke="#111" stroke-width="0.13" >0.02</text>
<line x1="32.0" y1="239.75" x2="33.6" y2="239.75" stroke="#555" stroke-width="0.5"/>
<text x="30.00" y="242.75" font-size="8.9" text-anchor="end" fill="#111" stroke="#111" stroke-width="0.13" >0.03</text>
<line x1="40.20" y1="290.8" x2="40.20" y2="289.2" stroke="#555" stroke-width="0.5"/>
<line x1="65.55" y1="290.8" x2="65.55" y2="289.2" stroke="#555" stroke-width="0.5"/>
<line x1="90.90" y1="290.8" x2="90.90" y2="289.2" stroke="#555" stroke-width="0.5"/>
<line x1="116.25" y1="290.8" x2="116.25" y2="289.2" stroke="#555" stroke-width="0.5"/>
<line x1="141.60" y1="290.8" x2="141.60" y2="289.2" stroke="#555" stroke-width="0.5"/>
<line x1="166.95" y1="290.8" x2="166.95" y2="289.2" stroke="#555" stroke-width="0.5"/>
<line x1="192.30" y1="290.8" x2="192.30" y2="289.2" stroke="#555" stroke-width="0.5"/>
<circle cx="40.20" cy="286.42" r="1.65" fill="#2d5c99"/>
<circle cx="45.27" cy="286.71" r="1.65" fill="#2d5c99"/>
<circle cx="50.34" cy="282.62" r="1.65" fill="#2d5c99"/>
<circle cx="55.41" cy="283.20" r="1.65" fill="#2d5c99"/>
<circle cx="60.48" cy="283.50" r="1.65" fill="#2d5c99"/>
<circle cx="65.55" cy="274.43" r="1.65" fill="#2d5c99"/>
<circle cx="70.62" cy="273.84" r="1.65" fill="#2d5c99"/>
<circle cx="75.69" cy="285.84" r="1.65" fill="#2d5c99"/>
<circle cx="80.76" cy="271.80" r="1.65" fill="#2d5c99"/>
<circle cx="85.83" cy="255.71" r="1.65" fill="#2d5c99"/>
<circle cx="90.90" cy="285.25" r="1.65" fill="#2d5c99"/>
<circle cx="95.97" cy="282.33" r="1.65" fill="#2d5c99"/>
<circle cx="101.04" cy="256.00" r="1.65" fill="#2d5c99"/>
<circle cx="106.11" cy="282.62" r="1.65" fill="#2d5c99"/>
<circle cx="111.18" cy="273.26" r="1.65" fill="#2d5c99"/>
<circle cx="116.25" cy="283.20" r="1.65" fill="#2d5c99"/>
<circle cx="121.32" cy="281.74" r="1.65" fill="#2d5c99"/>
<circle cx="126.39" cy="281.74" r="1.65" fill="#2d5c99"/>
<circle cx="131.46" cy="283.50" r="1.65" fill="#2d5c99"/>
<circle cx="136.53" cy="261.56" r="1.65" fill="#2d5c99"/>
<circle cx="141.60" cy="284.96" r="1.65" fill="#2d5c99"/>
<circle cx="146.67" cy="282.91" r="1.65" fill="#2d5c99"/>
<circle cx="151.74" cy="282.62" r="1.65" fill="#2d5c99"/>
<circle cx="156.81" cy="264.49" r="1.65" fill="#2d5c99"/>
<circle cx="161.88" cy="234.07" r="1.65" fill="#2d5c99"/>
<circle cx="166.95" cy="282.62" r="1.65" fill="#2d5c99"/>
<circle cx="172.02" cy="284.96" r="1.65" fill="#2d5c99"/>
<circle cx="177.09" cy="285.54" r="1.65" fill="#2d5c99"/>
<circle cx="182.16" cy="287.88" r="1.65" fill="#2d5c99"/>
<circle cx="187.23" cy="284.37" r="1.65" fill="#2d5c99"/>
<circle cx="192.30" cy="287.30" r="1.65" fill="#2d5c99"/>
<circle cx="197.37" cy="272.67" r="1.65" fill="#2d5c99"/>
<text x="37.40" y="169.10" font-size="11.4" text-anchor="start" fill="#111" stroke="#111" stroke-width="0.13" >Interictal</text>
<text x="48.60" y="239.90" font-size="11.4" text-anchor="start" fill="#111" stroke="#111" stroke-width="0.13" >Ictal</text>
<text x="40.20" y="300.60" font-size="9.3" text-anchor="middle" fill="#111" stroke="#111" stroke-width="0.13" >0</text>
<text x="65.55" y="300.60" font-size="9.3" text-anchor="middle" fill="#111" stroke="#111" stroke-width="0.13" >5</text>
<text x="90.90" y="300.60" font-size="9.3" text-anchor="middle" fill="#111" stroke="#111" stroke-width="0.13" >10</text>
<text x="116.25" y="300.60" font-size="9.3" text-anchor="middle" fill="#111" stroke="#111" stroke-width="0.13" >15</text>
<text x="141.60" y="300.60" font-size="9.3" text-anchor="middle" fill="#111" stroke="#111" stroke-width="0.13" >20</text>
<text x="166.95" y="300.60" font-size="9.3" text-anchor="middle" fill="#111" stroke="#111" stroke-width="0.13" >25</text>
<text x="192.30" y="300.60" font-size="9.3" text-anchor="middle" fill="#111" stroke="#111" stroke-width="0.13" >30</text>
<text x="115.00" y="313.80" font-size="12.05" text-anchor="middle" fill="#111" stroke="#111" stroke-width="0.13" >Time step</text>
<text transform="translate(10.50,228.00) rotate(-90)" font-size="12.1" text-anchor="middle" fill="#111" stroke="#111" stroke-width="0.13" >Response current (µA)</text>
<text x="221.80" y="151.90" font-size="14" text-anchor="start" fill="#111" stroke="#111" stroke-width="0.13" >(d)</text>
<rect x="255.45" y="238.20" width="20.5" height="43.50" fill="#4c95b0"/>
<rect x="290.55" y="201.80" width="20.5" height="79.90" fill="#4c95b0"/>
<rect x="252.35" y="163.8" width="61.79999999999998" height="117.89999999999998" fill="none" stroke="#555" stroke-width="0.8"/>
<line x1="252.35" y1="164.80" x2="253.95" y2="164.80" stroke="#555" stroke-width="0.5"/>
<text x="251.15" y="167.80" font-size="8.9" text-anchor="end" fill="#111" stroke="#111" stroke-width="0.13" >100</text>
<line x1="252.35" y1="188.00" x2="253.95" y2="188.00" stroke="#555" stroke-width="0.5"/>
<text x="251.15" y="191.00" font-size="8.9" text-anchor="end" fill="#111" stroke="#111" stroke-width="0.13" >96</text>
<line x1="252.35" y1="211.20" x2="253.95" y2="211.20" stroke="#555" stroke-width="0.5"/>
<text x="251.15" y="214.20" font-size="8.9" text-anchor="end" fill="#111" stroke="#111" stroke-width="0.13" >92</text>
<line x1="252.35" y1="234.40" x2="253.95" y2="234.40" stroke="#555" stroke-width="0.5"/>
<text x="251.15" y="237.40" font-size="8.9" text-anchor="end" fill="#111" stroke="#111" stroke-width="0.13" >88</text>
<line x1="252.35" y1="257.60" x2="253.95" y2="257.60" stroke="#555" stroke-width="0.5"/>
<text x="251.15" y="260.60" font-size="8.9" text-anchor="end" fill="#111" stroke="#111" stroke-width="0.13" >84</text>
<line x1="252.35" y1="280.80" x2="253.95" y2="280.80" stroke="#555" stroke-width="0.5"/>
<text x="251.15" y="283.80" font-size="8.9" text-anchor="end" fill="#111" stroke="#111" stroke-width="0.13" >80</text>
<text transform="translate(237.75,223.45) rotate(-90) scale(1,0.93)" font-size="12.25" text-anchor="middle" fill="#111" stroke="#111" stroke-width="0.13" >Accuracy (%)</text>
<text transform="translate(279.20,288.00) rotate(-33)" font-size="12.2" text-anchor="end" fill="#111" stroke="#111" stroke-width="0.13" >Logistic</text>
<text transform="translate(313.35,288.80) rotate(-33)" font-size="12" text-anchor="end" fill="#111" stroke="#111" stroke-width="0.13" font-weight="bold">Reservoir</text>
<rect x="348.30" y="250.20" width="20.5" height="31.50" fill="#4c95b0"/>
<rect x="383.40" y="179.60" width="20.5" height="102.10" fill="#4c95b0"/>
<rect x="345.2" y="163.8" width="61.80000000000001" height="117.89999999999998" fill="none" stroke="#555" stroke-width="0.8"/>
<line x1="345.2" y1="164.80" x2="346.8" y2="164.80" stroke="#555" stroke-width="0.5"/>
<text x="344.00" y="167.80" font-size="8.9" text-anchor="end" fill="#111" stroke="#111" stroke-width="0.13" >100</text>
<line x1="345.2" y1="188.00" x2="346.8" y2="188.00" stroke="#555" stroke-width="0.5"/>
<text x="344.00" y="191.00" font-size="8.9" text-anchor="end" fill="#111" stroke="#111" stroke-width="0.13" >80</text>
<line x1="345.2" y1="211.20" x2="346.8" y2="211.20" stroke="#555" stroke-width="0.5"/>
<text x="344.00" y="214.20" font-size="8.9" text-anchor="end" fill="#111" stroke="#111" stroke-width="0.13" >60</text>
<line x1="345.2" y1="234.40" x2="346.8" y2="234.40" stroke="#555" stroke-width="0.5"/>
<text x="344.00" y="237.40" font-size="8.9" text-anchor="end" fill="#111" stroke="#111" stroke-width="0.13" >40</text>
<line x1="345.2" y1="257.60" x2="346.8" y2="257.60" stroke="#555" stroke-width="0.5"/>
<text x="344.00" y="260.60" font-size="8.9" text-anchor="end" fill="#111" stroke="#111" stroke-width="0.13" >20</text>
<line x1="345.2" y1="280.80" x2="346.8" y2="280.80" stroke="#555" stroke-width="0.5"/>
<text x="344.00" y="283.80" font-size="8.9" text-anchor="end" fill="#111" stroke="#111" stroke-width="0.13" >0</text>
<text transform="translate(328.80,220.55) rotate(-90) scale(1,0.93)" font-size="12.25" text-anchor="middle" fill="#111" stroke="#111" stroke-width="0.13" >Sensitivity (%)</text>
<text transform="translate(372.05,288.00) rotate(-33)" font-size="12.2" text-anchor="end" fill="#111" stroke="#111" stroke-width="0.13" >Logistic</text>
<text transform="translate(406.20,288.80) rotate(-33)" font-size="12" text-anchor="end" fill="#111" stroke="#111" stroke-width="0.13" font-weight="bold">Reservoir</text>
<rect x="440.30" y="232.30" width="20.5" height="49.40" fill="#4c95b0"/>
<rect x="475.70" y="201.00" width="20.5" height="80.70" fill="#4c95b0"/>
<rect x="437.2" y="163.8" width="62.10000000000002" height="117.89999999999998" fill="none" stroke="#555" stroke-width="0.8"/>
<line x1="437.2" y1="164.80" x2="438.8" y2="164.80" stroke="#555" stroke-width="0.5"/>
<text x="436.00" y="167.80" font-size="8.9" text-anchor="end" fill="#111" stroke="#111" stroke-width="0.13" >100</text>
<line x1="437.2" y1="188.00" x2="438.8" y2="188.00" stroke="#555" stroke-width="0.5"/>
<text x="436.00" y="191.00" font-size="8.9" text-anchor="end" fill="#111" stroke="#111" stroke-width="0.13" >96</text>
<line x1="437.2" y1="211.20" x2="438.8" y2="211.20" stroke="#555" stroke-width="0.5"/>
<text x="436.00" y="214.20" font-size="8.9" text-anchor="end" fill="#111" stroke="#111" stroke-width="0.13" >92</text>
<line x1="437.2" y1="234.40" x2="438.8" y2="234.40" stroke="#555" stroke-width="0.5"/>
<text x="436.00" y="237.40" font-size="8.9" text-anchor="end" fill="#111" stroke="#111" stroke-width="0.13" >88</text>
<line x1="437.2" y1="257.60" x2="438.8" y2="257.60" stroke="#555" stroke-width="0.5"/>
<text x="436.00" y="260.60" font-size="8.9" text-anchor="end" fill="#111" stroke="#111" stroke-width="0.13" >84</text>
<line x1="437.2" y1="280.80" x2="438.8" y2="280.80" stroke="#555" stroke-width="0.5"/>
<text x="436.00" y="283.80" font-size="8.9" text-anchor="end" fill="#111" stroke="#111" stroke-width="0.13" >80</text>
<text transform="translate(421.60,219.95) rotate(-90) scale(1,0.93)" font-size="12.25" text-anchor="middle" fill="#111" stroke="#111" stroke-width="0.13" >Specificity (%)</text>
<text transform="translate(464.05,288.00) rotate(-33)" font-size="12.2" text-anchor="end" fill="#111" stroke="#111" stroke-width="0.13" >Logistic</text>
<text transform="translate(498.20,288.80) rotate(-33)" font-size="12" text-anchor="end" fill="#111" stroke="#111" stroke-width="0.13" font-weight="bold">Reservoir</text>
</svg>
</body></html>
